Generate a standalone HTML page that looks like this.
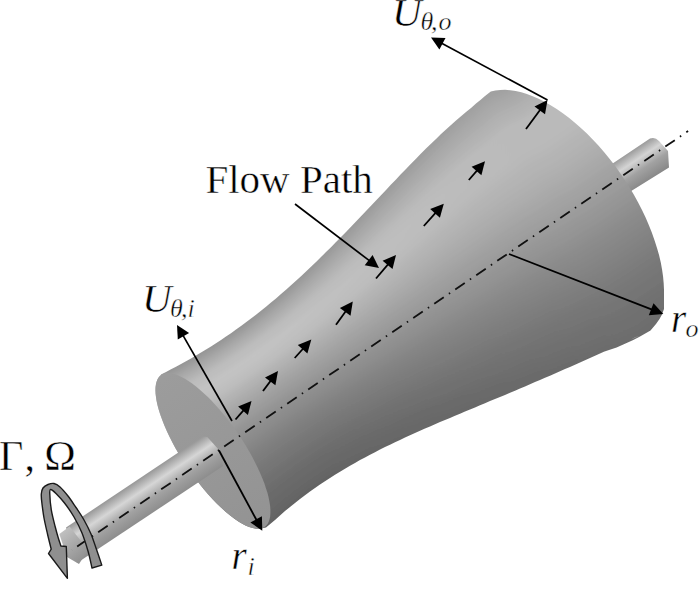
<!DOCTYPE html>
<html><head><meta charset="utf-8"><style>
html,body{margin:0;padding:0;background:#fff;}
body{width:700px;height:602px;overflow:hidden;position:relative;}
svg{position:absolute;left:0;top:0;}
text{font-family:"Liberation Serif",serif;fill:#000;stroke:#fff;stroke-width:0.45px;}
</style></head><body>
<svg width="700" height="602" viewBox="0 0 700 602">
<defs>
<linearGradient id="gShaft" gradientUnits="userSpaceOnUse" x1="138" y1="480" x2="158.6" y2="510.9">
<stop offset="0" stop-color="#9a9a9a"/>
<stop offset="0.3" stop-color="#d6d6d6"/>
<stop offset="0.62" stop-color="#a2a2a2"/>
<stop offset="1" stop-color="#8a8a8a"/>
</linearGradient>
<linearGradient id="gShaft2" gradientUnits="userSpaceOnUse" x1="636" y1="148" x2="654.9" y2="176.4">
<stop offset="0" stop-color="#9c9c9c"/>
<stop offset="0.3" stop-color="#d4d4d4"/>
<stop offset="0.62" stop-color="#a2a2a2"/>
<stop offset="1" stop-color="#888888"/>
</linearGradient>
<linearGradient id="gFace" gradientUnits="userSpaceOnUse" x1="160" y1="380" x2="260" y2="530">
<stop offset="0" stop-color="#9c9c9c"/>
<stop offset="1" stop-color="#939393"/>
</linearGradient>
<linearGradient id="gEnd" gradientUnits="userSpaceOnUse" x1="60" y1="530" x2="85" y2="560">
<stop offset="0" stop-color="#c4c4c4"/>
<stop offset="1" stop-color="#8e8e8e"/>
</linearGradient>
</defs>

<path d="M600,172 L650,138.5 Q655,136.5 659,141 L668,151 L669,167.5 L628,193 Z" fill="url(#gShaft2)"/>
<clipPath id="clipBody"><path d="M161.0,374.5 L166.0,371.9 L171.0,369.3 L176.0,366.7 L181.0,364.0 L186.0,361.2 L191.0,358.4 L196.0,355.5 L201.0,352.6 L206.0,349.5 L211.0,346.4 L216.0,343.2 L221.0,339.9 L226.0,336.6 L231.0,333.2 L236.0,329.6 L241.0,326.0 L246.0,322.3 L251.0,318.6 L256.0,314.7 L261.0,310.7 L266.0,306.7 L271.0,302.6 L276.0,298.4 L281.0,294.1 L286.0,289.7 L291.0,285.3 L296.0,280.8 L301.0,276.2 L306.0,271.5 L311.0,266.8 L316.0,262.0 L321.0,257.1 L326.0,252.1 L331.0,247.2 L336.0,242.1 L341.0,237.0 L346.0,231.9 L351.0,226.7 L356.0,221.5 L361.0,216.3 L366.0,211.0 L371.0,205.8 L376.0,200.5 L381.0,195.2 L386.0,189.9 L391.0,184.6 L396.0,179.4 L401.0,174.1 L406.0,168.9 L411.0,163.8 L416.0,158.7 L421.0,153.6 L426.0,148.6 L431.0,143.7 L436.0,138.9 L441.0,134.1 L446.0,129.5 L451.0,124.9 L456.0,120.5 L461.0,116.2 L466.0,112.1 L471.0,108.1 L476.0,103.4 L480.7,99.7 L485.0,95.9 L490.8,91.4 L495.4,90.4 L500.1,89.9 L505.1,89.8 L510.3,90.2 L515.7,91.0 L521.3,92.3 L526.9,94.0 L532.7,96.2 L538.6,98.8 L544.6,101.8 L550.6,105.2 L556.7,109.0 L562.8,113.2 L568.9,117.8 L574.9,122.7 L580.9,128.0 L586.9,133.6 L592.7,139.5 L598.4,145.6 L604.0,152.1 L609.5,158.7 L614.8,165.6 L619.9,172.7 L624.8,179.9 L629.4,187.2 L633.9,194.7 L638.0,202.3 L642.0,209.9 L645.6,217.5 L648.9,225.2 L651.9,232.8 L654.6,240.4 L657.0,247.9 L659.1,255.3 L660.8,262.6 L662.1,269.7 L663.1,276.7 L663.7,283.4 L664.0,289.9 L664.0,309.0 L662.0,314.5 L659.5,319.0 L656.0,324.0 L650.5,330.5 L640.0,336.5 L633.3,340.0 L616.6,347.5 L603.0,352.0 L640.0,335.4 L635.0,337.6 L630.0,339.9 L625.0,342.2 L620.0,344.4 L615.0,346.7 L610.0,348.9 L605.0,351.2 L600.0,353.5 L595.0,355.7 L590.0,358.0 L585.0,360.2 L580.0,362.4 L575.0,364.7 L570.0,366.9 L565.0,369.1 L560.0,371.3 L555.0,373.5 L550.0,375.7 L545.0,377.8 L540.0,380.0 L535.0,382.1 L530.0,384.3 L525.0,386.4 L520.0,388.5 L515.0,390.7 L510.0,392.8 L505.0,394.9 L500.0,397.0 L495.0,399.0 L490.0,401.1 L485.0,403.2 L480.0,405.3 L475.0,407.4 L470.0,409.5 L465.0,411.6 L460.0,413.7 L455.0,415.8 L450.0,417.9 L445.0,420.0 L440.0,422.1 L435.0,424.3 L430.0,426.4 L425.0,428.6 L420.0,430.8 L415.0,433.1 L410.0,435.3 L405.0,437.6 L400.0,439.9 L395.0,442.3 L390.0,444.7 L385.0,447.1 L380.0,449.6 L375.0,452.2 L370.0,454.8 L365.0,457.4 L360.0,460.1 L355.0,462.9 L350.0,465.8 L345.0,468.7 L340.0,471.7 L335.0,474.8 L330.0,477.9 L325.0,481.2 L320.0,484.6 L315.0,488.0 L310.0,491.6 L305.0,495.3 L300.0,499.0 L295.0,502.9 L290.0,507.0 L285.0,511.1 L280.0,515.4 L275.0,519.9 L266.0,527.6 L261.3,528.4 L258.7,528.8 L255.9,528.7 L252.8,528.1 L249.5,527.1 L246.0,525.7 L242.3,523.8 L238.4,521.5 L234.4,518.7 L230.2,515.6 L225.9,512.0 L221.6,508.1 L217.2,503.9 L212.8,499.4 L208.4,494.5 L204.0,489.5 L199.6,484.1 L195.4,478.6 L191.2,472.9 L187.2,467.1 L183.3,461.2 L179.6,455.3 L176.1,449.3 L172.8,443.3 L169.8,437.3 L167.0,431.5 L164.5,425.7 L162.3,420.1 L160.3,414.7 L158.7,409.5 L157.4,404.6 L156.4,399.9 L155.8,395.5 L155.5,391.5 L155.5,387.8 L155.9,384.5 L156.7,381.5 L157.7,379.0 L159.1,376.9 L160.8,375.3Z"/></clipPath>
<filter id="blurB" x="-5%" y="-5%" width="110%" height="110%"><feGaussianBlur stdDeviation="1.6"/></filter>
<g clip-path="url(#clipBody)"><g filter="url(#blurB)">
<linearGradient id="bg3" gradientUnits="userSpaceOnUse" x1="287.0" y1="403.8" x2="559.9" y2="218.2"><stop offset="0" stop-color="#949494"/><stop offset="1" stop-color="#a0a0a0"/></linearGradient>
<path d="M119.8,389.0 L126.4,384.6 L133.0,380.1 L139.6,375.6 L146.2,371.1 L152.8,366.6 L159.9,362.7 L167.1,359.1 L174.3,355.4 L181.3,351.6 L188.4,347.7 L195.3,343.6 L202.2,339.5 L208.9,335.2 L215.6,330.9 L222.3,326.4 L228.8,321.8 L235.3,317.1 L241.7,312.3 L248.0,307.4 L254.3,302.4 L260.5,297.2 L266.6,292.0 L272.7,286.7 L278.7,281.4 L284.7,275.9 L290.6,270.3 L296.4,264.7 L302.2,259.0 L308.0,253.3 L313.7,247.5 L319.4,241.6 L325.1,235.7 L330.7,229.8 L336.3,223.8 L341.9,217.7 L347.4,211.7 L353.0,205.6 L358.5,199.5 L364.0,193.4 L369.5,187.3 L375.1,181.2 L380.6,175.1 L386.1,169.0 L391.6,162.9 L397.2,156.8 L402.8,150.8 L408.4,144.8 L414.0,138.9 L419.7,133.0 L425.4,127.2 L431.2,121.5 L437.0,115.8 L442.9,110.3 L448.9,104.9 L455.0,99.6 L461.2,94.5 L467.1,88.8 L473.2,83.7 L480.3,79.8 L487.9,76.9 L495.4,73.6 L502.0,69.1 L508.6,64.6 L515.2,60.1 L521.8,55.6 L528.5,51.1 L535.1,46.6 L541.7,42.1 L548.3,37.6 L554.9,33.1 L561.5,28.6 L568.1,24.1 L574.8,19.6 L581.4,15.1 L834.5,387.4 L827.9,391.9 L821.3,396.4 L814.7,400.9 L808.1,405.4 L801.5,409.9 L794.8,414.4 L788.2,418.9 L781.6,423.4 L775.0,427.9 L768.4,432.4 L761.8,436.9 L755.1,441.4 L748.5,445.9 L742.2,450.8 L736.0,455.9 L729.6,460.6 L722.2,464.0 L714.2,466.5 L706.3,469.2 L698.4,471.8 L690.5,474.4 L682.6,476.9 L674.6,479.3 L666.5,481.8 L658.5,484.1 L650.4,486.4 L642.2,488.7 L634.1,491.0 L625.9,493.2 L617.7,495.3 L609.5,497.5 L601.2,499.6 L593.0,501.6 L584.7,503.7 L576.4,505.7 L568.1,507.8 L559.8,509.8 L551.5,511.8 L543.3,513.9 L535.0,515.9 L526.7,518.0 L518.5,520.2 L510.3,522.3 L502.1,524.5 L494.0,526.8 L485.9,529.2 L477.9,531.6 L470.0,534.1 L462.1,536.8 L454.3,539.5 L446.6,542.4 L438.9,545.4 L431.4,548.6 L424.0,551.9 L416.7,555.4 L409.5,559.0 L402.4,562.9 L395.5,566.9 L388.7,571.1 L382.0,575.5 L375.5,580.2 L369.1,585.0 L362.9,590.1 L356.8,595.4 L350.9,600.9 L345.1,606.6 L339.5,612.5 L333.8,618.4 L327.8,623.8 L321.1,628.3 L314.5,632.8 L307.9,637.3 L301.3,641.8 L294.7,646.3Z" fill="url(#bg3)"/>
<linearGradient id="bg5" gradientUnits="userSpaceOnUse" x1="287.0" y1="403.8" x2="559.9" y2="218.2"><stop offset="0" stop-color="#949494"/><stop offset="1" stop-color="#a0a0a0"/></linearGradient>
<path d="M121.7,392.0 L128.4,387.5 L135.0,383.0 L141.6,378.5 L148.2,374.0 L154.8,369.5 L161.9,365.6 L169.1,361.9 L176.2,358.2 L183.3,354.4 L190.2,350.4 L197.2,346.4 L204.0,342.2 L210.8,338.0 L217.5,333.6 L224.1,329.1 L230.7,324.5 L237.2,319.9 L243.6,315.1 L249.9,310.2 L256.2,305.2 L262.4,300.1 L268.6,294.9 L274.7,289.6 L280.7,284.3 L286.7,278.8 L292.6,273.3 L298.5,267.8 L304.3,262.1 L310.1,256.4 L315.9,250.7 L321.6,244.8 L327.3,239.0 L333.0,233.1 L338.6,227.1 L344.2,221.2 L349.8,215.2 L355.4,209.1 L360.9,203.1 L366.5,197.0 L372.0,191.0 L377.6,184.9 L383.1,178.8 L388.7,172.8 L394.3,166.8 L399.9,160.8 L405.5,154.8 L411.1,148.8 L416.8,143.0 L422.5,137.1 L428.2,131.4 L434.1,125.7 L439.9,120.1 L445.9,114.6 L451.9,109.2 L458.0,104.0 L464.2,98.9 L470.1,93.3 L476.3,88.1 L483.3,84.3 L491.0,81.3 L498.4,78.0 L505.0,73.5 L511.6,69.0 L518.2,64.5 L524.8,60.0 L531.4,55.5 L538.1,51.0 L544.7,46.5 L551.3,42.0 L557.9,37.5 L564.5,33.0 L571.1,28.5 L577.7,24.0 L584.4,19.5 L834.5,387.4 L827.9,391.9 L821.3,396.4 L814.7,400.9 L808.1,405.4 L801.5,409.9 L794.8,414.4 L788.2,418.9 L781.6,423.4 L775.0,427.9 L768.4,432.4 L761.8,436.9 L755.1,441.4 L748.5,445.9 L742.2,450.8 L736.0,455.9 L729.6,460.6 L722.2,464.0 L714.2,466.5 L706.3,469.2 L698.4,471.8 L690.5,474.4 L682.6,476.9 L674.6,479.3 L666.5,481.8 L658.5,484.1 L650.4,486.4 L642.2,488.7 L634.1,491.0 L625.9,493.2 L617.7,495.3 L609.5,497.5 L601.2,499.6 L593.0,501.6 L584.7,503.7 L576.4,505.7 L568.1,507.8 L559.8,509.8 L551.5,511.8 L543.3,513.9 L535.0,515.9 L526.7,518.0 L518.5,520.2 L510.3,522.3 L502.1,524.5 L494.0,526.8 L485.9,529.2 L477.9,531.6 L470.0,534.1 L462.1,536.8 L454.3,539.5 L446.6,542.4 L438.9,545.4 L431.4,548.6 L424.0,551.9 L416.7,555.4 L409.5,559.0 L402.4,562.9 L395.5,566.9 L388.7,571.1 L382.0,575.5 L375.5,580.2 L369.1,585.0 L362.9,590.1 L356.8,595.4 L350.9,600.9 L345.1,606.6 L339.5,612.5 L333.8,618.4 L327.8,623.8 L321.1,628.3 L314.5,632.8 L307.9,637.3 L301.3,641.8 L294.7,646.3Z" fill="url(#bg5)"/>
<linearGradient id="bg7" gradientUnits="userSpaceOnUse" x1="287.0" y1="403.8" x2="559.9" y2="218.2"><stop offset="0" stop-color="#949494"/><stop offset="1" stop-color="#a0a0a0"/></linearGradient>
<path d="M123.7,394.9 L130.3,390.4 L136.9,385.9 L143.6,381.4 L150.2,376.9 L156.8,372.4 L163.8,368.5 L171.0,364.8 L178.1,361.0 L185.2,357.2 L192.1,353.2 L199.1,349.2 L205.9,345.0 L212.7,340.7 L219.4,336.4 L226.0,331.9 L232.6,327.3 L239.1,322.6 L245.5,317.8 L251.8,312.9 L258.1,308.0 L264.3,302.9 L270.5,297.8 L276.6,292.5 L282.7,287.2 L288.7,281.8 L294.6,276.3 L300.6,270.8 L306.4,265.2 L312.2,259.5 L318.0,253.8 L323.8,248.1 L329.5,242.2 L335.2,236.4 L340.9,230.5 L346.5,224.6 L352.1,218.6 L357.8,212.6 L363.4,206.7 L369.0,200.7 L374.5,194.6 L380.1,188.6 L385.7,182.6 L391.3,176.6 L396.9,170.6 L402.5,164.7 L408.2,158.8 L413.9,152.9 L419.6,147.0 L425.3,141.2 L431.1,135.5 L436.9,129.9 L442.8,124.3 L448.8,118.9 L454.8,113.5 L461.0,108.3 L467.2,103.3 L473.1,97.7 L479.3,92.6 L486.3,88.7 L494.0,85.7 L501.4,82.4 L508.0,77.9 L514.6,73.4 L521.2,68.9 L527.8,64.4 L534.4,59.9 L541.0,55.4 L547.7,50.9 L554.3,46.4 L560.9,41.9 L567.5,37.4 L574.1,32.9 L580.7,28.4 L587.4,23.9 L834.5,387.4 L827.9,391.9 L821.3,396.4 L814.7,400.9 L808.1,405.4 L801.5,409.9 L794.8,414.4 L788.2,418.9 L781.6,423.4 L775.0,427.9 L768.4,432.4 L761.8,436.9 L755.1,441.4 L748.5,445.9 L742.2,450.8 L736.0,455.9 L729.6,460.6 L722.2,464.0 L714.2,466.5 L706.3,469.2 L698.4,471.8 L690.5,474.4 L682.6,476.9 L674.6,479.3 L666.5,481.8 L658.5,484.1 L650.4,486.4 L642.2,488.7 L634.1,491.0 L625.9,493.2 L617.7,495.3 L609.5,497.5 L601.2,499.6 L593.0,501.6 L584.7,503.7 L576.4,505.7 L568.1,507.8 L559.8,509.8 L551.5,511.8 L543.3,513.9 L535.0,515.9 L526.7,518.0 L518.5,520.2 L510.3,522.3 L502.1,524.5 L494.0,526.8 L485.9,529.2 L477.9,531.6 L470.0,534.1 L462.1,536.8 L454.3,539.5 L446.6,542.4 L438.9,545.4 L431.4,548.6 L424.0,551.9 L416.7,555.4 L409.5,559.0 L402.4,562.9 L395.5,566.9 L388.7,571.1 L382.0,575.5 L375.5,580.2 L369.1,585.0 L362.9,590.1 L356.8,595.4 L350.9,600.9 L345.1,606.6 L339.5,612.5 L333.8,618.4 L327.8,623.8 L321.1,628.3 L314.5,632.8 L307.9,637.3 L301.3,641.8 L294.7,646.3Z" fill="url(#bg7)"/>
<linearGradient id="bg9" gradientUnits="userSpaceOnUse" x1="287.0" y1="403.8" x2="559.9" y2="218.2"><stop offset="0" stop-color="#969696"/><stop offset="1" stop-color="#a1a1a1"/></linearGradient>
<path d="M125.7,397.8 L132.3,393.3 L138.9,388.8 L145.5,384.3 L152.2,379.8 L158.8,375.3 L165.8,371.4 L172.9,367.7 L180.0,363.9 L187.1,360.0 L194.0,356.0 L200.9,351.9 L207.8,347.7 L214.5,343.5 L221.2,339.1 L227.9,334.6 L234.4,330.0 L240.9,325.4 L247.4,320.6 L253.7,315.7 L260.0,310.8 L266.3,305.7 L272.5,300.6 L278.6,295.4 L284.7,290.1 L290.7,284.8 L296.7,279.3 L302.6,273.8 L308.5,268.3 L314.4,262.6 L320.2,257.0 L326.0,251.3 L331.7,245.5 L337.5,239.7 L343.2,233.9 L348.8,228.0 L354.5,222.1 L360.1,216.2 L365.8,210.2 L371.4,204.3 L377.0,198.3 L382.7,192.4 L388.3,186.4 L393.9,180.5 L399.6,174.5 L405.2,168.6 L410.9,162.7 L416.6,156.9 L422.3,151.1 L428.1,145.4 L433.9,139.7 L439.8,134.1 L445.7,128.6 L451.7,123.2 L457.8,117.9 L463.9,112.7 L470.2,107.6 L476.1,102.2 L482.3,97.1 L489.4,93.2 L497.0,90.1 L504.3,86.8 L511.0,82.3 L517.6,77.8 L524.2,73.3 L530.8,68.8 L537.4,64.3 L544.0,59.8 L550.7,55.3 L557.3,50.8 L563.9,46.3 L570.5,41.8 L577.1,37.3 L583.7,32.8 L590.3,28.3 L834.5,387.4 L827.9,391.9 L821.3,396.4 L814.7,400.9 L808.1,405.4 L801.5,409.9 L794.8,414.4 L788.2,418.9 L781.6,423.4 L775.0,427.9 L768.4,432.4 L761.8,436.9 L755.1,441.4 L748.5,445.9 L742.2,450.8 L736.0,455.9 L729.6,460.6 L722.2,464.0 L714.2,466.5 L706.3,469.2 L698.4,471.8 L690.5,474.4 L682.6,476.9 L674.6,479.3 L666.5,481.8 L658.5,484.1 L650.4,486.4 L642.2,488.7 L634.1,491.0 L625.9,493.2 L617.7,495.3 L609.5,497.5 L601.2,499.6 L593.0,501.6 L584.7,503.7 L576.4,505.7 L568.1,507.8 L559.8,509.8 L551.5,511.8 L543.3,513.9 L535.0,515.9 L526.7,518.0 L518.5,520.2 L510.3,522.3 L502.1,524.5 L494.0,526.8 L485.9,529.2 L477.9,531.6 L470.0,534.1 L462.1,536.8 L454.3,539.5 L446.6,542.4 L438.9,545.4 L431.4,548.6 L424.0,551.9 L416.7,555.4 L409.5,559.0 L402.4,562.9 L395.5,566.9 L388.7,571.1 L382.0,575.5 L375.5,580.2 L369.1,585.0 L362.9,590.1 L356.8,595.4 L350.9,600.9 L345.1,606.6 L339.5,612.5 L333.8,618.4 L327.8,623.8 L321.1,628.3 L314.5,632.8 L307.9,637.3 L301.3,641.8 L294.7,646.3Z" fill="url(#bg9)"/>
<linearGradient id="bg11" gradientUnits="userSpaceOnUse" x1="287.0" y1="403.8" x2="559.9" y2="218.2"><stop offset="0" stop-color="#9d9d9d"/><stop offset="1" stop-color="#a5a5a5"/></linearGradient>
<path d="M127.7,400.7 L134.3,396.2 L140.9,391.7 L147.5,387.2 L154.1,382.7 L160.7,378.2 L167.8,374.3 L174.9,370.5 L182.0,366.7 L189.0,362.8 L195.9,358.8 L202.8,354.7 L209.6,350.5 L216.4,346.2 L223.1,341.8 L229.7,337.4 L236.3,332.8 L242.8,328.1 L249.2,323.4 L255.6,318.5 L261.9,313.6 L268.2,308.6 L274.4,303.5 L280.6,298.3 L286.7,293.0 L292.7,287.7 L298.7,282.3 L304.7,276.9 L310.6,271.3 L316.5,265.8 L322.3,260.1 L328.2,254.5 L333.9,248.8 L339.7,243.0 L345.4,237.2 L351.2,231.4 L356.9,225.5 L362.5,219.7 L368.2,213.8 L373.9,207.9 L379.5,202.0 L385.2,196.1 L390.9,190.2 L396.5,184.3 L402.2,178.4 L407.9,172.6 L413.6,166.7 L419.3,160.9 L425.1,155.2 L430.9,149.5 L436.8,143.9 L442.6,138.3 L448.6,132.8 L454.6,127.4 L460.7,122.2 L466.9,117.0 L473.2,112.0 L479.1,106.6 L485.4,101.5 L492.4,97.6 L500.0,94.6 L507.3,91.2 L514.0,86.7 L520.6,82.2 L527.2,77.7 L533.8,73.2 L540.4,68.7 L547.0,64.2 L553.6,59.7 L560.3,55.2 L566.9,50.7 L573.5,46.2 L580.1,41.7 L586.7,37.2 L593.3,32.7 L834.5,387.4 L827.9,391.9 L821.3,396.4 L814.7,400.9 L808.1,405.4 L801.5,409.9 L794.8,414.4 L788.2,418.9 L781.6,423.4 L775.0,427.9 L768.4,432.4 L761.8,436.9 L755.1,441.4 L748.5,445.9 L742.2,450.8 L736.0,455.9 L729.6,460.6 L722.2,464.0 L714.2,466.5 L706.3,469.2 L698.4,471.8 L690.5,474.4 L682.6,476.9 L674.6,479.3 L666.5,481.8 L658.5,484.1 L650.4,486.4 L642.2,488.7 L634.1,491.0 L625.9,493.2 L617.7,495.3 L609.5,497.5 L601.2,499.6 L593.0,501.6 L584.7,503.7 L576.4,505.7 L568.1,507.8 L559.8,509.8 L551.5,511.8 L543.3,513.9 L535.0,515.9 L526.7,518.0 L518.5,520.2 L510.3,522.3 L502.1,524.5 L494.0,526.8 L485.9,529.2 L477.9,531.6 L470.0,534.1 L462.1,536.8 L454.3,539.5 L446.6,542.4 L438.9,545.4 L431.4,548.6 L424.0,551.9 L416.7,555.4 L409.5,559.0 L402.4,562.9 L395.5,566.9 L388.7,571.1 L382.0,575.5 L375.5,580.2 L369.1,585.0 L362.9,590.1 L356.8,595.4 L350.9,600.9 L345.1,606.6 L339.5,612.5 L333.8,618.4 L327.8,623.8 L321.1,628.3 L314.5,632.8 L307.9,637.3 L301.3,641.8 L294.7,646.3Z" fill="url(#bg11)"/>
<linearGradient id="bg13" gradientUnits="userSpaceOnUse" x1="287.0" y1="403.8" x2="559.9" y2="218.2"><stop offset="0" stop-color="#a4a4a4"/><stop offset="1" stop-color="#a9a9a9"/></linearGradient>
<path d="M129.6,403.6 L136.3,399.1 L142.9,394.6 L149.5,390.1 L156.1,385.6 L162.7,381.1 L169.7,377.2 L176.8,373.4 L183.9,369.5 L190.9,365.6 L197.8,361.6 L204.7,357.5 L211.5,353.3 L218.3,349.0 L225.0,344.6 L231.6,340.1 L238.2,335.5 L244.7,330.9 L251.1,326.1 L257.5,321.3 L263.8,316.4 L270.1,311.4 L276.3,306.3 L282.5,301.2 L288.6,295.9 L294.7,290.7 L300.7,285.3 L306.7,279.9 L312.7,274.4 L318.6,268.9 L324.5,263.3 L330.3,257.7 L336.2,252.0 L342.0,246.3 L347.7,240.6 L353.5,234.8 L359.2,229.0 L364.9,223.2 L370.6,217.4 L376.3,211.5 L382.0,205.7 L387.7,199.8 L393.4,194.0 L399.1,188.1 L404.8,182.3 L410.6,176.5 L416.3,170.7 L422.1,165.0 L427.9,159.3 L433.7,153.6 L439.6,148.0 L445.5,142.5 L451.5,137.1 L457.5,131.7 L463.7,126.5 L469.9,121.4 L476.2,116.4 L482.1,111.0 L488.4,106.0 L495.4,102.1 L503.0,99.0 L510.3,95.6 L516.9,91.1 L523.6,86.6 L530.2,82.1 L536.8,77.6 L543.4,73.1 L550.0,68.6 L556.6,64.1 L563.3,59.6 L569.9,55.1 L576.5,50.6 L583.1,46.1 L589.7,41.6 L596.3,37.1 L834.5,387.4 L827.9,391.9 L821.3,396.4 L814.7,400.9 L808.1,405.4 L801.5,409.9 L794.8,414.4 L788.2,418.9 L781.6,423.4 L775.0,427.9 L768.4,432.4 L761.8,436.9 L755.1,441.4 L748.5,445.9 L742.2,450.8 L736.0,455.9 L729.6,460.6 L722.2,464.0 L714.2,466.5 L706.3,469.2 L698.4,471.8 L690.5,474.4 L682.6,476.9 L674.6,479.3 L666.5,481.8 L658.5,484.1 L650.4,486.4 L642.2,488.7 L634.1,491.0 L625.9,493.2 L617.7,495.3 L609.5,497.5 L601.2,499.6 L593.0,501.6 L584.7,503.7 L576.4,505.7 L568.1,507.8 L559.8,509.8 L551.5,511.8 L543.3,513.9 L535.0,515.9 L526.7,518.0 L518.5,520.2 L510.3,522.3 L502.1,524.5 L494.0,526.8 L485.9,529.2 L477.9,531.6 L470.0,534.1 L462.1,536.8 L454.3,539.5 L446.6,542.4 L438.9,545.4 L431.4,548.6 L424.0,551.9 L416.7,555.4 L409.5,559.0 L402.4,562.9 L395.5,566.9 L388.7,571.1 L382.0,575.5 L375.5,580.2 L369.1,585.0 L362.9,590.1 L356.8,595.4 L350.9,600.9 L345.1,606.6 L339.5,612.5 L333.8,618.4 L327.8,623.8 L321.1,628.3 L314.5,632.8 L307.9,637.3 L301.3,641.8 L294.7,646.3Z" fill="url(#bg13)"/>
<linearGradient id="bg15" gradientUnits="userSpaceOnUse" x1="287.0" y1="403.8" x2="559.9" y2="218.2"><stop offset="0" stop-color="#aaaaaa"/><stop offset="1" stop-color="#acacac"/></linearGradient>
<path d="M131.6,406.5 L138.2,402.0 L144.8,397.5 L151.5,393.0 L158.1,388.5 L164.7,384.0 L171.7,380.0 L178.8,376.2 L185.8,372.4 L192.8,368.4 L199.7,364.3 L206.6,360.2 L213.4,356.0 L220.1,351.7 L226.8,347.3 L233.5,342.9 L240.0,338.3 L246.6,333.6 L253.0,328.9 L259.4,324.1 L265.8,319.2 L272.0,314.2 L278.3,309.2 L284.5,304.1 L290.6,298.9 L296.7,293.6 L302.8,288.3 L308.8,282.9 L314.8,277.5 L320.7,272.0 L326.6,266.5 L332.5,260.9 L338.4,255.3 L344.2,249.6 L350.0,243.9 L355.8,238.2 L361.6,232.5 L367.3,226.7 L373.1,220.9 L378.8,215.1 L384.5,209.3 L390.3,203.5 L396.0,197.7 L401.7,191.9 L407.5,186.2 L413.2,180.4 L419.0,174.7 L424.8,169.0 L430.7,163.3 L436.5,157.7 L442.4,152.2 L448.4,146.7 L454.4,141.3 L460.4,136.0 L466.6,130.8 L472.8,125.8 L479.1,120.8 L485.2,115.5 L491.4,110.4 L498.4,106.5 L506.0,103.4 L513.3,100.0 L519.9,95.5 L526.5,91.0 L533.2,86.5 L539.8,82.0 L546.4,77.5 L553.0,73.0 L559.6,68.5 L566.2,64.0 L572.9,59.5 L579.5,55.0 L586.1,50.5 L592.7,46.0 L599.3,41.5 L834.5,387.4 L827.9,391.9 L821.3,396.4 L814.7,400.9 L808.1,405.4 L801.5,409.9 L794.8,414.4 L788.2,418.9 L781.6,423.4 L775.0,427.9 L768.4,432.4 L761.8,436.9 L755.1,441.4 L748.5,445.9 L742.2,450.8 L736.0,455.9 L729.6,460.6 L722.2,464.0 L714.2,466.5 L706.3,469.2 L698.4,471.8 L690.5,474.4 L682.6,476.9 L674.6,479.3 L666.5,481.8 L658.5,484.1 L650.4,486.4 L642.2,488.7 L634.1,491.0 L625.9,493.2 L617.7,495.3 L609.5,497.5 L601.2,499.6 L593.0,501.6 L584.7,503.7 L576.4,505.7 L568.1,507.8 L559.8,509.8 L551.5,511.8 L543.3,513.9 L535.0,515.9 L526.7,518.0 L518.5,520.2 L510.3,522.3 L502.1,524.5 L494.0,526.8 L485.9,529.2 L477.9,531.6 L470.0,534.1 L462.1,536.8 L454.3,539.5 L446.6,542.4 L438.9,545.4 L431.4,548.6 L424.0,551.9 L416.7,555.4 L409.5,559.0 L402.4,562.9 L395.5,566.9 L388.7,571.1 L382.0,575.5 L375.5,580.2 L369.1,585.0 L362.9,590.1 L356.8,595.4 L350.9,600.9 L345.1,606.6 L339.5,612.5 L333.8,618.4 L327.8,623.8 L321.1,628.3 L314.5,632.8 L307.9,637.3 L301.3,641.8 L294.7,646.3Z" fill="url(#bg15)"/>
<path d="M133.6,409.4 L140.2,404.9 L146.8,400.4 L153.4,395.9 L160.1,391.4 L166.7,386.9 L173.6,382.9 L180.7,379.1 L187.7,375.2 L194.7,371.2 L201.6,367.1 L208.5,363.0 L215.3,358.8 L222.0,354.5 L228.7,350.1 L235.3,345.6 L241.9,341.0 L248.4,336.4 L254.9,331.7 L261.3,326.9 L267.7,322.0 L274.0,317.1 L280.2,312.0 L286.4,306.9 L292.6,301.8 L298.7,296.6 L304.8,291.3 L310.9,285.9 L316.9,280.6 L322.8,275.1 L328.8,269.6 L334.7,264.1 L340.6,258.5 L346.5,252.9 L352.3,247.3 L358.1,241.6 L363.9,235.9 L369.7,230.2 L375.5,224.5 L381.3,218.8 L387.0,213.0 L392.8,207.3 L398.6,201.5 L404.3,195.8 L410.1,190.1 L415.9,184.3 L421.7,178.7 L427.6,173.0 L433.4,167.4 L439.3,161.9 L445.3,156.4 L451.2,150.9 L457.3,145.6 L463.4,140.3 L469.5,135.2 L475.8,130.1 L482.1,125.2 L488.2,119.9 L494.4,114.9 L501.5,111.0 L509.0,107.8 L516.3,104.4 L522.9,99.9 L529.5,95.4 L536.2,90.9 L542.8,86.4 L549.4,81.9 L556.0,77.4 L562.6,72.9 L569.2,68.4 L575.8,63.9 L582.5,59.4 L589.1,54.9 L595.7,50.4 L602.3,45.9 L834.5,387.4 L827.9,391.9 L821.3,396.4 L814.7,400.9 L808.1,405.4 L801.5,409.9 L794.8,414.4 L788.2,418.9 L781.6,423.4 L775.0,427.9 L768.4,432.4 L761.8,436.9 L755.1,441.4 L748.5,445.9 L742.2,450.8 L736.0,455.9 L729.6,460.6 L722.2,464.0 L714.2,466.5 L706.3,469.2 L698.4,471.8 L690.5,474.4 L682.6,476.9 L674.6,479.3 L666.5,481.8 L658.5,484.1 L650.4,486.4 L642.2,488.7 L634.1,491.0 L625.9,493.2 L617.7,495.3 L609.5,497.5 L601.2,499.6 L593.0,501.6 L584.7,503.7 L576.4,505.7 L568.1,507.8 L559.8,509.8 L551.5,511.8 L543.3,513.9 L535.0,515.9 L526.7,518.0 L518.5,520.2 L510.3,522.3 L502.1,524.5 L494.0,526.8 L485.9,529.2 L477.9,531.6 L470.0,534.1 L462.1,536.8 L454.3,539.5 L446.6,542.4 L438.9,545.4 L431.4,548.6 L424.0,551.9 L416.7,555.4 L409.5,559.0 L402.4,562.9 L395.5,566.9 L388.7,571.1 L382.0,575.5 L375.5,580.2 L369.1,585.0 L362.9,590.1 L356.8,595.4 L350.9,600.9 L345.1,606.6 L339.5,612.5 L333.8,618.4 L327.8,623.8 L321.1,628.3 L314.5,632.8 L307.9,637.3 L301.3,641.8 L294.7,646.3Z" fill="#b0b0b0"/>
<linearGradient id="bg18" gradientUnits="userSpaceOnUse" x1="287.0" y1="403.8" x2="559.9" y2="218.2"><stop offset="0" stop-color="#b6b6b6"/><stop offset="1" stop-color="#b3b3b3"/></linearGradient>
<path d="M135.6,412.3 L142.2,407.8 L148.8,403.3 L155.4,398.8 L162.0,394.3 L168.6,389.8 L175.6,385.8 L182.7,381.9 L189.6,378.0 L196.6,374.0 L203.5,369.9 L210.3,365.8 L217.1,361.5 L223.9,357.2 L230.6,352.8 L237.2,348.3 L243.8,343.8 L250.3,339.2 L256.8,334.4 L263.2,329.7 L269.6,324.8 L275.9,319.9 L282.2,314.9 L288.4,309.8 L294.6,304.7 L300.7,299.5 L306.8,294.3 L312.9,289.0 L319.0,283.6 L325.0,278.2 L330.9,272.8 L336.9,267.3 L342.8,261.8 L348.7,256.2 L354.6,250.6 L360.4,245.0 L366.3,239.4 L372.1,233.7 L377.9,228.1 L383.7,222.4 L389.5,216.7 L395.3,211.0 L401.1,205.3 L406.9,199.6 L412.8,193.9 L418.6,188.3 L424.4,182.6 L430.3,177.1 L436.2,171.5 L442.1,166.0 L448.1,160.5 L454.1,155.1 L460.2,149.8 L466.3,144.6 L472.5,139.5 L478.8,134.5 L485.1,129.6 L491.2,124.3 L497.5,119.3 L504.5,115.4 L512.0,112.2 L519.3,108.8 L525.9,104.3 L532.5,99.8 L539.1,95.3 L545.8,90.8 L552.4,86.3 L559.0,81.8 L565.6,77.3 L572.2,72.8 L578.8,68.3 L585.5,63.8 L592.1,59.3 L598.7,54.8 L605.3,50.3 L834.5,387.4 L827.9,391.9 L821.3,396.4 L814.7,400.9 L808.1,405.4 L801.5,409.9 L794.8,414.4 L788.2,418.9 L781.6,423.4 L775.0,427.9 L768.4,432.4 L761.8,436.9 L755.1,441.4 L748.5,445.9 L742.2,450.8 L736.0,455.9 L729.6,460.6 L722.2,464.0 L714.2,466.5 L706.3,469.2 L698.4,471.8 L690.5,474.4 L682.6,476.9 L674.6,479.3 L666.5,481.8 L658.5,484.1 L650.4,486.4 L642.2,488.7 L634.1,491.0 L625.9,493.2 L617.7,495.3 L609.5,497.5 L601.2,499.6 L593.0,501.6 L584.7,503.7 L576.4,505.7 L568.1,507.8 L559.8,509.8 L551.5,511.8 L543.3,513.9 L535.0,515.9 L526.7,518.0 L518.5,520.2 L510.3,522.3 L502.1,524.5 L494.0,526.8 L485.9,529.2 L477.9,531.6 L470.0,534.1 L462.1,536.8 L454.3,539.5 L446.6,542.4 L438.9,545.4 L431.4,548.6 L424.0,551.9 L416.7,555.4 L409.5,559.0 L402.4,562.9 L395.5,566.9 L388.7,571.1 L382.0,575.5 L375.5,580.2 L369.1,585.0 L362.9,590.1 L356.8,595.4 L350.9,600.9 L345.1,606.6 L339.5,612.5 L333.8,618.4 L327.8,623.8 L321.1,628.3 L314.5,632.8 L307.9,637.3 L301.3,641.8 L294.7,646.3Z" fill="url(#bg18)"/>
<linearGradient id="bg20" gradientUnits="userSpaceOnUse" x1="287.0" y1="403.8" x2="559.9" y2="218.2"><stop offset="0" stop-color="#bcbcbc"/><stop offset="1" stop-color="#b6b6b6"/></linearGradient>
<path d="M137.5,415.2 L144.2,410.7 L150.8,406.2 L157.4,401.7 L164.0,397.2 L170.6,392.7 L177.6,388.7 L184.6,384.8 L191.6,380.8 L198.5,376.8 L205.4,372.7 L212.2,368.5 L219.0,364.3 L225.7,360.0 L232.4,355.6 L239.1,351.1 L245.6,346.5 L252.2,341.9 L258.7,337.2 L265.1,332.5 L271.5,327.6 L277.8,322.7 L284.1,317.7 L290.4,312.7 L296.6,307.6 L302.8,302.5 L308.9,297.3 L315.0,292.0 L321.0,286.7 L327.1,281.4 L333.1,276.0 L339.1,270.5 L345.0,265.0 L351.0,259.5 L356.9,254.0 L362.8,248.4 L368.6,242.9 L374.5,237.3 L380.3,231.6 L386.2,226.0 L392.0,220.4 L397.9,214.7 L403.7,209.1 L409.5,203.4 L415.4,197.8 L421.3,192.2 L427.1,186.6 L433.0,181.1 L439.0,175.6 L444.9,170.1 L450.9,164.7 L457.0,159.4 L463.1,154.1 L469.2,148.9 L475.4,143.8 L481.7,138.9 L488.1,134.0 L494.2,128.8 L500.5,123.8 L507.5,119.9 L515.0,116.6 L522.3,113.2 L528.9,108.7 L535.5,104.2 L542.1,99.7 L548.8,95.2 L555.4,90.7 L562.0,86.2 L568.6,81.7 L575.2,77.2 L581.8,72.7 L588.4,68.2 L595.1,63.7 L601.7,59.2 L608.3,54.7 L834.5,387.4 L827.9,391.9 L821.3,396.4 L814.7,400.9 L808.1,405.4 L801.5,409.9 L794.8,414.4 L788.2,418.9 L781.6,423.4 L775.0,427.9 L768.4,432.4 L761.8,436.9 L755.1,441.4 L748.5,445.9 L742.2,450.8 L736.0,455.9 L729.6,460.6 L722.2,464.0 L714.2,466.5 L706.3,469.2 L698.4,471.8 L690.5,474.4 L682.6,476.9 L674.6,479.3 L666.5,481.8 L658.5,484.1 L650.4,486.4 L642.2,488.7 L634.1,491.0 L625.9,493.2 L617.7,495.3 L609.5,497.5 L601.2,499.6 L593.0,501.6 L584.7,503.7 L576.4,505.7 L568.1,507.8 L559.8,509.8 L551.5,511.8 L543.3,513.9 L535.0,515.9 L526.7,518.0 L518.5,520.2 L510.3,522.3 L502.1,524.5 L494.0,526.8 L485.9,529.2 L477.9,531.6 L470.0,534.1 L462.1,536.8 L454.3,539.5 L446.6,542.4 L438.9,545.4 L431.4,548.6 L424.0,551.9 L416.7,555.4 L409.5,559.0 L402.4,562.9 L395.5,566.9 L388.7,571.1 L382.0,575.5 L375.5,580.2 L369.1,585.0 L362.9,590.1 L356.8,595.4 L350.9,600.9 L345.1,606.6 L339.5,612.5 L333.8,618.4 L327.8,623.8 L321.1,628.3 L314.5,632.8 L307.9,637.3 L301.3,641.8 L294.7,646.3Z" fill="url(#bg20)"/>
<linearGradient id="bg22" gradientUnits="userSpaceOnUse" x1="287.0" y1="403.8" x2="559.9" y2="218.2"><stop offset="0" stop-color="#bebebe"/><stop offset="1" stop-color="#bababa"/></linearGradient>
<path d="M139.5,418.1 L146.1,413.6 L152.8,409.1 L159.4,404.6 L166.0,400.1 L172.6,395.6 L179.5,391.6 L186.5,387.7 L193.5,383.7 L200.4,379.6 L207.3,375.5 L214.1,371.3 L220.9,367.0 L227.6,362.7 L234.3,358.3 L240.9,353.8 L247.5,349.3 L254.1,344.7 L260.5,340.0 L267.0,335.2 L273.4,330.4 L279.7,325.5 L286.1,320.6 L292.3,315.6 L298.6,310.5 L304.8,305.4 L310.9,300.3 L317.0,295.0 L323.1,289.8 L329.2,284.5 L335.2,279.1 L341.3,273.7 L347.2,268.3 L353.2,262.9 L359.1,257.4 L365.1,251.9 L371.0,246.3 L376.9,240.8 L382.8,235.2 L388.6,229.6 L394.5,224.0 L400.4,218.4 L406.3,212.8 L412.1,207.3 L418.0,201.7 L423.9,196.1 L429.8,190.6 L435.8,185.1 L441.7,179.7 L447.7,174.2 L453.8,168.9 L459.8,163.6 L465.9,158.3 L472.1,153.2 L478.4,148.2 L484.7,143.2 L491.1,138.4 L497.2,133.2 L503.5,128.3 L510.5,124.3 L518.0,121.1 L525.3,117.5 L531.9,113.1 L538.5,108.6 L545.1,104.1 L551.7,99.6 L558.4,95.1 L565.0,90.6 L571.6,86.1 L578.2,81.6 L584.8,77.1 L591.4,72.6 L598.0,68.1 L604.7,63.6 L611.3,59.1 L834.5,387.4 L827.9,391.9 L821.3,396.4 L814.7,400.9 L808.1,405.4 L801.5,409.9 L794.8,414.4 L788.2,418.9 L781.6,423.4 L775.0,427.9 L768.4,432.4 L761.8,436.9 L755.1,441.4 L748.5,445.9 L742.2,450.8 L736.0,455.9 L729.6,460.6 L722.2,464.0 L714.2,466.5 L706.3,469.2 L698.4,471.8 L690.5,474.4 L682.6,476.9 L674.6,479.3 L666.5,481.8 L658.5,484.1 L650.4,486.4 L642.2,488.7 L634.1,491.0 L625.9,493.2 L617.7,495.3 L609.5,497.5 L601.2,499.6 L593.0,501.6 L584.7,503.7 L576.4,505.7 L568.1,507.8 L559.8,509.8 L551.5,511.8 L543.3,513.9 L535.0,515.9 L526.7,518.0 L518.5,520.2 L510.3,522.3 L502.1,524.5 L494.0,526.8 L485.9,529.2 L477.9,531.6 L470.0,534.1 L462.1,536.8 L454.3,539.5 L446.6,542.4 L438.9,545.4 L431.4,548.6 L424.0,551.9 L416.7,555.4 L409.5,559.0 L402.4,562.9 L395.5,566.9 L388.7,571.1 L382.0,575.5 L375.5,580.2 L369.1,585.0 L362.9,590.1 L356.8,595.4 L350.9,600.9 L345.1,606.6 L339.5,612.5 L333.8,618.4 L327.8,623.8 L321.1,628.3 L314.5,632.8 L307.9,637.3 L301.3,641.8 L294.7,646.3Z" fill="url(#bg22)"/>
<linearGradient id="bg24" gradientUnits="userSpaceOnUse" x1="287.0" y1="403.8" x2="559.9" y2="218.2"><stop offset="0" stop-color="#c0c0c0"/><stop offset="1" stop-color="#bababa"/></linearGradient>
<path d="M141.5,421.0 L148.1,416.5 L154.7,412.0 L161.3,407.5 L168.0,403.0 L174.6,398.5 L181.5,394.5 L188.5,390.5 L195.4,386.5 L202.3,382.4 L209.2,378.3 L216.0,374.1 L222.8,369.8 L229.5,365.5 L236.2,361.0 L242.8,356.6 L249.4,352.0 L255.9,347.4 L262.4,342.8 L268.9,338.0 L275.3,333.2 L281.7,328.4 L288.0,323.5 L294.3,318.5 L300.5,313.5 L306.8,308.4 L313.0,303.2 L319.1,298.1 L325.2,292.8 L331.3,287.6 L337.4,282.3 L343.4,276.9 L349.5,271.6 L355.5,266.2 L361.4,260.7 L367.4,255.3 L373.3,249.8 L379.3,244.3 L385.2,238.8 L391.1,233.2 L397.0,227.7 L402.9,222.2 L408.8,216.6 L414.8,211.1 L420.7,205.6 L426.6,200.1 L432.6,194.6 L438.5,189.1 L444.5,183.7 L450.5,178.4 L456.6,173.0 L462.7,167.8 L468.8,162.6 L475.0,157.5 L481.3,152.5 L487.7,147.6 L494.1,142.8 L500.2,137.6 L506.6,132.7 L513.6,128.8 L521.0,125.5 L528.3,121.9 L534.9,117.4 L541.5,113.0 L548.1,108.5 L554.7,104.0 L561.3,99.5 L568.0,95.0 L574.6,90.5 L581.2,86.0 L587.8,81.5 L594.4,77.0 L601.0,72.5 L607.7,68.0 L614.3,63.5 L834.5,387.4 L827.9,391.9 L821.3,396.4 L814.7,400.9 L808.1,405.4 L801.5,409.9 L794.8,414.4 L788.2,418.9 L781.6,423.4 L775.0,427.9 L768.4,432.4 L761.8,436.9 L755.1,441.4 L748.5,445.9 L742.2,450.8 L736.0,455.9 L729.6,460.6 L722.2,464.0 L714.2,466.5 L706.3,469.2 L698.4,471.8 L690.5,474.4 L682.6,476.9 L674.6,479.3 L666.5,481.8 L658.5,484.1 L650.4,486.4 L642.2,488.7 L634.1,491.0 L625.9,493.2 L617.7,495.3 L609.5,497.5 L601.2,499.6 L593.0,501.6 L584.7,503.7 L576.4,505.7 L568.1,507.8 L559.8,509.8 L551.5,511.8 L543.3,513.9 L535.0,515.9 L526.7,518.0 L518.5,520.2 L510.3,522.3 L502.1,524.5 L494.0,526.8 L485.9,529.2 L477.9,531.6 L470.0,534.1 L462.1,536.8 L454.3,539.5 L446.6,542.4 L438.9,545.4 L431.4,548.6 L424.0,551.9 L416.7,555.4 L409.5,559.0 L402.4,562.9 L395.5,566.9 L388.7,571.1 L382.0,575.5 L375.5,580.2 L369.1,585.0 L362.9,590.1 L356.8,595.4 L350.9,600.9 L345.1,606.6 L339.5,612.5 L333.8,618.4 L327.8,623.8 L321.1,628.3 L314.5,632.8 L307.9,637.3 L301.3,641.8 L294.7,646.3Z" fill="url(#bg24)"/>
<linearGradient id="bg26" gradientUnits="userSpaceOnUse" x1="287.0" y1="403.8" x2="559.9" y2="218.2"><stop offset="0" stop-color="#c3c3c3"/><stop offset="1" stop-color="#bababa"/></linearGradient>
<path d="M143.5,423.9 L150.1,419.4 L156.7,414.9 L163.3,410.4 L169.9,405.9 L176.6,401.4 L183.5,397.4 L190.4,393.4 L197.3,389.3 L204.2,385.2 L211.1,381.0 L217.9,376.8 L224.6,372.5 L231.4,368.2 L238.0,363.8 L244.7,359.3 L251.3,354.8 L257.8,350.2 L264.3,345.5 L270.8,340.8 L277.2,336.0 L283.6,331.2 L289.9,326.3 L296.2,321.4 L302.5,316.4 L308.8,311.3 L315.0,306.2 L321.2,301.1 L327.3,295.9 L333.4,290.7 L339.5,285.4 L345.6,280.2 L351.7,274.8 L357.7,269.5 L363.7,264.1 L369.7,258.7 L375.7,253.2 L381.7,247.8 L387.6,242.3 L393.6,236.9 L399.5,231.4 L405.5,225.9 L411.4,220.4 L417.4,214.9 L423.3,209.5 L429.3,204.0 L435.3,198.6 L441.3,193.2 L447.3,187.8 L453.3,182.5 L459.4,177.2 L465.6,172.0 L471.7,166.8 L478.0,161.8 L484.3,156.8 L490.6,151.9 L497.1,147.2 L503.3,142.1 L509.6,137.2 L516.6,133.2 L524.0,129.9 L531.3,126.3 L537.9,121.8 L544.5,117.3 L551.1,112.9 L557.7,108.4 L564.3,103.9 L571.0,99.4 L577.6,94.9 L584.2,90.4 L590.8,85.9 L597.4,81.4 L604.0,76.9 L610.6,72.4 L617.3,67.9 L834.5,387.4 L827.9,391.9 L821.3,396.4 L814.7,400.9 L808.1,405.4 L801.5,409.9 L794.8,414.4 L788.2,418.9 L781.6,423.4 L775.0,427.9 L768.4,432.4 L761.8,436.9 L755.1,441.4 L748.5,445.9 L742.2,450.8 L736.0,455.9 L729.6,460.6 L722.2,464.0 L714.2,466.5 L706.3,469.2 L698.4,471.8 L690.5,474.4 L682.6,476.9 L674.6,479.3 L666.5,481.8 L658.5,484.1 L650.4,486.4 L642.2,488.7 L634.1,491.0 L625.9,493.2 L617.7,495.3 L609.5,497.5 L601.2,499.6 L593.0,501.6 L584.7,503.7 L576.4,505.7 L568.1,507.8 L559.8,509.8 L551.5,511.8 L543.3,513.9 L535.0,515.9 L526.7,518.0 L518.5,520.2 L510.3,522.3 L502.1,524.5 L494.0,526.8 L485.9,529.2 L477.9,531.6 L470.0,534.1 L462.1,536.8 L454.3,539.5 L446.6,542.4 L438.9,545.4 L431.4,548.6 L424.0,551.9 L416.7,555.4 L409.5,559.0 L402.4,562.9 L395.5,566.9 L388.7,571.1 L382.0,575.5 L375.5,580.2 L369.1,585.0 L362.9,590.1 L356.8,595.4 L350.9,600.9 L345.1,606.6 L339.5,612.5 L333.8,618.4 L327.8,623.8 L321.1,628.3 L314.5,632.8 L307.9,637.3 L301.3,641.8 L294.7,646.3Z" fill="url(#bg26)"/>
<linearGradient id="bg28" gradientUnits="userSpaceOnUse" x1="287.0" y1="403.8" x2="559.9" y2="218.2"><stop offset="0" stop-color="#c2c2c2"/><stop offset="1" stop-color="#bababa"/></linearGradient>
<path d="M145.5,426.8 L152.1,422.3 L158.7,417.8 L165.3,413.3 L171.9,408.8 L178.5,404.3 L185.4,400.2 L192.4,396.2 L199.3,392.1 L206.1,388.0 L213.0,383.8 L219.8,379.6 L226.5,375.3 L233.2,370.9 L239.9,366.5 L246.5,362.1 L253.1,357.5 L259.7,352.9 L266.2,348.3 L272.7,343.6 L279.1,338.8 L285.5,334.0 L291.9,329.2 L298.2,324.3 L304.5,319.3 L310.8,314.3 L317.0,309.2 L323.2,304.1 L329.4,299.0 L335.6,293.8 L341.7,288.6 L347.8,283.4 L353.9,278.1 L360.0,272.8 L366.0,267.4 L372.0,262.1 L378.0,256.7 L384.1,251.3 L390.0,245.9 L396.0,240.5 L402.0,235.0 L408.0,229.6 L414.0,224.2 L420.0,218.8 L426.0,213.3 L432.0,207.9 L438.0,202.6 L444.0,197.2 L450.1,191.9 L456.1,186.6 L462.3,181.4 L468.4,176.2 L474.6,171.1 L480.9,166.1 L487.2,161.1 L493.6,156.3 L500.1,151.6 L506.3,146.5 L512.6,141.6 L519.6,137.6 L527.0,134.3 L534.3,130.7 L540.9,126.2 L547.5,121.7 L554.1,117.2 L560.7,112.7 L567.3,108.3 L573.9,103.8 L580.6,99.3 L587.2,94.8 L593.8,90.3 L600.4,85.8 L607.0,81.3 L613.6,76.8 L620.3,72.3 L834.5,387.4 L827.9,391.9 L821.3,396.4 L814.7,400.9 L808.1,405.4 L801.5,409.9 L794.8,414.4 L788.2,418.9 L781.6,423.4 L775.0,427.9 L768.4,432.4 L761.8,436.9 L755.1,441.4 L748.5,445.9 L742.2,450.8 L736.0,455.9 L729.6,460.6 L722.2,464.0 L714.2,466.5 L706.3,469.2 L698.4,471.8 L690.5,474.4 L682.6,476.9 L674.6,479.3 L666.5,481.8 L658.5,484.1 L650.4,486.4 L642.2,488.7 L634.1,491.0 L625.9,493.2 L617.7,495.3 L609.5,497.5 L601.2,499.6 L593.0,501.6 L584.7,503.7 L576.4,505.7 L568.1,507.8 L559.8,509.8 L551.5,511.8 L543.3,513.9 L535.0,515.9 L526.7,518.0 L518.5,520.2 L510.3,522.3 L502.1,524.5 L494.0,526.8 L485.9,529.2 L477.9,531.6 L470.0,534.1 L462.1,536.8 L454.3,539.5 L446.6,542.4 L438.9,545.4 L431.4,548.6 L424.0,551.9 L416.7,555.4 L409.5,559.0 L402.4,562.9 L395.5,566.9 L388.7,571.1 L382.0,575.5 L375.5,580.2 L369.1,585.0 L362.9,590.1 L356.8,595.4 L350.9,600.9 L345.1,606.6 L339.5,612.5 L333.8,618.4 L327.8,623.8 L321.1,628.3 L314.5,632.8 L307.9,637.3 L301.3,641.8 L294.7,646.3Z" fill="url(#bg28)"/>
<linearGradient id="bg30" gradientUnits="userSpaceOnUse" x1="287.0" y1="403.8" x2="559.9" y2="218.2"><stop offset="0" stop-color="#c1c1c1"/><stop offset="1" stop-color="#bababa"/></linearGradient>
<path d="M147.4,429.7 L154.0,425.2 L160.7,420.7 L167.3,416.2 L173.9,411.7 L180.5,407.2 L187.4,403.1 L194.3,399.1 L201.2,395.0 L208.0,390.8 L214.8,386.6 L221.6,382.4 L228.4,378.1 L235.1,373.7 L241.8,369.3 L248.4,364.8 L255.0,360.3 L261.6,355.7 L268.1,351.1 L274.6,346.4 L281.0,341.6 L287.4,336.9 L293.8,332.0 L300.2,327.1 L306.5,322.2 L312.8,317.2 L319.1,312.2 L325.3,307.2 L331.5,302.1 L337.7,296.9 L343.8,291.8 L350.0,286.6 L356.1,281.3 L362.2,276.1 L368.3,270.8 L374.3,265.5 L380.4,260.2 L386.4,254.8 L392.5,249.5 L398.5,244.1 L404.5,238.7 L410.5,233.3 L416.5,228.0 L422.6,222.6 L428.6,217.2 L434.6,211.9 L440.7,206.5 L446.7,201.2 L452.8,196.0 L458.9,190.7 L465.1,185.5 L471.3,180.4 L477.5,175.3 L483.8,170.4 L490.1,165.5 L496.6,160.7 L503.0,156.0 L509.3,150.9 L515.7,146.1 L522.6,142.1 L530.0,138.7 L537.2,135.1 L543.9,130.6 L550.5,126.1 L557.1,121.6 L563.7,117.1 L570.3,112.6 L576.9,108.2 L583.5,103.7 L590.2,99.2 L596.8,94.7 L603.4,90.2 L610.0,85.7 L616.6,81.2 L623.2,76.7 L834.5,387.4 L827.9,391.9 L821.3,396.4 L814.7,400.9 L808.1,405.4 L801.5,409.9 L794.8,414.4 L788.2,418.9 L781.6,423.4 L775.0,427.9 L768.4,432.4 L761.8,436.9 L755.1,441.4 L748.5,445.9 L742.2,450.8 L736.0,455.9 L729.6,460.6 L722.2,464.0 L714.2,466.5 L706.3,469.2 L698.4,471.8 L690.5,474.4 L682.6,476.9 L674.6,479.3 L666.5,481.8 L658.5,484.1 L650.4,486.4 L642.2,488.7 L634.1,491.0 L625.9,493.2 L617.7,495.3 L609.5,497.5 L601.2,499.6 L593.0,501.6 L584.7,503.7 L576.4,505.7 L568.1,507.8 L559.8,509.8 L551.5,511.8 L543.3,513.9 L535.0,515.9 L526.7,518.0 L518.5,520.2 L510.3,522.3 L502.1,524.5 L494.0,526.8 L485.9,529.2 L477.9,531.6 L470.0,534.1 L462.1,536.8 L454.3,539.5 L446.6,542.4 L438.9,545.4 L431.4,548.6 L424.0,551.9 L416.7,555.4 L409.5,559.0 L402.4,562.9 L395.5,566.9 L388.7,571.1 L382.0,575.5 L375.5,580.2 L369.1,585.0 L362.9,590.1 L356.8,595.4 L350.9,600.9 L345.1,606.6 L339.5,612.5 L333.8,618.4 L327.8,623.8 L321.1,628.3 L314.5,632.8 L307.9,637.3 L301.3,641.8 L294.7,646.3Z" fill="url(#bg30)"/>
<linearGradient id="bg32" gradientUnits="userSpaceOnUse" x1="287.0" y1="403.8" x2="559.9" y2="218.2"><stop offset="0" stop-color="#bfbfbf"/><stop offset="1" stop-color="#bababa"/></linearGradient>
<path d="M149.4,432.6 L156.0,428.1 L162.6,423.6 L169.3,419.1 L175.9,414.6 L182.5,410.1 L189.3,406.0 L196.3,401.9 L203.1,397.8 L209.9,393.6 L216.7,389.4 L223.5,385.1 L230.2,380.8 L237.0,376.4 L243.6,372.0 L250.3,367.5 L256.9,363.0 L263.4,358.5 L270.0,353.8 L276.5,349.2 L282.9,344.5 L289.4,339.7 L295.8,334.9 L302.1,330.0 L308.5,325.1 L314.8,320.2 L321.1,315.2 L327.3,310.2 L333.6,305.1 L339.8,300.1 L346.0,294.9 L352.2,289.8 L358.3,284.6 L364.5,279.4 L370.6,274.2 L376.7,268.9 L382.8,263.6 L388.8,258.3 L394.9,253.0 L401.0,247.7 L407.0,242.4 L413.1,237.1 L419.1,231.7 L425.2,226.4 L431.2,221.1 L437.3,215.8 L443.4,210.5 L449.5,205.3 L455.6,200.0 L461.8,194.9 L467.9,189.7 L474.1,184.6 L480.4,179.6 L486.7,174.7 L493.1,169.8 L499.5,165.0 L506.0,160.4 L512.3,155.4 L518.7,150.6 L525.6,146.5 L533.0,143.2 L540.2,139.5 L546.8,135.0 L553.5,130.5 L560.1,126.0 L566.7,121.5 L573.3,117.0 L579.9,112.5 L586.5,108.0 L593.2,103.6 L599.8,99.1 L606.4,94.6 L613.0,90.1 L619.6,85.6 L626.2,81.1 L834.5,387.4 L827.9,391.9 L821.3,396.4 L814.7,400.9 L808.1,405.4 L801.5,409.9 L794.8,414.4 L788.2,418.9 L781.6,423.4 L775.0,427.9 L768.4,432.4 L761.8,436.9 L755.1,441.4 L748.5,445.9 L742.2,450.8 L736.0,455.9 L729.6,460.6 L722.2,464.0 L714.2,466.5 L706.3,469.2 L698.4,471.8 L690.5,474.4 L682.6,476.9 L674.6,479.3 L666.5,481.8 L658.5,484.1 L650.4,486.4 L642.2,488.7 L634.1,491.0 L625.9,493.2 L617.7,495.3 L609.5,497.5 L601.2,499.6 L593.0,501.6 L584.7,503.7 L576.4,505.7 L568.1,507.8 L559.8,509.8 L551.5,511.8 L543.3,513.9 L535.0,515.9 L526.7,518.0 L518.5,520.2 L510.3,522.3 L502.1,524.5 L494.0,526.8 L485.9,529.2 L477.9,531.6 L470.0,534.1 L462.1,536.8 L454.3,539.5 L446.6,542.4 L438.9,545.4 L431.4,548.6 L424.0,551.9 L416.7,555.4 L409.5,559.0 L402.4,562.9 L395.5,566.9 L388.7,571.1 L382.0,575.5 L375.5,580.2 L369.1,585.0 L362.9,590.1 L356.8,595.4 L350.9,600.9 L345.1,606.6 L339.5,612.5 L333.8,618.4 L327.8,623.8 L321.1,628.3 L314.5,632.8 L307.9,637.3 L301.3,641.8 L294.7,646.3Z" fill="url(#bg32)"/>
<linearGradient id="bg34" gradientUnits="userSpaceOnUse" x1="287.0" y1="403.8" x2="559.9" y2="218.2"><stop offset="0" stop-color="#bdbdbd"/><stop offset="1" stop-color="#b9b9b9"/></linearGradient>
<path d="M151.4,435.5 L158.0,431.0 L164.6,426.5 L171.2,422.1 L177.8,417.6 L184.5,413.1 L191.3,408.9 L198.2,404.8 L205.0,400.6 L211.8,396.4 L218.6,392.2 L225.4,387.9 L232.1,383.6 L238.8,379.2 L245.5,374.8 L252.1,370.3 L258.7,365.8 L265.3,361.2 L271.8,356.6 L278.4,352.0 L284.8,347.3 L291.3,342.5 L297.7,337.7 L304.1,332.9 L310.5,328.0 L316.8,323.1 L323.1,318.2 L329.4,313.2 L335.7,308.2 L341.9,303.2 L348.1,298.1 L354.4,293.0 L360.5,287.9 L366.7,282.7 L372.9,277.5 L379.0,272.3 L385.1,267.1 L391.2,261.9 L397.3,256.6 L403.4,251.3 L409.5,246.1 L415.6,240.8 L421.7,235.5 L427.8,230.2 L433.9,225.0 L440.0,219.7 L446.1,214.5 L452.2,209.3 L458.4,204.1 L464.6,199.0 L470.8,193.9 L477.0,188.8 L483.3,183.8 L489.6,178.9 L496.0,174.1 L502.5,169.4 L509.0,164.8 L515.3,159.8 L521.7,155.0 L528.7,151.0 L536.0,147.6 L543.2,143.9 L549.8,139.4 L556.5,134.9 L563.1,130.4 L569.7,125.9 L576.3,121.4 L582.9,116.9 L589.5,112.4 L596.1,107.9 L602.8,103.5 L609.4,99.0 L616.0,94.5 L622.6,90.0 L629.2,85.5 L834.5,387.4 L827.9,391.9 L821.3,396.4 L814.7,400.9 L808.1,405.4 L801.5,409.9 L794.8,414.4 L788.2,418.9 L781.6,423.4 L775.0,427.9 L768.4,432.4 L761.8,436.9 L755.1,441.4 L748.5,445.9 L742.2,450.8 L736.0,455.9 L729.6,460.6 L722.2,464.0 L714.2,466.5 L706.3,469.2 L698.4,471.8 L690.5,474.4 L682.6,476.9 L674.6,479.3 L666.5,481.8 L658.5,484.1 L650.4,486.4 L642.2,488.7 L634.1,491.0 L625.9,493.2 L617.7,495.3 L609.5,497.5 L601.2,499.6 L593.0,501.6 L584.7,503.7 L576.4,505.7 L568.1,507.8 L559.8,509.8 L551.5,511.8 L543.3,513.9 L535.0,515.9 L526.7,518.0 L518.5,520.2 L510.3,522.3 L502.1,524.5 L494.0,526.8 L485.9,529.2 L477.9,531.6 L470.0,534.1 L462.1,536.8 L454.3,539.5 L446.6,542.4 L438.9,545.4 L431.4,548.6 L424.0,551.9 L416.7,555.4 L409.5,559.0 L402.4,562.9 L395.5,566.9 L388.7,571.1 L382.0,575.5 L375.5,580.2 L369.1,585.0 L362.9,590.1 L356.8,595.4 L350.9,600.9 L345.1,606.6 L339.5,612.5 L333.8,618.4 L327.8,623.8 L321.1,628.3 L314.5,632.8 L307.9,637.3 L301.3,641.8 L294.7,646.3Z" fill="url(#bg34)"/>
<linearGradient id="bg36" gradientUnits="userSpaceOnUse" x1="287.0" y1="403.8" x2="559.9" y2="218.2"><stop offset="0" stop-color="#b9b9b9"/><stop offset="1" stop-color="#b7b7b7"/></linearGradient>
<path d="M153.4,438.5 L160.0,434.0 L166.6,429.5 L173.2,425.0 L179.8,420.5 L186.4,416.0 L193.3,411.8 L200.1,407.7 L207.0,403.5 L213.8,399.2 L220.5,395.0 L227.3,390.7 L234.0,386.3 L240.7,381.9 L247.4,377.5 L254.0,373.0 L260.6,368.5 L267.2,364.0 L273.7,359.4 L280.2,354.7 L286.7,350.1 L293.2,345.4 L299.6,340.6 L306.1,335.8 L312.5,331.0 L318.8,326.1 L325.2,321.2 L331.5,316.3 L337.8,311.3 L344.0,306.3 L350.3,301.3 L356.5,296.2 L362.7,291.1 L368.9,286.0 L375.1,280.9 L381.3,275.7 L387.5,270.6 L393.6,265.4 L399.8,260.2 L405.9,255.0 L412.0,249.7 L418.1,244.5 L424.3,239.3 L430.4,234.1 L436.5,228.9 L442.6,223.7 L448.8,218.5 L455.0,213.3 L461.1,208.2 L467.4,203.1 L473.6,198.0 L479.9,193.0 L486.2,188.1 L492.5,183.2 L499.0,178.4 L505.5,173.8 L512.0,169.2 L518.3,164.2 L524.8,159.5 L531.7,155.4 L539.0,152.0 L546.2,148.3 L552.8,143.8 L559.4,139.3 L566.1,134.8 L572.7,130.3 L579.3,125.8 L585.9,121.3 L592.5,116.8 L599.1,112.3 L605.8,107.8 L612.4,103.4 L619.0,98.9 L625.6,94.4 L632.2,89.9 L834.5,387.4 L827.9,391.9 L821.3,396.4 L814.7,400.9 L808.1,405.4 L801.5,409.9 L794.8,414.4 L788.2,418.9 L781.6,423.4 L775.0,427.9 L768.4,432.4 L761.8,436.9 L755.1,441.4 L748.5,445.9 L742.2,450.8 L736.0,455.9 L729.6,460.6 L722.2,464.0 L714.2,466.5 L706.3,469.2 L698.4,471.8 L690.5,474.4 L682.6,476.9 L674.6,479.3 L666.5,481.8 L658.5,484.1 L650.4,486.4 L642.2,488.7 L634.1,491.0 L625.9,493.2 L617.7,495.3 L609.5,497.5 L601.2,499.6 L593.0,501.6 L584.7,503.7 L576.4,505.7 L568.1,507.8 L559.8,509.8 L551.5,511.8 L543.3,513.9 L535.0,515.9 L526.7,518.0 L518.5,520.2 L510.3,522.3 L502.1,524.5 L494.0,526.8 L485.9,529.2 L477.9,531.6 L470.0,534.1 L462.1,536.8 L454.3,539.5 L446.6,542.4 L438.9,545.4 L431.4,548.6 L424.0,551.9 L416.7,555.4 L409.5,559.0 L402.4,562.9 L395.5,566.9 L388.7,571.1 L382.0,575.5 L375.5,580.2 L369.1,585.0 L362.9,590.1 L356.8,595.4 L350.9,600.9 L345.1,606.6 L339.5,612.5 L333.8,618.4 L327.8,623.8 L321.1,628.3 L314.5,632.8 L307.9,637.3 L301.3,641.8 L294.7,646.3Z" fill="url(#bg36)"/>
<path d="M155.3,441.4 L161.9,436.9 L168.6,432.4 L175.2,427.9 L181.8,423.4 L188.4,418.9 L195.2,414.7 L202.1,410.5 L208.9,406.3 L215.7,402.0 L222.4,397.7 L229.2,393.4 L235.9,389.1 L242.6,384.7 L249.2,380.3 L255.9,375.8 L262.5,371.3 L269.1,366.7 L275.6,362.2 L282.1,357.5 L288.7,352.9 L295.1,348.2 L301.6,343.4 L308.0,338.7 L314.4,333.9 L320.8,329.1 L327.2,324.2 L333.5,319.3 L339.9,314.4 L346.2,309.4 L352.4,304.4 L358.7,299.4 L365.0,294.4 L371.2,289.3 L377.4,284.2 L383.6,279.1 L389.8,274.0 L396.0,268.9 L402.2,263.7 L408.3,258.6 L414.5,253.4 L420.7,248.2 L426.8,243.1 L433.0,237.9 L439.1,232.7 L445.3,227.6 L451.5,222.5 L457.7,217.4 L463.9,212.3 L470.2,207.2 L476.4,202.2 L482.7,197.3 L489.1,192.4 L495.5,187.5 L501.9,182.8 L508.4,178.1 L515.0,173.6 L521.4,168.7 L527.8,163.9 L534.7,159.9 L542.0,156.4 L549.2,152.7 L555.8,148.2 L562.4,143.7 L569.1,139.2 L575.7,134.7 L582.3,130.2 L588.9,125.7 L595.5,121.2 L602.1,116.7 L608.7,112.2 L615.4,107.7 L622.0,103.2 L628.6,98.8 L635.2,94.3 L834.5,387.4 L827.9,391.9 L821.3,396.4 L814.7,400.9 L808.1,405.4 L801.5,409.9 L794.8,414.4 L788.2,418.9 L781.6,423.4 L775.0,427.9 L768.4,432.4 L761.8,436.9 L755.1,441.4 L748.5,445.9 L742.2,450.8 L736.0,455.9 L729.6,460.6 L722.2,464.0 L714.2,466.5 L706.3,469.2 L698.4,471.8 L690.5,474.4 L682.6,476.9 L674.6,479.3 L666.5,481.8 L658.5,484.1 L650.4,486.4 L642.2,488.7 L634.1,491.0 L625.9,493.2 L617.7,495.3 L609.5,497.5 L601.2,499.6 L593.0,501.6 L584.7,503.7 L576.4,505.7 L568.1,507.8 L559.8,509.8 L551.5,511.8 L543.3,513.9 L535.0,515.9 L526.7,518.0 L518.5,520.2 L510.3,522.3 L502.1,524.5 L494.0,526.8 L485.9,529.2 L477.9,531.6 L470.0,534.1 L462.1,536.8 L454.3,539.5 L446.6,542.4 L438.9,545.4 L431.4,548.6 L424.0,551.9 L416.7,555.4 L409.5,559.0 L402.4,562.9 L395.5,566.9 L388.7,571.1 L382.0,575.5 L375.5,580.2 L369.1,585.0 L362.9,590.1 L356.8,595.4 L350.9,600.9 L345.1,606.6 L339.5,612.5 L333.8,618.4 L327.8,623.8 L321.1,628.3 L314.5,632.8 L307.9,637.3 L301.3,641.8 L294.7,646.3Z" fill="#b5b5b5"/>
<linearGradient id="bg39" gradientUnits="userSpaceOnUse" x1="287.0" y1="403.8" x2="559.9" y2="218.2"><stop offset="0" stop-color="#b2b2b2"/><stop offset="1" stop-color="#b4b4b4"/></linearGradient>
<path d="M157.3,444.3 L163.9,439.8 L170.5,435.3 L177.2,430.8 L183.8,426.3 L190.4,421.8 L197.2,417.6 L204.0,413.4 L210.8,409.1 L217.6,404.8 L224.3,400.5 L231.0,396.2 L237.7,391.8 L244.4,387.4 L251.1,383.0 L257.7,378.5 L264.3,374.0 L270.9,369.5 L277.5,364.9 L284.0,360.3 L290.6,355.7 L297.1,351.0 L303.5,346.3 L310.0,341.6 L316.4,336.8 L322.8,332.0 L329.2,327.2 L335.6,322.3 L341.9,317.4 L348.3,312.5 L354.6,307.6 L360.9,302.6 L367.2,297.6 L373.4,292.6 L379.7,287.6 L385.9,282.5 L392.2,277.5 L398.4,272.4 L404.6,267.3 L410.8,262.2 L417.0,257.1 L423.2,252.0 L429.4,246.9 L435.6,241.7 L441.8,236.6 L448.0,231.5 L454.2,226.4 L460.4,221.4 L466.7,216.3 L473.0,211.3 L479.3,206.4 L485.6,201.5 L492.0,196.6 L498.4,191.8 L504.9,187.1 L511.4,182.5 L518.0,178.0 L524.4,173.1 L530.8,168.4 L537.7,164.3 L545.0,160.8 L552.2,157.1 L558.8,152.6 L565.4,148.1 L572.0,143.6 L578.7,139.1 L585.3,134.6 L591.9,130.1 L598.5,125.6 L605.1,121.1 L611.7,116.6 L618.3,112.1 L625.0,107.6 L631.6,103.1 L638.2,98.7 L834.5,387.4 L827.9,391.9 L821.3,396.4 L814.7,400.9 L808.1,405.4 L801.5,409.9 L794.8,414.4 L788.2,418.9 L781.6,423.4 L775.0,427.9 L768.4,432.4 L761.8,436.9 L755.1,441.4 L748.5,445.9 L742.2,450.8 L736.0,455.9 L729.6,460.6 L722.2,464.0 L714.2,466.5 L706.3,469.2 L698.4,471.8 L690.5,474.4 L682.6,476.9 L674.6,479.3 L666.5,481.8 L658.5,484.1 L650.4,486.4 L642.2,488.7 L634.1,491.0 L625.9,493.2 L617.7,495.3 L609.5,497.5 L601.2,499.6 L593.0,501.6 L584.7,503.7 L576.4,505.7 L568.1,507.8 L559.8,509.8 L551.5,511.8 L543.3,513.9 L535.0,515.9 L526.7,518.0 L518.5,520.2 L510.3,522.3 L502.1,524.5 L494.0,526.8 L485.9,529.2 L477.9,531.6 L470.0,534.1 L462.1,536.8 L454.3,539.5 L446.6,542.4 L438.9,545.4 L431.4,548.6 L424.0,551.9 L416.7,555.4 L409.5,559.0 L402.4,562.9 L395.5,566.9 L388.7,571.1 L382.0,575.5 L375.5,580.2 L369.1,585.0 L362.9,590.1 L356.8,595.4 L350.9,600.9 L345.1,606.6 L339.5,612.5 L333.8,618.4 L327.8,623.8 L321.1,628.3 L314.5,632.8 L307.9,637.3 L301.3,641.8 L294.7,646.3Z" fill="url(#bg39)"/>
<linearGradient id="bg41" gradientUnits="userSpaceOnUse" x1="287.0" y1="403.8" x2="559.9" y2="218.2"><stop offset="0" stop-color="#aeaeae"/><stop offset="1" stop-color="#b2b2b2"/></linearGradient>
<path d="M159.3,447.2 L165.9,442.7 L172.5,438.2 L179.1,433.7 L185.7,429.2 L192.4,424.7 L199.2,420.4 L206.0,416.2 L212.7,411.9 L219.5,407.6 L226.2,403.3 L232.9,399.0 L239.6,394.6 L246.3,390.2 L253.0,385.7 L259.6,381.3 L266.2,376.8 L272.8,372.2 L279.4,367.7 L285.9,363.1 L292.5,358.5 L299.0,353.8 L305.5,349.2 L311.9,344.5 L318.4,339.7 L324.8,335.0 L331.3,330.2 L337.7,325.4 L344.0,320.5 L350.4,315.6 L356.7,310.7 L363.1,305.8 L369.4,300.9 L375.7,295.9 L382.0,291.0 L388.3,286.0 L394.5,280.9 L400.8,275.9 L407.0,270.9 L413.3,265.8 L419.5,260.8 L425.7,255.7 L432.0,250.6 L438.2,245.6 L444.4,240.5 L450.7,235.5 L456.9,230.4 L463.2,225.4 L469.5,220.4 L475.8,215.5 L482.1,210.5 L488.5,205.7 L494.9,200.9 L501.3,196.1 L507.8,191.4 L514.4,186.8 L521.0,182.4 L527.4,177.5 L533.9,172.8 L540.8,168.8 L548.0,165.3 L555.2,161.5 L561.8,157.0 L568.4,152.5 L575.0,148.0 L581.6,143.5 L588.3,139.0 L594.9,134.5 L601.5,130.0 L608.1,125.5 L614.7,121.0 L621.3,116.5 L628.0,112.0 L634.6,107.5 L641.2,103.0 L834.5,387.4 L827.9,391.9 L821.3,396.4 L814.7,400.9 L808.1,405.4 L801.5,409.9 L794.8,414.4 L788.2,418.9 L781.6,423.4 L775.0,427.9 L768.4,432.4 L761.8,436.9 L755.1,441.4 L748.5,445.9 L742.2,450.8 L736.0,455.9 L729.6,460.6 L722.2,464.0 L714.2,466.5 L706.3,469.2 L698.4,471.8 L690.5,474.4 L682.6,476.9 L674.6,479.3 L666.5,481.8 L658.5,484.1 L650.4,486.4 L642.2,488.7 L634.1,491.0 L625.9,493.2 L617.7,495.3 L609.5,497.5 L601.2,499.6 L593.0,501.6 L584.7,503.7 L576.4,505.7 L568.1,507.8 L559.8,509.8 L551.5,511.8 L543.3,513.9 L535.0,515.9 L526.7,518.0 L518.5,520.2 L510.3,522.3 L502.1,524.5 L494.0,526.8 L485.9,529.2 L477.9,531.6 L470.0,534.1 L462.1,536.8 L454.3,539.5 L446.6,542.4 L438.9,545.4 L431.4,548.6 L424.0,551.9 L416.7,555.4 L409.5,559.0 L402.4,562.9 L395.5,566.9 L388.7,571.1 L382.0,575.5 L375.5,580.2 L369.1,585.0 L362.9,590.1 L356.8,595.4 L350.9,600.9 L345.1,606.6 L339.5,612.5 L333.8,618.4 L327.8,623.8 L321.1,628.3 L314.5,632.8 L307.9,637.3 L301.3,641.8 L294.7,646.3Z" fill="url(#bg41)"/>
<linearGradient id="bg43" gradientUnits="userSpaceOnUse" x1="287.0" y1="403.8" x2="559.9" y2="218.2"><stop offset="0" stop-color="#ababab"/><stop offset="1" stop-color="#b0b0b0"/></linearGradient>
<path d="M161.3,450.1 L167.9,445.6 L174.5,441.1 L181.1,436.6 L187.7,432.1 L194.3,427.6 L201.1,423.3 L207.9,419.1 L214.7,414.8 L221.4,410.4 L228.1,406.1 L234.8,401.7 L241.5,397.3 L248.2,392.9 L254.8,388.5 L261.5,384.0 L268.1,379.5 L274.7,375.0 L281.3,370.5 L287.8,365.9 L294.4,361.3 L300.9,356.7 L307.4,352.0 L313.9,347.3 L320.4,342.6 L326.8,337.9 L333.3,333.2 L339.7,328.4 L346.1,323.6 L352.5,318.8 L358.9,313.9 L365.3,309.0 L371.6,304.2 L377.9,299.2 L384.3,294.3 L390.6,289.4 L396.9,284.4 L403.2,279.4 L409.5,274.4 L415.7,269.4 L422.0,264.4 L428.3,259.4 L434.5,254.4 L440.8,249.4 L447.1,244.4 L453.3,239.4 L459.6,234.4 L465.9,229.4 L472.2,224.5 L478.6,219.6 L484.9,214.7 L491.3,209.9 L497.7,205.1 L504.2,200.4 L510.7,195.8 L517.3,191.2 L524.0,186.7 L530.4,182.0 L536.9,177.3 L543.8,173.2 L551.1,169.7 L558.2,165.9 L564.8,161.4 L571.4,156.9 L578.0,152.4 L584.6,147.9 L591.3,143.4 L597.9,138.9 L604.5,134.4 L611.1,129.9 L617.7,125.4 L624.3,120.9 L630.9,116.4 L637.6,111.9 L644.2,107.4 L834.5,387.4 L827.9,391.9 L821.3,396.4 L814.7,400.9 L808.1,405.4 L801.5,409.9 L794.8,414.4 L788.2,418.9 L781.6,423.4 L775.0,427.9 L768.4,432.4 L761.8,436.9 L755.1,441.4 L748.5,445.9 L742.2,450.8 L736.0,455.9 L729.6,460.6 L722.2,464.0 L714.2,466.5 L706.3,469.2 L698.4,471.8 L690.5,474.4 L682.6,476.9 L674.6,479.3 L666.5,481.8 L658.5,484.1 L650.4,486.4 L642.2,488.7 L634.1,491.0 L625.9,493.2 L617.7,495.3 L609.5,497.5 L601.2,499.6 L593.0,501.6 L584.7,503.7 L576.4,505.7 L568.1,507.8 L559.8,509.8 L551.5,511.8 L543.3,513.9 L535.0,515.9 L526.7,518.0 L518.5,520.2 L510.3,522.3 L502.1,524.5 L494.0,526.8 L485.9,529.2 L477.9,531.6 L470.0,534.1 L462.1,536.8 L454.3,539.5 L446.6,542.4 L438.9,545.4 L431.4,548.6 L424.0,551.9 L416.7,555.4 L409.5,559.0 L402.4,562.9 L395.5,566.9 L388.7,571.1 L382.0,575.5 L375.5,580.2 L369.1,585.0 L362.9,590.1 L356.8,595.4 L350.9,600.9 L345.1,606.6 L339.5,612.5 L333.8,618.4 L327.8,623.8 L321.1,628.3 L314.5,632.8 L307.9,637.3 L301.3,641.8 L294.7,646.3Z" fill="url(#bg43)"/>
<linearGradient id="bg45" gradientUnits="userSpaceOnUse" x1="287.0" y1="403.8" x2="559.9" y2="218.2"><stop offset="0" stop-color="#a7a7a7"/><stop offset="1" stop-color="#aeaeae"/></linearGradient>
<path d="M163.2,453.0 L169.9,448.5 L176.5,444.0 L183.1,439.5 L189.7,435.0 L196.3,430.5 L203.1,426.2 L209.9,421.9 L216.6,417.6 L223.3,413.2 L230.0,408.9 L236.7,404.5 L243.4,400.1 L250.0,395.7 L256.7,391.2 L263.3,386.8 L269.9,382.3 L276.6,377.8 L283.1,373.2 L289.7,368.7 L296.3,364.1 L302.8,359.5 L309.4,354.9 L315.9,350.2 L322.4,345.6 L328.9,340.9 L335.3,336.1 L341.8,331.4 L348.2,326.7 L354.6,321.9 L361.1,317.1 L367.4,312.3 L373.8,307.4 L380.2,302.6 L386.6,297.7 L392.9,292.8 L399.2,287.9 L405.6,282.9 L411.9,278.0 L418.2,273.1 L424.5,268.1 L430.8,263.1 L437.1,258.2 L443.4,253.2 L449.7,248.3 L456.0,243.3 L462.3,238.4 L468.7,233.5 L475.0,228.6 L481.4,223.7 L487.8,218.9 L494.2,214.1 L500.6,209.4 L507.1,204.7 L513.7,200.1 L520.3,195.6 L527.0,191.1 L533.4,186.4 L539.9,181.8 L546.8,177.7 L554.1,174.1 L561.2,170.3 L567.8,165.8 L574.4,161.3 L581.0,156.8 L587.6,152.3 L594.2,147.8 L600.9,143.3 L607.5,138.8 L614.1,134.3 L620.7,129.8 L627.3,125.3 L633.9,120.8 L640.6,116.3 L647.2,111.8 L834.5,387.4 L827.9,391.9 L821.3,396.4 L814.7,400.9 L808.1,405.4 L801.5,409.9 L794.8,414.4 L788.2,418.9 L781.6,423.4 L775.0,427.9 L768.4,432.4 L761.8,436.9 L755.1,441.4 L748.5,445.9 L742.2,450.8 L736.0,455.9 L729.6,460.6 L722.2,464.0 L714.2,466.5 L706.3,469.2 L698.4,471.8 L690.5,474.4 L682.6,476.9 L674.6,479.3 L666.5,481.8 L658.5,484.1 L650.4,486.4 L642.2,488.7 L634.1,491.0 L625.9,493.2 L617.7,495.3 L609.5,497.5 L601.2,499.6 L593.0,501.6 L584.7,503.7 L576.4,505.7 L568.1,507.8 L559.8,509.8 L551.5,511.8 L543.3,513.9 L535.0,515.9 L526.7,518.0 L518.5,520.2 L510.3,522.3 L502.1,524.5 L494.0,526.8 L485.9,529.2 L477.9,531.6 L470.0,534.1 L462.1,536.8 L454.3,539.5 L446.6,542.4 L438.9,545.4 L431.4,548.6 L424.0,551.9 L416.7,555.4 L409.5,559.0 L402.4,562.9 L395.5,566.9 L388.7,571.1 L382.0,575.5 L375.5,580.2 L369.1,585.0 L362.9,590.1 L356.8,595.4 L350.9,600.9 L345.1,606.6 L339.5,612.5 L333.8,618.4 L327.8,623.8 L321.1,628.3 L314.5,632.8 L307.9,637.3 L301.3,641.8 L294.7,646.3Z" fill="url(#bg45)"/>
<linearGradient id="bg47" gradientUnits="userSpaceOnUse" x1="287.0" y1="403.8" x2="559.9" y2="218.2"><stop offset="0" stop-color="#a4a4a4"/><stop offset="1" stop-color="#acacac"/></linearGradient>
<path d="M165.2,455.9 L171.8,451.4 L178.4,446.9 L185.1,442.4 L191.7,437.9 L198.3,433.4 L205.0,429.1 L211.8,424.8 L218.5,420.4 L225.2,416.0 L231.9,411.7 L238.6,407.3 L245.2,402.8 L251.9,398.4 L258.5,394.0 L265.2,389.5 L271.8,385.0 L278.4,380.5 L285.0,376.0 L291.6,371.5 L298.2,366.9 L304.8,362.3 L311.3,357.7 L317.8,353.1 L324.4,348.5 L330.9,343.8 L337.4,339.1 L343.8,334.4 L350.3,329.7 L356.8,325.0 L363.2,320.2 L369.6,315.5 L376.0,310.7 L382.4,305.9 L388.8,301.0 L395.2,296.2 L401.6,291.3 L408.0,286.5 L414.3,281.6 L420.7,276.7 L427.0,271.8 L433.3,266.9 L439.7,262.0 L446.0,257.1 L452.3,252.2 L458.7,247.3 L465.0,242.4 L471.4,237.5 L477.8,232.7 L484.2,227.8 L490.6,223.1 L497.1,218.3 L503.5,213.6 L510.1,209.0 L516.6,204.4 L523.3,199.9 L529.9,195.5 L536.4,190.9 L543.0,186.2 L549.8,182.1 L557.1,178.5 L564.2,174.7 L570.8,170.2 L577.4,165.7 L584.0,161.2 L590.6,156.7 L597.2,152.2 L603.8,147.7 L610.5,143.2 L617.1,138.7 L623.7,134.2 L630.3,129.7 L636.9,125.2 L643.5,120.7 L650.2,116.2 L834.5,387.4 L827.9,391.9 L821.3,396.4 L814.7,400.9 L808.1,405.4 L801.5,409.9 L794.8,414.4 L788.2,418.9 L781.6,423.4 L775.0,427.9 L768.4,432.4 L761.8,436.9 L755.1,441.4 L748.5,445.9 L742.2,450.8 L736.0,455.9 L729.6,460.6 L722.2,464.0 L714.2,466.5 L706.3,469.2 L698.4,471.8 L690.5,474.4 L682.6,476.9 L674.6,479.3 L666.5,481.8 L658.5,484.1 L650.4,486.4 L642.2,488.7 L634.1,491.0 L625.9,493.2 L617.7,495.3 L609.5,497.5 L601.2,499.6 L593.0,501.6 L584.7,503.7 L576.4,505.7 L568.1,507.8 L559.8,509.8 L551.5,511.8 L543.3,513.9 L535.0,515.9 L526.7,518.0 L518.5,520.2 L510.3,522.3 L502.1,524.5 L494.0,526.8 L485.9,529.2 L477.9,531.6 L470.0,534.1 L462.1,536.8 L454.3,539.5 L446.6,542.4 L438.9,545.4 L431.4,548.6 L424.0,551.9 L416.7,555.4 L409.5,559.0 L402.4,562.9 L395.5,566.9 L388.7,571.1 L382.0,575.5 L375.5,580.2 L369.1,585.0 L362.9,590.1 L356.8,595.4 L350.9,600.9 L345.1,606.6 L339.5,612.5 L333.8,618.4 L327.8,623.8 L321.1,628.3 L314.5,632.8 L307.9,637.3 L301.3,641.8 L294.7,646.3Z" fill="url(#bg47)"/>
<linearGradient id="bg49" gradientUnits="userSpaceOnUse" x1="287.0" y1="403.8" x2="559.9" y2="218.2"><stop offset="0" stop-color="#a1a1a1"/><stop offset="1" stop-color="#a9a9a9"/></linearGradient>
<path d="M167.2,458.8 L173.8,454.3 L180.4,449.8 L187.0,445.3 L193.7,440.8 L200.3,436.3 L207.0,432.0 L213.7,427.7 L220.4,423.3 L227.1,418.9 L233.8,414.4 L240.4,410.0 L247.1,405.6 L253.8,401.2 L260.4,396.7 L267.1,392.2 L273.7,387.8 L280.3,383.3 L286.9,378.8 L293.5,374.2 L300.1,369.7 L306.7,365.2 L313.2,360.6 L319.8,356.0 L326.3,351.4 L332.9,346.8 L339.4,342.1 L345.9,337.5 L352.4,332.8 L358.9,328.1 L365.4,323.4 L371.8,318.7 L378.3,313.9 L384.7,309.2 L391.1,304.4 L397.5,299.6 L403.9,294.8 L410.3,290.0 L416.7,285.1 L423.1,280.3 L429.5,275.5 L435.9,270.6 L442.2,265.7 L448.6,260.9 L455.0,256.0 L461.4,251.2 L467.7,246.3 L474.1,241.5 L480.6,236.7 L487.0,232.0 L493.4,227.2 L499.9,222.5 L506.4,217.9 L513.0,213.3 L519.6,208.7 L526.2,204.3 L532.9,199.9 L539.4,195.3 L546.0,190.7 L552.9,186.6 L560.1,182.9 L567.1,179.1 L573.8,174.6 L580.4,170.1 L587.0,165.6 L593.6,161.1 L600.2,156.6 L606.8,152.1 L613.5,147.6 L620.1,143.1 L626.7,138.6 L633.3,134.1 L639.9,129.6 L646.5,125.1 L653.1,120.6 L834.5,387.4 L827.9,391.9 L821.3,396.4 L814.7,400.9 L808.1,405.4 L801.5,409.9 L794.8,414.4 L788.2,418.9 L781.6,423.4 L775.0,427.9 L768.4,432.4 L761.8,436.9 L755.1,441.4 L748.5,445.9 L742.2,450.8 L736.0,455.9 L729.6,460.6 L722.2,464.0 L714.2,466.5 L706.3,469.2 L698.4,471.8 L690.5,474.4 L682.6,476.9 L674.6,479.3 L666.5,481.8 L658.5,484.1 L650.4,486.4 L642.2,488.7 L634.1,491.0 L625.9,493.2 L617.7,495.3 L609.5,497.5 L601.2,499.6 L593.0,501.6 L584.7,503.7 L576.4,505.7 L568.1,507.8 L559.8,509.8 L551.5,511.8 L543.3,513.9 L535.0,515.9 L526.7,518.0 L518.5,520.2 L510.3,522.3 L502.1,524.5 L494.0,526.8 L485.9,529.2 L477.9,531.6 L470.0,534.1 L462.1,536.8 L454.3,539.5 L446.6,542.4 L438.9,545.4 L431.4,548.6 L424.0,551.9 L416.7,555.4 L409.5,559.0 L402.4,562.9 L395.5,566.9 L388.7,571.1 L382.0,575.5 L375.5,580.2 L369.1,585.0 L362.9,590.1 L356.8,595.4 L350.9,600.9 L345.1,606.6 L339.5,612.5 L333.8,618.4 L327.8,623.8 L321.1,628.3 L314.5,632.8 L307.9,637.3 L301.3,641.8 L294.7,646.3Z" fill="url(#bg49)"/>
<linearGradient id="bg51" gradientUnits="userSpaceOnUse" x1="287.0" y1="403.8" x2="559.9" y2="218.2"><stop offset="0" stop-color="#9e9e9e"/><stop offset="1" stop-color="#a7a7a7"/></linearGradient>
<path d="M169.2,461.7 L175.8,457.2 L182.4,452.7 L189.0,448.2 L195.6,443.7 L202.2,439.2 L209.0,434.9 L215.7,430.5 L222.3,426.1 L229.0,421.7 L235.7,417.2 L242.3,412.8 L249.0,408.4 L255.6,403.9 L262.3,399.5 L268.9,395.0 L275.6,390.5 L282.2,386.0 L288.8,381.5 L295.4,377.0 L302.0,372.5 L308.6,368.0 L315.2,363.4 L321.8,358.9 L328.3,354.3 L334.9,349.7 L341.4,345.1 L348.0,340.5 L354.5,335.9 L361.0,331.2 L367.5,326.6 L374.0,321.9 L380.5,317.2 L386.9,312.5 L393.4,307.8 L399.9,303.0 L406.3,298.3 L412.7,293.5 L419.2,288.7 L425.6,283.9 L432.0,279.1 L438.4,274.3 L444.8,269.5 L451.2,264.7 L457.6,259.9 L464.0,255.1 L470.5,250.3 L476.9,245.6 L483.3,240.8 L489.8,236.1 L496.3,231.4 L502.8,226.7 L509.3,222.1 L515.9,217.6 L522.5,213.1 L529.2,208.7 L535.9,204.3 L542.5,199.7 L549.0,195.1 L555.9,191.0 L563.1,187.4 L570.1,183.5 L576.8,179.0 L583.4,174.5 L590.0,170.0 L596.6,165.5 L603.2,161.0 L609.8,156.5 L616.4,152.0 L623.1,147.5 L629.7,143.0 L636.3,138.5 L642.9,134.0 L649.5,129.5 L656.1,125.0 L834.5,387.4 L827.9,391.9 L821.3,396.4 L814.7,400.9 L808.1,405.4 L801.5,409.9 L794.8,414.4 L788.2,418.9 L781.6,423.4 L775.0,427.9 L768.4,432.4 L761.8,436.9 L755.1,441.4 L748.5,445.9 L742.2,450.8 L736.0,455.9 L729.6,460.6 L722.2,464.0 L714.2,466.5 L706.3,469.2 L698.4,471.8 L690.5,474.4 L682.6,476.9 L674.6,479.3 L666.5,481.8 L658.5,484.1 L650.4,486.4 L642.2,488.7 L634.1,491.0 L625.9,493.2 L617.7,495.3 L609.5,497.5 L601.2,499.6 L593.0,501.6 L584.7,503.7 L576.4,505.7 L568.1,507.8 L559.8,509.8 L551.5,511.8 L543.3,513.9 L535.0,515.9 L526.7,518.0 L518.5,520.2 L510.3,522.3 L502.1,524.5 L494.0,526.8 L485.9,529.2 L477.9,531.6 L470.0,534.1 L462.1,536.8 L454.3,539.5 L446.6,542.4 L438.9,545.4 L431.4,548.6 L424.0,551.9 L416.7,555.4 L409.5,559.0 L402.4,562.9 L395.5,566.9 L388.7,571.1 L382.0,575.5 L375.5,580.2 L369.1,585.0 L362.9,590.1 L356.8,595.4 L350.9,600.9 L345.1,606.6 L339.5,612.5 L333.8,618.4 L327.8,623.8 L321.1,628.3 L314.5,632.8 L307.9,637.3 L301.3,641.8 L294.7,646.3Z" fill="url(#bg51)"/>
<linearGradient id="bg53" gradientUnits="userSpaceOnUse" x1="287.0" y1="403.8" x2="559.9" y2="218.2"><stop offset="0" stop-color="#9b9b9b"/><stop offset="1" stop-color="#a4a4a4"/></linearGradient>
<path d="M171.1,464.6 L177.8,460.1 L184.4,455.6 L191.0,451.1 L197.6,446.6 L204.2,442.1 L210.9,437.8 L217.6,433.4 L224.3,428.9 L230.9,424.5 L237.6,420.0 L244.2,415.6 L250.9,411.1 L257.5,406.7 L264.1,402.2 L270.8,397.7 L277.4,393.3 L284.1,388.8 L290.7,384.3 L297.3,379.8 L303.9,375.3 L310.5,370.8 L317.1,366.3 L323.7,361.8 L330.3,357.2 L336.9,352.7 L343.5,348.1 L350.0,343.5 L356.6,338.9 L363.1,334.3 L369.7,329.7 L376.2,325.1 L382.7,320.4 L389.2,315.8 L395.7,311.1 L402.2,306.4 L408.7,301.7 L415.1,297.0 L421.6,292.3 L428.0,287.5 L434.5,282.8 L440.9,278.1 L447.4,273.3 L453.8,268.5 L460.3,263.8 L466.7,259.0 L473.2,254.3 L479.6,249.6 L486.1,244.9 L492.6,240.2 L499.1,235.6 L505.6,230.9 L512.2,226.4 L518.8,221.9 L525.5,217.4 L532.2,213.0 L538.9,208.7 L545.5,204.2 L552.0,199.6 L558.9,195.5 L566.1,191.8 L573.1,187.9 L579.7,183.4 L586.4,178.9 L593.0,174.4 L599.6,169.9 L606.2,165.4 L612.8,160.9 L619.4,156.4 L626.1,151.9 L632.7,147.4 L639.3,142.9 L645.9,138.4 L652.5,133.9 L659.1,129.4 L834.5,387.4 L827.9,391.9 L821.3,396.4 L814.7,400.9 L808.1,405.4 L801.5,409.9 L794.8,414.4 L788.2,418.9 L781.6,423.4 L775.0,427.9 L768.4,432.4 L761.8,436.9 L755.1,441.4 L748.5,445.9 L742.2,450.8 L736.0,455.9 L729.6,460.6 L722.2,464.0 L714.2,466.5 L706.3,469.2 L698.4,471.8 L690.5,474.4 L682.6,476.9 L674.6,479.3 L666.5,481.8 L658.5,484.1 L650.4,486.4 L642.2,488.7 L634.1,491.0 L625.9,493.2 L617.7,495.3 L609.5,497.5 L601.2,499.6 L593.0,501.6 L584.7,503.7 L576.4,505.7 L568.1,507.8 L559.8,509.8 L551.5,511.8 L543.3,513.9 L535.0,515.9 L526.7,518.0 L518.5,520.2 L510.3,522.3 L502.1,524.5 L494.0,526.8 L485.9,529.2 L477.9,531.6 L470.0,534.1 L462.1,536.8 L454.3,539.5 L446.6,542.4 L438.9,545.4 L431.4,548.6 L424.0,551.9 L416.7,555.4 L409.5,559.0 L402.4,562.9 L395.5,566.9 L388.7,571.1 L382.0,575.5 L375.5,580.2 L369.1,585.0 L362.9,590.1 L356.8,595.4 L350.9,600.9 L345.1,606.6 L339.5,612.5 L333.8,618.4 L327.8,623.8 L321.1,628.3 L314.5,632.8 L307.9,637.3 L301.3,641.8 L294.7,646.3Z" fill="url(#bg53)"/>
<linearGradient id="bg55" gradientUnits="userSpaceOnUse" x1="287.0" y1="403.8" x2="559.9" y2="218.2"><stop offset="0" stop-color="#989898"/><stop offset="1" stop-color="#a2a2a2"/></linearGradient>
<path d="M173.1,467.5 L179.7,463.0 L186.3,458.5 L193.0,454.0 L199.6,449.5 L206.2,445.0 L212.9,440.6 L219.6,436.2 L226.2,431.7 L232.8,427.3 L239.4,422.8 L246.1,418.3 L252.7,413.9 L259.4,409.4 L266.0,404.9 L272.6,400.5 L279.3,396.0 L285.9,391.6 L292.6,387.1 L299.2,382.6 L305.8,378.1 L312.4,373.6 L319.1,369.2 L325.7,364.7 L332.3,360.1 L338.9,355.6 L345.5,351.1 L352.1,346.6 L358.7,342.0 L365.2,337.5 L371.8,332.9 L378.4,328.3 L384.9,323.7 L391.4,319.1 L398.0,314.5 L404.5,309.8 L411.0,305.2 L417.5,300.5 L424.0,295.8 L430.5,291.2 L437.0,286.5 L443.5,281.8 L449.9,277.1 L456.4,272.4 L462.9,267.7 L469.4,263.0 L475.9,258.3 L482.4,253.6 L488.9,249.0 L495.4,244.3 L501.9,239.7 L508.5,235.2 L515.1,230.6 L521.7,226.1 L528.4,221.7 L535.1,217.4 L541.9,213.1 L548.5,208.6 L555.1,204.1 L561.9,199.9 L569.1,196.2 L576.1,192.3 L582.7,187.8 L589.3,183.3 L596.0,178.8 L602.6,174.3 L609.2,169.8 L615.8,165.3 L622.4,160.8 L629.0,156.3 L635.7,151.8 L642.3,147.3 L648.9,142.8 L655.5,138.3 L662.1,133.8 L834.5,387.4 L827.9,391.9 L821.3,396.4 L814.7,400.9 L808.1,405.4 L801.5,409.9 L794.8,414.4 L788.2,418.9 L781.6,423.4 L775.0,427.9 L768.4,432.4 L761.8,436.9 L755.1,441.4 L748.5,445.9 L742.2,450.8 L736.0,455.9 L729.6,460.6 L722.2,464.0 L714.2,466.5 L706.3,469.2 L698.4,471.8 L690.5,474.4 L682.6,476.9 L674.6,479.3 L666.5,481.8 L658.5,484.1 L650.4,486.4 L642.2,488.7 L634.1,491.0 L625.9,493.2 L617.7,495.3 L609.5,497.5 L601.2,499.6 L593.0,501.6 L584.7,503.7 L576.4,505.7 L568.1,507.8 L559.8,509.8 L551.5,511.8 L543.3,513.9 L535.0,515.9 L526.7,518.0 L518.5,520.2 L510.3,522.3 L502.1,524.5 L494.0,526.8 L485.9,529.2 L477.9,531.6 L470.0,534.1 L462.1,536.8 L454.3,539.5 L446.6,542.4 L438.9,545.4 L431.4,548.6 L424.0,551.9 L416.7,555.4 L409.5,559.0 L402.4,562.9 L395.5,566.9 L388.7,571.1 L382.0,575.5 L375.5,580.2 L369.1,585.0 L362.9,590.1 L356.8,595.4 L350.9,600.9 L345.1,606.6 L339.5,612.5 L333.8,618.4 L327.8,623.8 L321.1,628.3 L314.5,632.8 L307.9,637.3 L301.3,641.8 L294.7,646.3Z" fill="url(#bg55)"/>
<linearGradient id="bg57" gradientUnits="userSpaceOnUse" x1="287.0" y1="403.8" x2="559.9" y2="218.2"><stop offset="0" stop-color="#959595"/><stop offset="1" stop-color="#a0a0a0"/></linearGradient>
<path d="M175.1,470.4 L181.7,465.9 L188.3,461.4 L194.9,456.9 L201.6,452.4 L208.2,447.9 L214.9,443.5 L221.5,439.1 L228.1,434.6 L234.7,430.1 L241.3,425.6 L248.0,421.1 L254.6,416.6 L261.2,412.1 L267.9,407.7 L274.5,403.2 L281.2,398.8 L287.8,394.3 L294.4,389.9 L301.1,385.4 L307.7,380.9 L314.4,376.5 L321.0,372.0 L327.6,367.5 L334.3,363.1 L340.9,358.6 L347.5,354.1 L354.1,349.6 L360.8,345.1 L367.4,340.6 L374.0,336.1 L380.5,331.5 L387.1,327.0 L393.7,322.4 L400.3,317.8 L406.8,313.2 L413.4,308.6 L419.9,304.0 L426.4,299.4 L433.0,294.8 L439.5,290.1 L446.0,285.5 L452.5,280.9 L459.0,276.2 L465.5,271.6 L472.1,266.9 L478.6,262.3 L485.1,257.7 L491.6,253.0 L498.2,248.5 L504.8,243.9 L511.4,239.4 L518.0,234.9 L524.6,230.4 L531.3,226.1 L538.1,221.7 L544.9,217.5 L551.5,213.0 L558.1,208.5 L565.0,204.3 L572.1,200.6 L579.1,196.7 L585.7,192.2 L592.3,187.7 L599.0,183.2 L605.6,178.7 L612.2,174.2 L618.8,169.7 L625.4,165.2 L632.0,160.7 L638.6,156.2 L645.3,151.7 L651.9,147.2 L658.5,142.7 L665.1,138.2 L834.5,387.4 L827.9,391.9 L821.3,396.4 L814.7,400.9 L808.1,405.4 L801.5,409.9 L794.8,414.4 L788.2,418.9 L781.6,423.4 L775.0,427.9 L768.4,432.4 L761.8,436.9 L755.1,441.4 L748.5,445.9 L742.2,450.8 L736.0,455.9 L729.6,460.6 L722.2,464.0 L714.2,466.5 L706.3,469.2 L698.4,471.8 L690.5,474.4 L682.6,476.9 L674.6,479.3 L666.5,481.8 L658.5,484.1 L650.4,486.4 L642.2,488.7 L634.1,491.0 L625.9,493.2 L617.7,495.3 L609.5,497.5 L601.2,499.6 L593.0,501.6 L584.7,503.7 L576.4,505.7 L568.1,507.8 L559.8,509.8 L551.5,511.8 L543.3,513.9 L535.0,515.9 L526.7,518.0 L518.5,520.2 L510.3,522.3 L502.1,524.5 L494.0,526.8 L485.9,529.2 L477.9,531.6 L470.0,534.1 L462.1,536.8 L454.3,539.5 L446.6,542.4 L438.9,545.4 L431.4,548.6 L424.0,551.9 L416.7,555.4 L409.5,559.0 L402.4,562.9 L395.5,566.9 L388.7,571.1 L382.0,575.5 L375.5,580.2 L369.1,585.0 L362.9,590.1 L356.8,595.4 L350.9,600.9 L345.1,606.6 L339.5,612.5 L333.8,618.4 L327.8,623.8 L321.1,628.3 L314.5,632.8 L307.9,637.3 L301.3,641.8 L294.7,646.3Z" fill="url(#bg57)"/>
<linearGradient id="bg59" gradientUnits="userSpaceOnUse" x1="287.0" y1="403.8" x2="559.9" y2="218.2"><stop offset="0" stop-color="#929292"/><stop offset="1" stop-color="#9d9d9d"/></linearGradient>
<path d="M177.1,473.3 L183.7,468.8 L190.3,464.3 L196.9,459.8 L203.5,455.3 L210.1,450.8 L216.8,446.4 L223.5,441.9 L230.0,437.4 L236.6,432.9 L243.2,428.4 L249.8,423.9 L256.5,419.4 L263.1,414.9 L269.7,410.4 L276.4,406.0 L283.0,401.5 L289.7,397.1 L296.3,392.6 L303.0,388.2 L309.6,383.7 L316.3,379.3 L323.0,374.9 L329.6,370.4 L336.3,366.0 L342.9,361.5 L349.6,357.1 L356.2,352.6 L362.8,348.2 L369.5,343.7 L376.1,339.2 L382.7,334.7 L389.3,330.2 L395.9,325.7 L402.5,321.2 L409.1,316.7 L415.7,312.1 L422.3,307.6 L428.9,303.0 L435.4,298.4 L442.0,293.8 L448.5,289.2 L455.1,284.6 L461.6,280.0 L468.2,275.4 L474.7,270.8 L481.3,266.3 L487.8,261.7 L494.4,257.1 L501.0,252.6 L507.6,248.1 L514.2,243.6 L520.9,239.1 L527.6,234.7 L534.3,230.4 L541.1,226.1 L547.9,221.9 L554.5,217.5 L561.1,213.0 L568.0,208.8 L575.1,205.0 L582.1,201.1 L588.7,196.6 L595.3,192.1 L601.9,187.6 L608.6,183.1 L615.2,178.6 L621.8,174.1 L628.4,169.6 L635.0,165.1 L641.6,160.6 L648.3,156.1 L654.9,151.6 L661.5,147.1 L668.1,142.6 L834.5,387.4 L827.9,391.9 L821.3,396.4 L814.7,400.9 L808.1,405.4 L801.5,409.9 L794.8,414.4 L788.2,418.9 L781.6,423.4 L775.0,427.9 L768.4,432.4 L761.8,436.9 L755.1,441.4 L748.5,445.9 L742.2,450.8 L736.0,455.9 L729.6,460.6 L722.2,464.0 L714.2,466.5 L706.3,469.2 L698.4,471.8 L690.5,474.4 L682.6,476.9 L674.6,479.3 L666.5,481.8 L658.5,484.1 L650.4,486.4 L642.2,488.7 L634.1,491.0 L625.9,493.2 L617.7,495.3 L609.5,497.5 L601.2,499.6 L593.0,501.6 L584.7,503.7 L576.4,505.7 L568.1,507.8 L559.8,509.8 L551.5,511.8 L543.3,513.9 L535.0,515.9 L526.7,518.0 L518.5,520.2 L510.3,522.3 L502.1,524.5 L494.0,526.8 L485.9,529.2 L477.9,531.6 L470.0,534.1 L462.1,536.8 L454.3,539.5 L446.6,542.4 L438.9,545.4 L431.4,548.6 L424.0,551.9 L416.7,555.4 L409.5,559.0 L402.4,562.9 L395.5,566.9 L388.7,571.1 L382.0,575.5 L375.5,580.2 L369.1,585.0 L362.9,590.1 L356.8,595.4 L350.9,600.9 L345.1,606.6 L339.5,612.5 L333.8,618.4 L327.8,623.8 L321.1,628.3 L314.5,632.8 L307.9,637.3 L301.3,641.8 L294.7,646.3Z" fill="url(#bg59)"/>
<linearGradient id="bg61" gradientUnits="userSpaceOnUse" x1="287.0" y1="403.8" x2="559.9" y2="218.2"><stop offset="0" stop-color="#909090"/><stop offset="1" stop-color="#9b9b9b"/></linearGradient>
<path d="M179.0,476.2 L185.7,471.7 L192.3,467.2 L198.9,462.7 L205.5,458.2 L212.1,453.7 L218.8,449.3 L225.4,444.8 L232.0,440.2 L238.5,435.7 L245.1,431.1 L251.7,426.6 L258.3,422.1 L265.0,417.6 L271.6,413.2 L278.2,408.7 L284.9,404.3 L291.6,399.8 L298.2,395.4 L304.9,391.0 L311.5,386.5 L318.2,382.1 L324.9,377.7 L331.6,373.3 L338.2,368.9 L344.9,364.5 L351.6,360.1 L358.3,355.7 L364.9,351.2 L371.6,346.8 L378.3,342.4 L384.9,337.9 L391.6,333.5 L398.2,329.0 L404.8,324.5 L411.5,320.1 L418.1,315.6 L424.7,311.1 L431.3,306.6 L437.9,302.0 L444.5,297.5 L451.1,293.0 L457.7,288.4 L464.2,283.9 L470.8,279.3 L477.4,274.8 L484.0,270.2 L490.6,265.7 L497.2,261.2 L503.8,256.7 L510.4,252.2 L517.1,247.8 L523.8,243.4 L530.5,239.0 L537.2,234.7 L544.0,230.5 L550.9,226.3 L557.5,221.9 L564.2,217.4 L571.0,213.2 L578.1,209.5 L585.1,205.5 L591.7,201.0 L598.3,196.5 L604.9,192.0 L611.6,187.5 L618.2,183.0 L624.8,178.5 L631.4,174.0 L638.0,169.5 L644.6,165.0 L651.2,160.5 L657.9,156.0 L664.5,151.5 L671.1,147.0 L834.5,387.4 L827.9,391.9 L821.3,396.4 L814.7,400.9 L808.1,405.4 L801.5,409.9 L794.8,414.4 L788.2,418.9 L781.6,423.4 L775.0,427.9 L768.4,432.4 L761.8,436.9 L755.1,441.4 L748.5,445.9 L742.2,450.8 L736.0,455.9 L729.6,460.6 L722.2,464.0 L714.2,466.5 L706.3,469.2 L698.4,471.8 L690.5,474.4 L682.6,476.9 L674.6,479.3 L666.5,481.8 L658.5,484.1 L650.4,486.4 L642.2,488.7 L634.1,491.0 L625.9,493.2 L617.7,495.3 L609.5,497.5 L601.2,499.6 L593.0,501.6 L584.7,503.7 L576.4,505.7 L568.1,507.8 L559.8,509.8 L551.5,511.8 L543.3,513.9 L535.0,515.9 L526.7,518.0 L518.5,520.2 L510.3,522.3 L502.1,524.5 L494.0,526.8 L485.9,529.2 L477.9,531.6 L470.0,534.1 L462.1,536.8 L454.3,539.5 L446.6,542.4 L438.9,545.4 L431.4,548.6 L424.0,551.9 L416.7,555.4 L409.5,559.0 L402.4,562.9 L395.5,566.9 L388.7,571.1 L382.0,575.5 L375.5,580.2 L369.1,585.0 L362.9,590.1 L356.8,595.4 L350.9,600.9 L345.1,606.6 L339.5,612.5 L333.8,618.4 L327.8,623.8 L321.1,628.3 L314.5,632.8 L307.9,637.3 L301.3,641.8 L294.7,646.3Z" fill="url(#bg61)"/>
<linearGradient id="bg63" gradientUnits="userSpaceOnUse" x1="287.0" y1="403.8" x2="559.9" y2="218.2"><stop offset="0" stop-color="#8d8d8d"/><stop offset="1" stop-color="#989898"/></linearGradient>
<path d="M181.0,479.1 L187.6,474.6 L194.3,470.1 L200.9,465.6 L207.5,461.1 L214.1,456.6 L220.7,452.2 L227.3,447.7 L233.9,443.1 L240.4,438.5 L247.0,433.9 L253.6,429.4 L260.2,424.9 L266.8,420.4 L273.5,415.9 L280.1,411.5 L286.8,407.0 L293.4,402.6 L300.1,398.2 L306.8,393.8 L313.5,389.4 L320.1,385.0 L326.8,380.6 L333.5,376.2 L340.2,371.8 L346.9,367.4 L353.6,363.1 L360.3,358.7 L367.0,354.3 L373.7,349.9 L380.4,345.5 L387.1,341.1 L393.8,336.7 L400.4,332.3 L407.1,327.9 L413.8,323.5 L420.4,319.0 L427.1,314.6 L433.7,310.1 L440.3,305.6 L447.0,301.2 L453.6,296.7 L460.2,292.2 L466.8,287.7 L473.5,283.2 L480.1,278.7 L486.7,274.2 L493.3,269.7 L500.0,265.3 L506.6,260.8 L513.3,256.4 L520.0,252.0 L526.7,247.6 L533.4,243.3 L540.2,239.0 L547.0,234.8 L553.8,230.7 L560.6,226.3 L567.2,221.9 L574.0,217.7 L581.1,213.9 L588.1,209.9 L594.7,205.4 L601.3,200.9 L607.9,196.4 L614.5,191.9 L621.2,187.4 L627.8,182.9 L634.4,178.4 L641.0,173.9 L647.6,169.4 L654.2,164.9 L660.9,160.4 L667.5,155.9 L674.1,151.4 L834.5,387.4 L827.9,391.9 L821.3,396.4 L814.7,400.9 L808.1,405.4 L801.5,409.9 L794.8,414.4 L788.2,418.9 L781.6,423.4 L775.0,427.9 L768.4,432.4 L761.8,436.9 L755.1,441.4 L748.5,445.9 L742.2,450.8 L736.0,455.9 L729.6,460.6 L722.2,464.0 L714.2,466.5 L706.3,469.2 L698.4,471.8 L690.5,474.4 L682.6,476.9 L674.6,479.3 L666.5,481.8 L658.5,484.1 L650.4,486.4 L642.2,488.7 L634.1,491.0 L625.9,493.2 L617.7,495.3 L609.5,497.5 L601.2,499.6 L593.0,501.6 L584.7,503.7 L576.4,505.7 L568.1,507.8 L559.8,509.8 L551.5,511.8 L543.3,513.9 L535.0,515.9 L526.7,518.0 L518.5,520.2 L510.3,522.3 L502.1,524.5 L494.0,526.8 L485.9,529.2 L477.9,531.6 L470.0,534.1 L462.1,536.8 L454.3,539.5 L446.6,542.4 L438.9,545.4 L431.4,548.6 L424.0,551.9 L416.7,555.4 L409.5,559.0 L402.4,562.9 L395.5,566.9 L388.7,571.1 L382.0,575.5 L375.5,580.2 L369.1,585.0 L362.9,590.1 L356.8,595.4 L350.9,600.9 L345.1,606.6 L339.5,612.5 L333.8,618.4 L327.8,623.8 L321.1,628.3 L314.5,632.8 L307.9,637.3 L301.3,641.8 L294.7,646.3Z" fill="url(#bg63)"/>
<linearGradient id="bg65" gradientUnits="userSpaceOnUse" x1="287.0" y1="403.8" x2="559.9" y2="218.2"><stop offset="0" stop-color="#8b8b8b"/><stop offset="1" stop-color="#969696"/></linearGradient>
<path d="M183.0,482.0 L189.6,477.5 L196.2,473.0 L202.8,468.5 L209.5,464.0 L216.1,459.6 L222.7,455.1 L229.3,450.5 L235.8,445.9 L242.3,441.3 L248.9,436.7 L255.5,432.2 L262.1,427.6 L268.7,423.1 L275.3,418.7 L282.0,414.2 L288.6,409.8 L295.3,405.3 L302.0,400.9 L308.7,396.5 L315.4,392.2 L322.1,387.8 L328.8,383.4 L335.5,379.1 L342.2,374.7 L348.9,370.4 L355.7,366.1 L362.4,361.7 L369.1,357.4 L375.8,353.0 L382.6,348.7 L389.3,344.4 L396.0,340.0 L402.7,335.6 L409.4,331.3 L416.1,326.9 L422.8,322.5 L429.5,318.1 L436.1,313.7 L442.8,309.3 L449.5,304.8 L456.1,300.4 L462.8,296.0 L469.4,291.5 L476.1,287.1 L482.8,282.6 L489.4,278.2 L496.1,273.8 L502.7,269.4 L509.4,264.9 L516.1,260.6 L522.8,256.2 L529.6,251.9 L536.3,247.6 L543.1,243.4 L550.0,239.2 L556.8,235.1 L563.6,230.8 L570.2,226.3 L577.0,222.1 L584.1,218.3 L591.1,214.3 L597.7,209.8 L604.3,205.3 L610.9,200.8 L617.5,196.3 L624.1,191.8 L630.8,187.3 L637.4,182.8 L644.0,178.3 L650.6,173.8 L657.2,169.3 L663.8,164.8 L670.5,160.3 L677.1,155.8 L834.5,387.4 L827.9,391.9 L821.3,396.4 L814.7,400.9 L808.1,405.4 L801.5,409.9 L794.8,414.4 L788.2,418.9 L781.6,423.4 L775.0,427.9 L768.4,432.4 L761.8,436.9 L755.1,441.4 L748.5,445.9 L742.2,450.8 L736.0,455.9 L729.6,460.6 L722.2,464.0 L714.2,466.5 L706.3,469.2 L698.4,471.8 L690.5,474.4 L682.6,476.9 L674.6,479.3 L666.5,481.8 L658.5,484.1 L650.4,486.4 L642.2,488.7 L634.1,491.0 L625.9,493.2 L617.7,495.3 L609.5,497.5 L601.2,499.6 L593.0,501.6 L584.7,503.7 L576.4,505.7 L568.1,507.8 L559.8,509.8 L551.5,511.8 L543.3,513.9 L535.0,515.9 L526.7,518.0 L518.5,520.2 L510.3,522.3 L502.1,524.5 L494.0,526.8 L485.9,529.2 L477.9,531.6 L470.0,534.1 L462.1,536.8 L454.3,539.5 L446.6,542.4 L438.9,545.4 L431.4,548.6 L424.0,551.9 L416.7,555.4 L409.5,559.0 L402.4,562.9 L395.5,566.9 L388.7,571.1 L382.0,575.5 L375.5,580.2 L369.1,585.0 L362.9,590.1 L356.8,595.4 L350.9,600.9 L345.1,606.6 L339.5,612.5 L333.8,618.4 L327.8,623.8 L321.1,628.3 L314.5,632.8 L307.9,637.3 L301.3,641.8 L294.7,646.3Z" fill="url(#bg65)"/>
<linearGradient id="bg67" gradientUnits="userSpaceOnUse" x1="287.0" y1="403.8" x2="559.9" y2="218.2"><stop offset="0" stop-color="#898989"/><stop offset="1" stop-color="#949494"/></linearGradient>
<path d="M185.0,484.9 L191.6,480.5 L198.2,476.0 L204.8,471.5 L211.4,467.0 L218.1,462.5 L224.7,458.0 L231.2,453.4 L237.7,448.7 L244.3,444.1 L250.8,439.5 L257.4,434.9 L264.0,430.4 L270.6,425.9 L277.2,421.4 L283.8,416.9 L290.5,412.5 L297.2,408.1 L303.9,403.7 L310.6,399.3 L317.3,395.0 L324.0,390.6 L330.7,386.3 L337.5,382.0 L344.2,377.7 L350.9,373.4 L357.7,369.1 L364.5,364.8 L371.2,360.5 L378.0,356.2 L384.7,351.9 L391.5,347.6 L398.2,343.3 L404.9,338.9 L411.7,334.6 L418.4,330.3 L425.1,326.0 L431.9,321.6 L438.6,317.3 L445.3,312.9 L452.0,308.5 L458.7,304.1 L465.4,299.7 L472.0,295.4 L478.7,291.0 L485.4,286.6 L492.1,282.2 L498.8,277.8 L505.5,273.4 L512.2,269.1 L518.9,264.7 L525.7,260.4 L532.4,256.1 L539.2,251.9 L546.1,247.7 L552.9,243.6 L559.8,239.5 L566.6,235.2 L573.3,230.8 L580.1,226.6 L587.1,222.7 L594.1,218.7 L600.7,214.2 L607.3,209.7 L613.9,205.2 L620.5,200.7 L627.1,196.2 L633.8,191.7 L640.4,187.2 L647.0,182.7 L653.6,178.2 L660.2,173.7 L666.8,169.2 L673.4,164.7 L680.1,160.2 L834.5,387.4 L827.9,391.9 L821.3,396.4 L814.7,400.9 L808.1,405.4 L801.5,409.9 L794.8,414.4 L788.2,418.9 L781.6,423.4 L775.0,427.9 L768.4,432.4 L761.8,436.9 L755.1,441.4 L748.5,445.9 L742.2,450.8 L736.0,455.9 L729.6,460.6 L722.2,464.0 L714.2,466.5 L706.3,469.2 L698.4,471.8 L690.5,474.4 L682.6,476.9 L674.6,479.3 L666.5,481.8 L658.5,484.1 L650.4,486.4 L642.2,488.7 L634.1,491.0 L625.9,493.2 L617.7,495.3 L609.5,497.5 L601.2,499.6 L593.0,501.6 L584.7,503.7 L576.4,505.7 L568.1,507.8 L559.8,509.8 L551.5,511.8 L543.3,513.9 L535.0,515.9 L526.7,518.0 L518.5,520.2 L510.3,522.3 L502.1,524.5 L494.0,526.8 L485.9,529.2 L477.9,531.6 L470.0,534.1 L462.1,536.8 L454.3,539.5 L446.6,542.4 L438.9,545.4 L431.4,548.6 L424.0,551.9 L416.7,555.4 L409.5,559.0 L402.4,562.9 L395.5,566.9 L388.7,571.1 L382.0,575.5 L375.5,580.2 L369.1,585.0 L362.9,590.1 L356.8,595.4 L350.9,600.9 L345.1,606.6 L339.5,612.5 L333.8,618.4 L327.8,623.8 L321.1,628.3 L314.5,632.8 L307.9,637.3 L301.3,641.8 L294.7,646.3Z" fill="url(#bg67)"/>
<linearGradient id="bg69" gradientUnits="userSpaceOnUse" x1="287.0" y1="403.8" x2="559.9" y2="218.2"><stop offset="0" stop-color="#868686"/><stop offset="1" stop-color="#919191"/></linearGradient>
<path d="M187.0,487.9 L193.6,483.4 L200.2,478.9 L206.8,474.4 L213.4,469.9 L220.0,465.4 L226.6,460.8 L233.2,456.2 L239.7,451.5 L246.2,446.9 L252.7,442.3 L259.3,437.7 L265.8,433.1 L272.4,428.6 L279.1,424.1 L285.7,419.7 L292.4,415.3 L299.1,410.9 L305.7,406.5 L312.5,402.1 L319.2,397.8 L325.9,393.5 L332.7,389.1 L339.4,384.9 L346.2,380.6 L353.0,376.3 L359.7,372.0 L366.5,367.8 L373.3,363.5 L380.1,359.3 L386.9,355.0 L393.6,350.8 L400.4,346.5 L407.2,342.3 L414.0,338.0 L420.7,333.7 L427.5,329.4 L434.2,325.1 L441.0,320.8 L447.7,316.5 L454.5,312.2 L461.2,307.9 L467.9,303.5 L474.7,299.2 L481.4,294.8 L488.1,290.5 L494.8,286.2 L501.5,281.8 L508.3,277.5 L515.0,273.2 L521.8,268.9 L528.5,264.6 L535.3,260.4 L542.2,256.2 L549.0,252.0 L555.9,247.9 L562.8,243.9 L569.6,239.6 L576.3,235.3 L583.1,231.0 L590.1,227.1 L597.1,223.1 L603.7,218.6 L610.3,214.1 L616.9,209.6 L623.5,205.1 L630.1,200.6 L636.7,196.1 L643.4,191.6 L650.0,187.1 L656.6,182.6 L663.2,178.1 L669.8,173.6 L676.4,169.1 L683.1,164.6 L834.5,387.4 L827.9,391.9 L821.3,396.4 L814.7,400.9 L808.1,405.4 L801.5,409.9 L794.8,414.4 L788.2,418.9 L781.6,423.4 L775.0,427.9 L768.4,432.4 L761.8,436.9 L755.1,441.4 L748.5,445.9 L742.2,450.8 L736.0,455.9 L729.6,460.6 L722.2,464.0 L714.2,466.5 L706.3,469.2 L698.4,471.8 L690.5,474.4 L682.6,476.9 L674.6,479.3 L666.5,481.8 L658.5,484.1 L650.4,486.4 L642.2,488.7 L634.1,491.0 L625.9,493.2 L617.7,495.3 L609.5,497.5 L601.2,499.6 L593.0,501.6 L584.7,503.7 L576.4,505.7 L568.1,507.8 L559.8,509.8 L551.5,511.8 L543.3,513.9 L535.0,515.9 L526.7,518.0 L518.5,520.2 L510.3,522.3 L502.1,524.5 L494.0,526.8 L485.9,529.2 L477.9,531.6 L470.0,534.1 L462.1,536.8 L454.3,539.5 L446.6,542.4 L438.9,545.4 L431.4,548.6 L424.0,551.9 L416.7,555.4 L409.5,559.0 L402.4,562.9 L395.5,566.9 L388.7,571.1 L382.0,575.5 L375.5,580.2 L369.1,585.0 L362.9,590.1 L356.8,595.4 L350.9,600.9 L345.1,606.6 L339.5,612.5 L333.8,618.4 L327.8,623.8 L321.1,628.3 L314.5,632.8 L307.9,637.3 L301.3,641.8 L294.7,646.3Z" fill="url(#bg69)"/>
<linearGradient id="bg71" gradientUnits="userSpaceOnUse" x1="287.0" y1="403.8" x2="559.9" y2="218.2"><stop offset="0" stop-color="#848484"/><stop offset="1" stop-color="#8f8f8f"/></linearGradient>
<path d="M188.9,490.8 L195.5,486.3 L202.2,481.8 L208.8,477.3 L215.4,472.8 L222.0,468.3 L228.6,463.7 L235.1,459.1 L241.6,454.4 L248.1,449.7 L254.6,445.1 L261.1,440.5 L267.7,435.9 L274.3,431.4 L280.9,426.9 L287.6,422.4 L294.2,418.0 L300.9,413.6 L307.6,409.2 L314.4,404.9 L321.1,400.6 L327.8,396.3 L334.6,392.0 L341.4,387.7 L348.2,383.5 L355.0,379.3 L361.8,375.0 L368.6,370.8 L375.4,366.6 L382.2,362.4 L389.0,358.2 L395.8,354.0 L402.6,349.8 L409.4,345.6 L416.3,341.3 L423.1,337.1 L429.8,332.9 L436.6,328.6 L443.4,324.4 L450.2,320.1 L457.0,315.9 L463.7,311.6 L470.5,307.3 L477.3,303.0 L484.0,298.7 L490.8,294.4 L497.5,290.1 L504.3,285.9 L511.1,281.6 L517.8,277.3 L524.6,273.1 L531.4,268.8 L538.2,264.6 L545.1,260.5 L551.9,256.4 L558.9,252.3 L565.8,248.3 L572.6,244.1 L579.3,239.7 L586.1,235.5 L593.1,231.5 L600.0,227.5 L606.7,223.0 L613.3,218.5 L619.9,214.0 L626.5,209.5 L633.1,205.0 L639.7,200.5 L646.4,196.0 L653.0,191.5 L659.6,187.0 L666.2,182.5 L672.8,178.0 L679.4,173.5 L686.0,169.0 L834.5,387.4 L827.9,391.9 L821.3,396.4 L814.7,400.9 L808.1,405.4 L801.5,409.9 L794.8,414.4 L788.2,418.9 L781.6,423.4 L775.0,427.9 L768.4,432.4 L761.8,436.9 L755.1,441.4 L748.5,445.9 L742.2,450.8 L736.0,455.9 L729.6,460.6 L722.2,464.0 L714.2,466.5 L706.3,469.2 L698.4,471.8 L690.5,474.4 L682.6,476.9 L674.6,479.3 L666.5,481.8 L658.5,484.1 L650.4,486.4 L642.2,488.7 L634.1,491.0 L625.9,493.2 L617.7,495.3 L609.5,497.5 L601.2,499.6 L593.0,501.6 L584.7,503.7 L576.4,505.7 L568.1,507.8 L559.8,509.8 L551.5,511.8 L543.3,513.9 L535.0,515.9 L526.7,518.0 L518.5,520.2 L510.3,522.3 L502.1,524.5 L494.0,526.8 L485.9,529.2 L477.9,531.6 L470.0,534.1 L462.1,536.8 L454.3,539.5 L446.6,542.4 L438.9,545.4 L431.4,548.6 L424.0,551.9 L416.7,555.4 L409.5,559.0 L402.4,562.9 L395.5,566.9 L388.7,571.1 L382.0,575.5 L375.5,580.2 L369.1,585.0 L362.9,590.1 L356.8,595.4 L350.9,600.9 L345.1,606.6 L339.5,612.5 L333.8,618.4 L327.8,623.8 L321.1,628.3 L314.5,632.8 L307.9,637.3 L301.3,641.8 L294.7,646.3Z" fill="url(#bg71)"/>
<linearGradient id="bg73" gradientUnits="userSpaceOnUse" x1="287.0" y1="403.8" x2="559.9" y2="218.2"><stop offset="0" stop-color="#818181"/><stop offset="1" stop-color="#8c8c8c"/></linearGradient>
<path d="M190.9,493.7 L197.5,489.2 L204.1,484.7 L210.7,480.2 L217.4,475.7 L224.0,471.2 L230.6,466.6 L237.0,461.9 L243.5,457.2 L250.0,452.5 L256.5,447.8 L263.0,443.2 L269.6,438.7 L276.2,434.1 L282.8,429.6 L289.4,425.2 L296.1,420.8 L302.8,416.4 L309.5,412.0 L316.2,407.7 L323.0,403.4 L329.8,399.1 L336.5,394.9 L343.3,390.6 L350.2,386.4 L357.0,382.2 L363.8,378.0 L370.6,373.8 L377.5,369.7 L384.3,365.5 L391.2,361.4 L398.0,357.2 L404.9,353.0 L411.7,348.9 L418.5,344.7 L425.4,340.5 L432.2,336.3 L439.0,332.2 L445.8,328.0 L452.7,323.8 L459.5,319.5 L466.3,315.3 L473.1,311.1 L479.9,306.8 L486.7,302.6 L493.4,298.4 L500.2,294.1 L507.0,289.9 L513.8,285.7 L520.6,281.4 L527.4,277.2 L534.3,273.1 L541.1,268.9 L548.0,264.8 L554.9,260.7 L561.8,256.6 L568.8,252.7 L575.6,248.5 L582.4,244.2 L589.1,239.9 L596.1,236.0 L603.0,231.9 L609.6,227.4 L616.3,222.9 L622.9,218.4 L629.5,213.9 L636.1,209.4 L642.7,204.9 L649.3,200.4 L656.0,195.9 L662.6,191.4 L669.2,186.9 L675.8,182.4 L682.4,177.9 L689.0,173.4 L834.5,387.4 L827.9,391.9 L821.3,396.4 L814.7,400.9 L808.1,405.4 L801.5,409.9 L794.8,414.4 L788.2,418.9 L781.6,423.4 L775.0,427.9 L768.4,432.4 L761.8,436.9 L755.1,441.4 L748.5,445.9 L742.2,450.8 L736.0,455.9 L729.6,460.6 L722.2,464.0 L714.2,466.5 L706.3,469.2 L698.4,471.8 L690.5,474.4 L682.6,476.9 L674.6,479.3 L666.5,481.8 L658.5,484.1 L650.4,486.4 L642.2,488.7 L634.1,491.0 L625.9,493.2 L617.7,495.3 L609.5,497.5 L601.2,499.6 L593.0,501.6 L584.7,503.7 L576.4,505.7 L568.1,507.8 L559.8,509.8 L551.5,511.8 L543.3,513.9 L535.0,515.9 L526.7,518.0 L518.5,520.2 L510.3,522.3 L502.1,524.5 L494.0,526.8 L485.9,529.2 L477.9,531.6 L470.0,534.1 L462.1,536.8 L454.3,539.5 L446.6,542.4 L438.9,545.4 L431.4,548.6 L424.0,551.9 L416.7,555.4 L409.5,559.0 L402.4,562.9 L395.5,566.9 L388.7,571.1 L382.0,575.5 L375.5,580.2 L369.1,585.0 L362.9,590.1 L356.8,595.4 L350.9,600.9 L345.1,606.6 L339.5,612.5 L333.8,618.4 L327.8,623.8 L321.1,628.3 L314.5,632.8 L307.9,637.3 L301.3,641.8 L294.7,646.3Z" fill="url(#bg73)"/>
<linearGradient id="bg75" gradientUnits="userSpaceOnUse" x1="287.0" y1="403.8" x2="559.9" y2="218.2"><stop offset="0" stop-color="#7f7f7f"/><stop offset="1" stop-color="#8a8a8a"/></linearGradient>
<path d="M192.9,496.6 L199.5,492.1 L206.1,487.6 L212.7,483.1 L219.3,478.6 L226.0,474.1 L232.5,469.5 L239.0,464.8 L245.4,460.0 L251.9,455.3 L258.4,450.6 L264.9,446.0 L271.5,441.4 L278.0,436.9 L284.7,432.4 L291.3,427.9 L298.0,423.5 L304.7,419.1 L311.4,414.8 L318.1,410.5 L324.9,406.2 L331.7,401.9 L338.5,397.7 L345.3,393.5 L352.1,389.3 L359.0,385.2 L365.8,381.0 L372.7,376.9 L379.6,372.8 L386.4,368.6 L393.3,364.5 L400.2,360.4 L407.1,356.3 L413.9,352.2 L420.8,348.1 L427.7,343.9 L434.6,339.8 L441.4,335.7 L448.3,331.5 L455.1,327.4 L462.0,323.2 L468.8,319.0 L475.6,314.9 L482.5,310.7 L489.3,306.5 L496.1,302.3 L502.9,298.1 L509.8,293.9 L516.6,289.7 L523.4,285.6 L530.3,281.4 L537.1,277.3 L544.0,273.1 L550.9,269.1 L557.8,265.0 L564.8,261.0 L571.8,257.1 L578.7,252.9 L585.4,248.6 L592.2,244.4 L599.1,240.4 L606.0,236.3 L612.6,231.8 L619.3,227.3 L625.9,222.8 L632.5,218.3 L639.1,213.8 L645.7,209.3 L652.3,204.8 L658.9,200.3 L665.6,195.8 L672.2,191.3 L678.8,186.8 L685.4,182.3 L692.0,177.8 L834.5,387.4 L827.9,391.9 L821.3,396.4 L814.7,400.9 L808.1,405.4 L801.5,409.9 L794.8,414.4 L788.2,418.9 L781.6,423.4 L775.0,427.9 L768.4,432.4 L761.8,436.9 L755.1,441.4 L748.5,445.9 L742.2,450.8 L736.0,455.9 L729.6,460.6 L722.2,464.0 L714.2,466.5 L706.3,469.2 L698.4,471.8 L690.5,474.4 L682.6,476.9 L674.6,479.3 L666.5,481.8 L658.5,484.1 L650.4,486.4 L642.2,488.7 L634.1,491.0 L625.9,493.2 L617.7,495.3 L609.5,497.5 L601.2,499.6 L593.0,501.6 L584.7,503.7 L576.4,505.7 L568.1,507.8 L559.8,509.8 L551.5,511.8 L543.3,513.9 L535.0,515.9 L526.7,518.0 L518.5,520.2 L510.3,522.3 L502.1,524.5 L494.0,526.8 L485.9,529.2 L477.9,531.6 L470.0,534.1 L462.1,536.8 L454.3,539.5 L446.6,542.4 L438.9,545.4 L431.4,548.6 L424.0,551.9 L416.7,555.4 L409.5,559.0 L402.4,562.9 L395.5,566.9 L388.7,571.1 L382.0,575.5 L375.5,580.2 L369.1,585.0 L362.9,590.1 L356.8,595.4 L350.9,600.9 L345.1,606.6 L339.5,612.5 L333.8,618.4 L327.8,623.8 L321.1,628.3 L314.5,632.8 L307.9,637.3 L301.3,641.8 L294.7,646.3Z" fill="url(#bg75)"/>
<linearGradient id="bg77" gradientUnits="userSpaceOnUse" x1="287.0" y1="403.8" x2="559.9" y2="218.2"><stop offset="0" stop-color="#7d7d7d"/><stop offset="1" stop-color="#888888"/></linearGradient>
<path d="M194.9,499.5 L201.5,495.0 L208.1,490.5 L214.7,486.0 L221.3,481.5 L227.9,477.0 L234.5,472.4 L240.9,467.7 L247.3,462.9 L253.8,458.1 L260.3,453.4 L266.8,448.8 L273.3,444.2 L279.9,439.6 L286.5,435.1 L293.2,430.7 L299.9,426.3 L306.6,421.9 L313.3,417.6 L320.0,413.3 L326.8,409.0 L333.6,404.8 L340.4,400.6 L347.3,396.4 L354.1,392.2 L361.0,388.1 L367.9,384.0 L374.8,379.9 L381.7,375.8 L388.6,371.8 L395.5,367.7 L402.4,363.6 L409.3,359.6 L416.2,355.5 L423.1,351.4 L430.0,347.3 L436.9,343.3 L443.8,339.2 L450.7,335.1 L457.6,331.0 L464.5,326.9 L471.3,322.8 L478.2,318.6 L485.1,314.5 L491.9,310.4 L498.8,306.2 L505.7,302.1 L512.5,297.9 L519.4,293.8 L526.2,289.7 L533.1,285.6 L540.0,281.5 L546.9,277.4 L553.8,273.4 L560.8,269.3 L567.8,265.4 L574.8,261.5 L581.7,257.4 L588.4,253.1 L595.2,248.8 L602.1,244.8 L609.0,240.7 L615.6,236.2 L622.2,231.7 L628.9,227.2 L635.5,222.7 L642.1,218.2 L648.7,213.7 L655.3,209.2 L661.9,204.7 L668.6,200.2 L675.2,195.7 L681.8,191.2 L688.4,186.7 L695.0,182.2 L834.5,387.4 L827.9,391.9 L821.3,396.4 L814.7,400.9 L808.1,405.4 L801.5,409.9 L794.8,414.4 L788.2,418.9 L781.6,423.4 L775.0,427.9 L768.4,432.4 L761.8,436.9 L755.1,441.4 L748.5,445.9 L742.2,450.8 L736.0,455.9 L729.6,460.6 L722.2,464.0 L714.2,466.5 L706.3,469.2 L698.4,471.8 L690.5,474.4 L682.6,476.9 L674.6,479.3 L666.5,481.8 L658.5,484.1 L650.4,486.4 L642.2,488.7 L634.1,491.0 L625.9,493.2 L617.7,495.3 L609.5,497.5 L601.2,499.6 L593.0,501.6 L584.7,503.7 L576.4,505.7 L568.1,507.8 L559.8,509.8 L551.5,511.8 L543.3,513.9 L535.0,515.9 L526.7,518.0 L518.5,520.2 L510.3,522.3 L502.1,524.5 L494.0,526.8 L485.9,529.2 L477.9,531.6 L470.0,534.1 L462.1,536.8 L454.3,539.5 L446.6,542.4 L438.9,545.4 L431.4,548.6 L424.0,551.9 L416.7,555.4 L409.5,559.0 L402.4,562.9 L395.5,566.9 L388.7,571.1 L382.0,575.5 L375.5,580.2 L369.1,585.0 L362.9,590.1 L356.8,595.4 L350.9,600.9 L345.1,606.6 L339.5,612.5 L333.8,618.4 L327.8,623.8 L321.1,628.3 L314.5,632.8 L307.9,637.3 L301.3,641.8 L294.7,646.3Z" fill="url(#bg77)"/>
<linearGradient id="bg79" gradientUnits="userSpaceOnUse" x1="287.0" y1="403.8" x2="559.9" y2="218.2"><stop offset="0" stop-color="#7b7b7b"/><stop offset="1" stop-color="#868686"/></linearGradient>
<path d="M196.8,502.4 L203.4,497.9 L210.1,493.4 L216.7,488.9 L223.3,484.4 L229.9,479.9 L236.4,475.3 L242.9,470.5 L249.3,465.7 L255.7,460.9 L262.2,456.2 L268.7,451.5 L275.2,446.9 L281.8,442.4 L288.4,437.9 L295.0,433.4 L301.7,429.0 L308.4,424.6 L315.2,420.3 L321.9,416.0 L328.7,411.8 L335.5,407.6 L342.4,403.4 L349.2,399.3 L356.1,395.2 L363.0,391.1 L369.9,387.0 L376.8,382.9 L383.7,378.9 L390.7,374.9 L397.6,370.8 L404.6,366.8 L411.5,362.8 L418.4,358.8 L425.4,354.8 L432.3,350.8 L439.3,346.7 L446.2,342.7 L453.1,338.7 L460.0,334.6 L467.0,330.6 L473.9,326.5 L480.8,322.4 L487.7,318.3 L494.6,314.3 L501.5,310.2 L508.4,306.1 L515.2,302.0 L522.1,297.9 L529.0,293.8 L536.0,289.7 L542.9,285.7 L549.8,281.6 L556.7,277.6 L563.7,273.7 L570.7,269.7 L577.7,265.8 L584.7,261.8 L591.5,257.6 L598.2,253.3 L605.1,249.2 L612.0,245.1 L618.6,240.6 L625.2,236.1 L631.9,231.6 L638.5,227.1 L645.1,222.6 L651.7,218.1 L658.3,213.6 L664.9,209.1 L671.5,204.6 L678.2,200.1 L684.8,195.6 L691.4,191.1 L698.0,186.6 L834.5,387.4 L827.9,391.9 L821.3,396.4 L814.7,400.9 L808.1,405.4 L801.5,409.9 L794.8,414.4 L788.2,418.9 L781.6,423.4 L775.0,427.9 L768.4,432.4 L761.8,436.9 L755.1,441.4 L748.5,445.9 L742.2,450.8 L736.0,455.9 L729.6,460.6 L722.2,464.0 L714.2,466.5 L706.3,469.2 L698.4,471.8 L690.5,474.4 L682.6,476.9 L674.6,479.3 L666.5,481.8 L658.5,484.1 L650.4,486.4 L642.2,488.7 L634.1,491.0 L625.9,493.2 L617.7,495.3 L609.5,497.5 L601.2,499.6 L593.0,501.6 L584.7,503.7 L576.4,505.7 L568.1,507.8 L559.8,509.8 L551.5,511.8 L543.3,513.9 L535.0,515.9 L526.7,518.0 L518.5,520.2 L510.3,522.3 L502.1,524.5 L494.0,526.8 L485.9,529.2 L477.9,531.6 L470.0,534.1 L462.1,536.8 L454.3,539.5 L446.6,542.4 L438.9,545.4 L431.4,548.6 L424.0,551.9 L416.7,555.4 L409.5,559.0 L402.4,562.9 L395.5,566.9 L388.7,571.1 L382.0,575.5 L375.5,580.2 L369.1,585.0 L362.9,590.1 L356.8,595.4 L350.9,600.9 L345.1,606.6 L339.5,612.5 L333.8,618.4 L327.8,623.8 L321.1,628.3 L314.5,632.8 L307.9,637.3 L301.3,641.8 L294.7,646.3Z" fill="url(#bg79)"/>
<linearGradient id="bg81" gradientUnits="userSpaceOnUse" x1="287.0" y1="403.8" x2="559.9" y2="218.2"><stop offset="0" stop-color="#797979"/><stop offset="1" stop-color="#848484"/></linearGradient>
<path d="M198.8,505.3 L205.4,500.8 L212.0,496.3 L218.7,491.8 L225.3,487.3 L231.9,482.8 L238.4,478.2 L244.8,473.4 L251.2,468.5 L257.6,463.7 L264.0,459.0 L270.5,454.3 L277.1,449.7 L283.7,445.1 L290.3,440.6 L296.9,436.2 L303.6,431.7 L310.3,427.4 L317.0,423.1 L323.8,418.8 L330.6,414.6 L337.5,410.4 L344.3,406.3 L351.2,402.2 L358.1,398.1 L365.0,394.0 L371.9,390.0 L378.9,386.0 L385.8,382.0 L392.8,378.0 L399.8,374.0 L406.7,370.0 L413.7,366.1 L420.7,362.1 L427.7,358.1 L434.6,354.2 L441.6,350.2 L448.6,346.2 L455.6,342.2 L462.5,338.2 L469.5,334.2 L476.4,330.2 L483.3,326.2 L490.3,322.2 L497.2,318.1 L504.1,314.1 L511.1,310.1 L518.0,306.0 L524.9,302.0 L531.8,297.9 L538.8,293.9 L545.7,289.9 L552.7,285.9 L559.7,281.9 L566.7,278.0 L573.7,274.1 L580.7,270.2 L587.7,266.2 L594.5,262.0 L601.2,257.7 L608.1,253.6 L615.0,249.5 L621.6,245.0 L628.2,240.5 L634.8,236.0 L641.5,231.5 L648.1,227.0 L654.7,222.5 L661.3,218.0 L667.9,213.5 L674.5,209.0 L681.2,204.5 L687.8,200.0 L694.4,195.5 L701.0,191.0 L834.5,387.4 L827.9,391.9 L821.3,396.4 L814.7,400.9 L808.1,405.4 L801.5,409.9 L794.8,414.4 L788.2,418.9 L781.6,423.4 L775.0,427.9 L768.4,432.4 L761.8,436.9 L755.1,441.4 L748.5,445.9 L742.2,450.8 L736.0,455.9 L729.6,460.6 L722.2,464.0 L714.2,466.5 L706.3,469.2 L698.4,471.8 L690.5,474.4 L682.6,476.9 L674.6,479.3 L666.5,481.8 L658.5,484.1 L650.4,486.4 L642.2,488.7 L634.1,491.0 L625.9,493.2 L617.7,495.3 L609.5,497.5 L601.2,499.6 L593.0,501.6 L584.7,503.7 L576.4,505.7 L568.1,507.8 L559.8,509.8 L551.5,511.8 L543.3,513.9 L535.0,515.9 L526.7,518.0 L518.5,520.2 L510.3,522.3 L502.1,524.5 L494.0,526.8 L485.9,529.2 L477.9,531.6 L470.0,534.1 L462.1,536.8 L454.3,539.5 L446.6,542.4 L438.9,545.4 L431.4,548.6 L424.0,551.9 L416.7,555.4 L409.5,559.0 L402.4,562.9 L395.5,566.9 L388.7,571.1 L382.0,575.5 L375.5,580.2 L369.1,585.0 L362.9,590.1 L356.8,595.4 L350.9,600.9 L345.1,606.6 L339.5,612.5 L333.8,618.4 L327.8,623.8 L321.1,628.3 L314.5,632.8 L307.9,637.3 L301.3,641.8 L294.7,646.3Z" fill="url(#bg81)"/>
<linearGradient id="bg83" gradientUnits="userSpaceOnUse" x1="287.0" y1="403.8" x2="559.9" y2="218.2"><stop offset="0" stop-color="#777777"/><stop offset="1" stop-color="#828282"/></linearGradient>
<path d="M200.8,508.2 L207.4,503.7 L214.0,499.2 L220.6,494.7 L227.2,490.2 L233.9,485.7 L240.4,481.0 L246.8,476.2 L253.1,471.3 L259.5,466.5 L265.9,461.7 L272.4,457.1 L279.0,452.4 L285.5,447.9 L292.1,443.3 L298.8,438.9 L305.5,434.5 L312.2,430.2 L318.9,425.9 L325.7,421.6 L332.5,417.4 L339.4,413.3 L346.3,409.1 L353.2,405.1 L360.1,401.0 L367.0,397.0 L374.0,393.0 L380.9,389.0 L387.9,385.0 L394.9,381.1 L401.9,377.2 L408.9,373.2 L415.9,369.3 L422.9,365.4 L430.0,361.5 L437.0,357.6 L444.0,353.7 L451.0,349.7 L458.0,345.8 L465.0,341.9 L472.0,337.9 L478.9,333.9 L485.9,330.0 L492.9,326.0 L499.9,322.0 L506.8,318.0 L513.8,314.0 L520.7,310.0 L527.7,306.0 L534.7,302.1 L541.6,298.1 L548.6,294.1 L555.6,290.2 L562.6,286.2 L569.6,282.3 L576.7,278.5 L583.7,274.6 L590.7,270.7 L597.5,266.5 L604.3,262.2 L611.2,258.1 L618.0,253.9 L624.6,249.4 L631.2,244.9 L637.8,240.4 L644.4,235.9 L651.1,231.4 L657.7,226.9 L664.3,222.4 L670.9,217.9 L677.5,213.4 L684.1,208.9 L690.8,204.4 L697.4,199.9 L704.0,195.4 L834.5,387.4 L827.9,391.9 L821.3,396.4 L814.7,400.9 L808.1,405.4 L801.5,409.9 L794.8,414.4 L788.2,418.9 L781.6,423.4 L775.0,427.9 L768.4,432.4 L761.8,436.9 L755.1,441.4 L748.5,445.9 L742.2,450.8 L736.0,455.9 L729.6,460.6 L722.2,464.0 L714.2,466.5 L706.3,469.2 L698.4,471.8 L690.5,474.4 L682.6,476.9 L674.6,479.3 L666.5,481.8 L658.5,484.1 L650.4,486.4 L642.2,488.7 L634.1,491.0 L625.9,493.2 L617.7,495.3 L609.5,497.5 L601.2,499.6 L593.0,501.6 L584.7,503.7 L576.4,505.7 L568.1,507.8 L559.8,509.8 L551.5,511.8 L543.3,513.9 L535.0,515.9 L526.7,518.0 L518.5,520.2 L510.3,522.3 L502.1,524.5 L494.0,526.8 L485.9,529.2 L477.9,531.6 L470.0,534.1 L462.1,536.8 L454.3,539.5 L446.6,542.4 L438.9,545.4 L431.4,548.6 L424.0,551.9 L416.7,555.4 L409.5,559.0 L402.4,562.9 L395.5,566.9 L388.7,571.1 L382.0,575.5 L375.5,580.2 L369.1,585.0 L362.9,590.1 L356.8,595.4 L350.9,600.9 L345.1,606.6 L339.5,612.5 L333.8,618.4 L327.8,623.8 L321.1,628.3 L314.5,632.8 L307.9,637.3 L301.3,641.8 L294.7,646.3Z" fill="url(#bg83)"/>
<linearGradient id="bg85" gradientUnits="userSpaceOnUse" x1="287.0" y1="403.8" x2="559.9" y2="218.2"><stop offset="0" stop-color="#767676"/><stop offset="1" stop-color="#808080"/></linearGradient>
<path d="M202.8,511.1 L209.4,506.6 L216.0,502.1 L222.6,497.6 L229.2,493.1 L235.8,488.6 L242.3,483.9 L248.7,479.1 L255.0,474.2 L261.4,469.3 L267.8,464.5 L274.3,459.8 L280.8,455.2 L287.4,450.6 L294.0,446.1 L300.6,441.6 L307.3,437.2 L314.1,432.9 L320.8,428.6 L327.6,424.4 L334.4,420.2 L341.3,416.1 L348.2,412.0 L355.1,407.9 L362.1,403.9 L369.0,399.9 L376.0,396.0 L383.0,392.0 L390.0,388.1 L397.0,384.2 L404.1,380.3 L411.1,376.5 L418.1,372.6 L425.2,368.7 L432.2,364.9 L439.3,361.0 L446.3,357.1 L453.4,353.2 L460.4,349.4 L467.4,345.5 L474.5,341.6 L481.5,337.7 L488.5,333.8 L495.5,329.8 L502.5,325.9 L509.5,322.0 L516.5,318.0 L523.5,314.1 L530.5,310.1 L537.5,306.2 L544.5,302.2 L551.5,298.3 L558.5,294.4 L565.5,290.5 L572.5,286.7 L579.6,282.8 L586.7,279.0 L593.7,275.1 L600.6,270.9 L607.3,266.6 L614.2,262.5 L621.0,258.3 L627.6,253.8 L634.2,249.3 L640.8,244.8 L647.4,240.3 L654.1,235.8 L660.7,231.3 L667.3,226.8 L673.9,222.3 L680.5,217.8 L687.1,213.3 L693.7,208.8 L700.4,204.3 L707.0,199.8 L834.5,387.4 L827.9,391.9 L821.3,396.4 L814.7,400.9 L808.1,405.4 L801.5,409.9 L794.8,414.4 L788.2,418.9 L781.6,423.4 L775.0,427.9 L768.4,432.4 L761.8,436.9 L755.1,441.4 L748.5,445.9 L742.2,450.8 L736.0,455.9 L729.6,460.6 L722.2,464.0 L714.2,466.5 L706.3,469.2 L698.4,471.8 L690.5,474.4 L682.6,476.9 L674.6,479.3 L666.5,481.8 L658.5,484.1 L650.4,486.4 L642.2,488.7 L634.1,491.0 L625.9,493.2 L617.7,495.3 L609.5,497.5 L601.2,499.6 L593.0,501.6 L584.7,503.7 L576.4,505.7 L568.1,507.8 L559.8,509.8 L551.5,511.8 L543.3,513.9 L535.0,515.9 L526.7,518.0 L518.5,520.2 L510.3,522.3 L502.1,524.5 L494.0,526.8 L485.9,529.2 L477.9,531.6 L470.0,534.1 L462.1,536.8 L454.3,539.5 L446.6,542.4 L438.9,545.4 L431.4,548.6 L424.0,551.9 L416.7,555.4 L409.5,559.0 L402.4,562.9 L395.5,566.9 L388.7,571.1 L382.0,575.5 L375.5,580.2 L369.1,585.0 L362.9,590.1 L356.8,595.4 L350.9,600.9 L345.1,606.6 L339.5,612.5 L333.8,618.4 L327.8,623.8 L321.1,628.3 L314.5,632.8 L307.9,637.3 L301.3,641.8 L294.7,646.3Z" fill="url(#bg85)"/>
<linearGradient id="bg87" gradientUnits="userSpaceOnUse" x1="287.0" y1="403.8" x2="559.9" y2="218.2"><stop offset="0" stop-color="#747474"/><stop offset="1" stop-color="#7e7e7e"/></linearGradient>
<path d="M204.7,514.0 L211.4,509.5 L218.0,505.0 L224.6,500.5 L231.2,496.0 L237.8,491.5 L244.3,486.8 L250.6,481.9 L257.0,477.0 L263.3,472.1 L269.7,467.3 L276.2,462.6 L282.7,457.9 L289.3,453.4 L295.9,448.8 L302.5,444.4 L309.2,440.0 L315.9,435.7 L322.7,431.4 L329.5,427.2 L336.4,423.0 L343.2,418.9 L350.1,414.8 L357.1,410.8 L364.0,406.8 L371.0,402.9 L378.0,399.0 L385.1,395.1 L392.1,391.2 L399.2,387.3 L406.2,383.5 L413.3,379.7 L420.4,375.8 L427.4,372.0 L434.5,368.2 L441.6,364.4 L448.7,360.6 L455.8,356.8 L462.8,352.9 L469.9,349.1 L477.0,345.2 L484.0,341.4 L491.1,337.5 L498.1,333.7 L505.1,329.8 L512.2,325.9 L519.2,322.0 L526.2,318.1 L533.2,314.2 L540.3,310.3 L547.3,306.4 L554.3,302.5 L561.4,298.7 L568.4,294.8 L575.5,291.0 L582.6,287.2 L589.7,283.4 L596.7,279.6 L603.6,275.4 L610.3,271.0 L617.2,266.9 L624.0,262.7 L630.6,258.2 L637.2,253.7 L643.8,249.2 L650.4,244.7 L657.0,240.2 L663.7,235.7 L670.3,231.2 L676.9,226.7 L683.5,222.2 L690.1,217.7 L696.7,213.2 L703.4,208.7 L710.0,204.2 L834.5,387.4 L827.9,391.9 L821.3,396.4 L814.7,400.9 L808.1,405.4 L801.5,409.9 L794.8,414.4 L788.2,418.9 L781.6,423.4 L775.0,427.9 L768.4,432.4 L761.8,436.9 L755.1,441.4 L748.5,445.9 L742.2,450.8 L736.0,455.9 L729.6,460.6 L722.2,464.0 L714.2,466.5 L706.3,469.2 L698.4,471.8 L690.5,474.4 L682.6,476.9 L674.6,479.3 L666.5,481.8 L658.5,484.1 L650.4,486.4 L642.2,488.7 L634.1,491.0 L625.9,493.2 L617.7,495.3 L609.5,497.5 L601.2,499.6 L593.0,501.6 L584.7,503.7 L576.4,505.7 L568.1,507.8 L559.8,509.8 L551.5,511.8 L543.3,513.9 L535.0,515.9 L526.7,518.0 L518.5,520.2 L510.3,522.3 L502.1,524.5 L494.0,526.8 L485.9,529.2 L477.9,531.6 L470.0,534.1 L462.1,536.8 L454.3,539.5 L446.6,542.4 L438.9,545.4 L431.4,548.6 L424.0,551.9 L416.7,555.4 L409.5,559.0 L402.4,562.9 L395.5,566.9 L388.7,571.1 L382.0,575.5 L375.5,580.2 L369.1,585.0 L362.9,590.1 L356.8,595.4 L350.9,600.9 L345.1,606.6 L339.5,612.5 L333.8,618.4 L327.8,623.8 L321.1,628.3 L314.5,632.8 L307.9,637.3 L301.3,641.8 L294.7,646.3Z" fill="url(#bg87)"/>
<linearGradient id="bg89" gradientUnits="userSpaceOnUse" x1="287.0" y1="403.8" x2="559.9" y2="218.2"><stop offset="0" stop-color="#727272"/><stop offset="1" stop-color="#7c7c7c"/></linearGradient>
<path d="M206.7,516.9 L213.3,512.4 L219.9,507.9 L226.6,503.4 L233.2,498.9 L239.8,494.4 L246.3,489.7 L252.6,484.8 L258.9,479.8 L265.2,474.9 L271.6,470.1 L278.1,465.4 L284.6,460.7 L291.1,456.1 L297.7,451.6 L304.4,447.1 L311.1,442.7 L317.8,438.4 L324.6,434.2 L331.4,430.0 L338.3,425.8 L345.2,421.7 L352.1,417.7 L359.0,413.7 L366.0,409.8 L373.0,405.8 L380.1,402.0 L387.1,398.1 L394.2,394.3 L401.3,390.5 L408.4,386.7 L415.5,382.9 L422.6,379.1 L429.7,375.3 L436.8,371.6 L443.9,367.8 L451.0,364.0 L458.1,360.3 L465.3,356.5 L472.4,352.7 L479.5,348.9 L486.5,345.1 L493.6,341.3 L500.7,337.5 L507.8,333.7 L514.8,329.8 L521.9,326.0 L529.0,322.1 L536.0,318.3 L543.1,314.4 L550.1,310.6 L557.2,306.7 L564.3,302.9 L571.3,299.1 L578.4,295.3 L585.6,291.5 L592.7,287.8 L599.8,284.0 L606.6,279.8 L613.3,275.5 L620.2,271.3 L627.0,267.1 L633.6,262.6 L640.2,258.1 L646.8,253.6 L653.4,249.1 L660.0,244.6 L666.7,240.1 L673.3,235.6 L679.9,231.1 L686.5,226.6 L693.1,222.1 L699.7,217.6 L706.3,213.1 L713.0,208.6 L834.5,387.4 L827.9,391.9 L821.3,396.4 L814.7,400.9 L808.1,405.4 L801.5,409.9 L794.8,414.4 L788.2,418.9 L781.6,423.4 L775.0,427.9 L768.4,432.4 L761.8,436.9 L755.1,441.4 L748.5,445.9 L742.2,450.8 L736.0,455.9 L729.6,460.6 L722.2,464.0 L714.2,466.5 L706.3,469.2 L698.4,471.8 L690.5,474.4 L682.6,476.9 L674.6,479.3 L666.5,481.8 L658.5,484.1 L650.4,486.4 L642.2,488.7 L634.1,491.0 L625.9,493.2 L617.7,495.3 L609.5,497.5 L601.2,499.6 L593.0,501.6 L584.7,503.7 L576.4,505.7 L568.1,507.8 L559.8,509.8 L551.5,511.8 L543.3,513.9 L535.0,515.9 L526.7,518.0 L518.5,520.2 L510.3,522.3 L502.1,524.5 L494.0,526.8 L485.9,529.2 L477.9,531.6 L470.0,534.1 L462.1,536.8 L454.3,539.5 L446.6,542.4 L438.9,545.4 L431.4,548.6 L424.0,551.9 L416.7,555.4 L409.5,559.0 L402.4,562.9 L395.5,566.9 L388.7,571.1 L382.0,575.5 L375.5,580.2 L369.1,585.0 L362.9,590.1 L356.8,595.4 L350.9,600.9 L345.1,606.6 L339.5,612.5 L333.8,618.4 L327.8,623.8 L321.1,628.3 L314.5,632.8 L307.9,637.3 L301.3,641.8 L294.7,646.3Z" fill="url(#bg89)"/>
<linearGradient id="bg91" gradientUnits="userSpaceOnUse" x1="287.0" y1="403.8" x2="559.9" y2="218.2"><stop offset="0" stop-color="#707070"/><stop offset="1" stop-color="#7a7a7a"/></linearGradient>
<path d="M208.7,519.8 L215.3,515.3 L221.9,510.8 L228.5,506.3 L235.2,501.8 L241.8,497.3 L248.2,492.6 L254.5,487.7 L260.8,482.6 L267.1,477.7 L273.5,472.9 L279.9,468.1 L286.4,463.4 L293.0,458.8 L299.6,454.3 L306.2,449.9 L312.9,445.5 L319.7,441.2 L326.5,436.9 L333.3,432.8 L340.2,428.6 L347.1,424.6 L354.0,420.6 L361.0,416.6 L368.0,412.7 L375.0,408.8 L382.1,404.9 L389.2,401.1 L396.3,397.3 L403.4,393.6 L410.5,389.8 L417.7,386.1 L424.8,382.4 L431.9,378.6 L439.1,374.9 L446.2,371.2 L453.4,367.5 L460.5,363.8 L467.7,360.1 L474.8,356.3 L481.9,352.6 L489.1,348.8 L496.2,345.1 L503.3,341.3 L510.4,337.5 L517.5,333.8 L524.6,330.0 L531.7,326.2 L538.8,322.4 L545.9,318.6 L553.0,314.7 L560.0,311.0 L567.1,307.2 L574.3,303.4 L581.4,299.6 L588.5,295.9 L595.7,292.2 L602.8,288.4 L609.7,284.3 L616.4,279.9 L623.2,275.7 L629.9,271.5 L636.6,267.0 L643.2,262.5 L649.8,258.0 L656.4,253.5 L663.0,249.0 L669.6,244.5 L676.3,240.0 L682.9,235.5 L689.5,231.0 L696.1,226.5 L702.7,222.0 L709.3,217.5 L715.9,213.0 L834.5,387.4 L827.9,391.9 L821.3,396.4 L814.7,400.9 L808.1,405.4 L801.5,409.9 L794.8,414.4 L788.2,418.9 L781.6,423.4 L775.0,427.9 L768.4,432.4 L761.8,436.9 L755.1,441.4 L748.5,445.9 L742.2,450.8 L736.0,455.9 L729.6,460.6 L722.2,464.0 L714.2,466.5 L706.3,469.2 L698.4,471.8 L690.5,474.4 L682.6,476.9 L674.6,479.3 L666.5,481.8 L658.5,484.1 L650.4,486.4 L642.2,488.7 L634.1,491.0 L625.9,493.2 L617.7,495.3 L609.5,497.5 L601.2,499.6 L593.0,501.6 L584.7,503.7 L576.4,505.7 L568.1,507.8 L559.8,509.8 L551.5,511.8 L543.3,513.9 L535.0,515.9 L526.7,518.0 L518.5,520.2 L510.3,522.3 L502.1,524.5 L494.0,526.8 L485.9,529.2 L477.9,531.6 L470.0,534.1 L462.1,536.8 L454.3,539.5 L446.6,542.4 L438.9,545.4 L431.4,548.6 L424.0,551.9 L416.7,555.4 L409.5,559.0 L402.4,562.9 L395.5,566.9 L388.7,571.1 L382.0,575.5 L375.5,580.2 L369.1,585.0 L362.9,590.1 L356.8,595.4 L350.9,600.9 L345.1,606.6 L339.5,612.5 L333.8,618.4 L327.8,623.8 L321.1,628.3 L314.5,632.8 L307.9,637.3 L301.3,641.8 L294.7,646.3Z" fill="url(#bg91)"/>
<linearGradient id="bg93" gradientUnits="userSpaceOnUse" x1="287.0" y1="403.8" x2="559.9" y2="218.2"><stop offset="0" stop-color="#6f6f6f"/><stop offset="1" stop-color="#787878"/></linearGradient>
<path d="M210.7,522.7 L217.3,518.2 L223.9,513.7 L230.5,509.2 L237.1,504.7 L243.7,500.2 L250.2,495.5 L256.5,490.5 L262.7,485.5 L269.0,480.5 L275.4,475.7 L281.8,470.9 L288.3,466.2 L294.9,461.6 L301.5,457.1 L308.1,452.6 L314.8,448.2 L321.6,443.9 L328.4,439.7 L335.2,435.5 L342.1,431.4 L349.0,427.4 L356.0,423.4 L363.0,419.5 L370.0,415.6 L377.1,411.7 L384.1,407.9 L391.2,404.2 L398.4,400.4 L405.5,396.7 L412.7,393.0 L419.8,389.3 L427.0,385.6 L434.2,382.0 L441.4,378.3 L448.6,374.6 L455.7,371.0 L462.9,367.3 L470.1,363.6 L477.3,360.0 L484.4,356.3 L491.6,352.6 L498.8,348.9 L505.9,345.1 L513.0,341.4 L520.2,337.7 L527.3,333.9 L534.4,330.2 L541.6,326.4 L548.7,322.7 L555.8,318.9 L562.9,315.2 L570.0,311.4 L577.2,307.7 L584.3,304.0 L591.5,300.3 L598.7,296.6 L605.8,292.9 L612.7,288.8 L619.4,284.4 L626.2,280.2 L632.9,275.9 L639.6,271.4 L646.2,266.9 L652.8,262.4 L659.4,257.9 L666.0,253.4 L672.6,248.9 L679.2,244.4 L685.9,239.9 L692.5,235.4 L699.1,230.9 L705.7,226.4 L712.3,221.9 L718.9,217.4 L834.5,387.4 L827.9,391.9 L821.3,396.4 L814.7,400.9 L808.1,405.4 L801.5,409.9 L794.8,414.4 L788.2,418.9 L781.6,423.4 L775.0,427.9 L768.4,432.4 L761.8,436.9 L755.1,441.4 L748.5,445.9 L742.2,450.8 L736.0,455.9 L729.6,460.6 L722.2,464.0 L714.2,466.5 L706.3,469.2 L698.4,471.8 L690.5,474.4 L682.6,476.9 L674.6,479.3 L666.5,481.8 L658.5,484.1 L650.4,486.4 L642.2,488.7 L634.1,491.0 L625.9,493.2 L617.7,495.3 L609.5,497.5 L601.2,499.6 L593.0,501.6 L584.7,503.7 L576.4,505.7 L568.1,507.8 L559.8,509.8 L551.5,511.8 L543.3,513.9 L535.0,515.9 L526.7,518.0 L518.5,520.2 L510.3,522.3 L502.1,524.5 L494.0,526.8 L485.9,529.2 L477.9,531.6 L470.0,534.1 L462.1,536.8 L454.3,539.5 L446.6,542.4 L438.9,545.4 L431.4,548.6 L424.0,551.9 L416.7,555.4 L409.5,559.0 L402.4,562.9 L395.5,566.9 L388.7,571.1 L382.0,575.5 L375.5,580.2 L369.1,585.0 L362.9,590.1 L356.8,595.4 L350.9,600.9 L345.1,606.6 L339.5,612.5 L333.8,618.4 L327.8,623.8 L321.1,628.3 L314.5,632.8 L307.9,637.3 L301.3,641.8 L294.7,646.3Z" fill="url(#bg93)"/>
<linearGradient id="bg95" gradientUnits="userSpaceOnUse" x1="287.0" y1="403.8" x2="559.9" y2="218.2"><stop offset="0" stop-color="#6d6d6d"/><stop offset="1" stop-color="#777777"/></linearGradient>
<path d="M212.6,525.6 L219.3,521.1 L225.9,516.6 L232.5,512.1 L239.1,507.6 L245.7,503.1 L252.1,498.4 L258.4,493.4 L264.7,488.3 L270.9,483.3 L277.3,478.4 L283.7,473.7 L290.2,469.0 L296.7,464.3 L303.3,459.8 L310.0,455.4 L316.7,451.0 L323.4,446.7 L330.2,442.5 L337.1,438.3 L344.0,434.3 L350.9,430.2 L357.9,426.3 L364.9,422.4 L372.0,418.5 L379.1,414.7 L386.2,410.9 L393.3,407.2 L400.5,403.5 L407.6,399.8 L414.8,396.1 L422.0,392.5 L429.2,388.9 L436.4,385.3 L443.7,381.7 L450.9,378.0 L458.1,374.4 L465.3,370.8 L472.5,367.2 L479.7,363.6 L486.9,359.9 L494.1,356.3 L501.3,352.6 L508.5,349.0 L515.7,345.3 L522.9,341.6 L530.0,337.9 L537.2,334.2 L544.3,330.5 L551.5,326.8 L558.6,323.1 L565.8,319.4 L572.9,315.7 L580.1,312.0 L587.3,308.3 L594.5,304.6 L601.7,301.0 L608.8,297.3 L615.7,293.2 L622.4,288.8 L629.2,284.6 L635.9,280.3 L642.5,275.8 L649.2,271.3 L655.8,266.8 L662.4,262.3 L669.0,257.8 L675.6,253.3 L682.2,248.8 L688.9,244.3 L695.5,239.8 L702.1,235.3 L708.7,230.8 L715.3,226.3 L721.9,221.8 L834.5,387.4 L827.9,391.9 L821.3,396.4 L814.7,400.9 L808.1,405.4 L801.5,409.9 L794.8,414.4 L788.2,418.9 L781.6,423.4 L775.0,427.9 L768.4,432.4 L761.8,436.9 L755.1,441.4 L748.5,445.9 L742.2,450.8 L736.0,455.9 L729.6,460.6 L722.2,464.0 L714.2,466.5 L706.3,469.2 L698.4,471.8 L690.5,474.4 L682.6,476.9 L674.6,479.3 L666.5,481.8 L658.5,484.1 L650.4,486.4 L642.2,488.7 L634.1,491.0 L625.9,493.2 L617.7,495.3 L609.5,497.5 L601.2,499.6 L593.0,501.6 L584.7,503.7 L576.4,505.7 L568.1,507.8 L559.8,509.8 L551.5,511.8 L543.3,513.9 L535.0,515.9 L526.7,518.0 L518.5,520.2 L510.3,522.3 L502.1,524.5 L494.0,526.8 L485.9,529.2 L477.9,531.6 L470.0,534.1 L462.1,536.8 L454.3,539.5 L446.6,542.4 L438.9,545.4 L431.4,548.6 L424.0,551.9 L416.7,555.4 L409.5,559.0 L402.4,562.9 L395.5,566.9 L388.7,571.1 L382.0,575.5 L375.5,580.2 L369.1,585.0 L362.9,590.1 L356.8,595.4 L350.9,600.9 L345.1,606.6 L339.5,612.5 L333.8,618.4 L327.8,623.8 L321.1,628.3 L314.5,632.8 L307.9,637.3 L301.3,641.8 L294.7,646.3Z" fill="url(#bg95)"/>
<linearGradient id="bg97" gradientUnits="userSpaceOnUse" x1="287.0" y1="403.8" x2="559.9" y2="218.2"><stop offset="0" stop-color="#6c6c6c"/><stop offset="1" stop-color="#757575"/></linearGradient>
<path d="M214.6,528.5 L221.2,524.0 L227.8,519.5 L234.5,515.0 L241.1,510.5 L247.7,506.0 L254.1,501.3 L260.4,496.2 L266.6,491.1 L272.8,486.1 L279.2,481.2 L285.6,476.4 L292.1,471.7 L298.6,467.1 L305.2,462.5 L311.8,458.1 L318.5,453.7 L325.3,449.5 L332.1,445.3 L339.0,441.1 L345.9,437.1 L352.9,433.1 L359.9,429.1 L366.9,425.3 L374.0,421.4 L381.1,417.7 L388.2,413.9 L395.4,410.2 L402.6,406.6 L409.8,402.9 L417.0,399.3 L424.2,395.7 L431.4,392.1 L438.7,388.6 L445.9,385.0 L453.2,381.5 L460.5,377.9 L467.7,374.3 L475.0,370.8 L482.2,367.2 L489.4,363.6 L496.7,360.0 L503.9,356.4 L511.1,352.8 L518.3,349.2 L525.5,345.5 L532.7,341.9 L539.9,338.2 L547.1,334.6 L554.3,330.9 L561.5,327.3 L568.6,323.6 L575.8,319.9 L583.0,316.3 L590.2,312.6 L597.4,309.0 L604.6,305.4 L611.8,301.7 L618.7,297.7 L625.4,293.3 L632.2,289.0 L638.9,284.7 L645.5,280.2 L652.2,275.7 L658.8,271.2 L665.4,266.7 L672.0,262.2 L678.6,257.7 L685.2,253.2 L691.8,248.7 L698.5,244.2 L705.1,239.7 L711.7,235.2 L718.3,230.7 L724.9,226.2 L834.5,387.4 L827.9,391.9 L821.3,396.4 L814.7,400.9 L808.1,405.4 L801.5,409.9 L794.8,414.4 L788.2,418.9 L781.6,423.4 L775.0,427.9 L768.4,432.4 L761.8,436.9 L755.1,441.4 L748.5,445.9 L742.2,450.8 L736.0,455.9 L729.6,460.6 L722.2,464.0 L714.2,466.5 L706.3,469.2 L698.4,471.8 L690.5,474.4 L682.6,476.9 L674.6,479.3 L666.5,481.8 L658.5,484.1 L650.4,486.4 L642.2,488.7 L634.1,491.0 L625.9,493.2 L617.7,495.3 L609.5,497.5 L601.2,499.6 L593.0,501.6 L584.7,503.7 L576.4,505.7 L568.1,507.8 L559.8,509.8 L551.5,511.8 L543.3,513.9 L535.0,515.9 L526.7,518.0 L518.5,520.2 L510.3,522.3 L502.1,524.5 L494.0,526.8 L485.9,529.2 L477.9,531.6 L470.0,534.1 L462.1,536.8 L454.3,539.5 L446.6,542.4 L438.9,545.4 L431.4,548.6 L424.0,551.9 L416.7,555.4 L409.5,559.0 L402.4,562.9 L395.5,566.9 L388.7,571.1 L382.0,575.5 L375.5,580.2 L369.1,585.0 L362.9,590.1 L356.8,595.4 L350.9,600.9 L345.1,606.6 L339.5,612.5 L333.8,618.4 L327.8,623.8 L321.1,628.3 L314.5,632.8 L307.9,637.3 L301.3,641.8 L294.7,646.3Z" fill="url(#bg97)"/>
<linearGradient id="bg99" gradientUnits="userSpaceOnUse" x1="287.0" y1="403.8" x2="559.9" y2="218.2"><stop offset="0" stop-color="#6b6b6b"/><stop offset="1" stop-color="#747474"/></linearGradient>
<path d="M216.6,531.4 L223.2,526.9 L229.8,522.5 L236.4,518.0 L243.1,513.5 L249.7,509.0 L256.1,504.1 L262.3,499.1 L268.5,494.0 L274.8,488.9 L281.1,484.0 L287.5,479.2 L293.9,474.5 L300.5,469.8 L307.0,465.3 L313.7,460.8 L320.4,456.5 L327.2,452.2 L334.0,448.0 L340.9,443.9 L347.8,439.9 L354.8,435.9 L361.8,432.0 L368.9,428.1 L375.9,424.3 L383.1,420.6 L390.2,416.9 L397.4,413.3 L404.6,409.6 L411.9,406.0 L419.1,402.5 L426.4,398.9 L433.7,395.4 L440.9,391.9 L448.2,388.4 L455.5,384.9 L462.8,381.4 L470.1,377.9 L477.4,374.3 L484.7,370.8 L491.9,367.3 L499.2,363.7 L506.5,360.2 L513.7,356.6 L521.0,353.1 L528.2,349.5 L535.4,345.9 L542.7,342.3 L549.9,338.7 L557.1,335.0 L564.3,331.4 L571.5,327.8 L578.7,324.2 L585.9,320.6 L593.2,317.0 L600.4,313.4 L607.6,309.8 L614.8,306.2 L621.8,302.1 L628.4,297.7 L635.2,293.4 L641.9,289.1 L648.5,284.6 L655.1,280.1 L661.8,275.6 L668.4,271.1 L675.0,266.6 L681.6,262.1 L688.2,257.6 L694.8,253.1 L701.4,248.6 L708.1,244.1 L714.7,239.6 L721.3,235.1 L727.9,230.6 L834.5,387.4 L827.9,391.9 L821.3,396.4 L814.7,400.9 L808.1,405.4 L801.5,409.9 L794.8,414.4 L788.2,418.9 L781.6,423.4 L775.0,427.9 L768.4,432.4 L761.8,436.9 L755.1,441.4 L748.5,445.9 L742.2,450.8 L736.0,455.9 L729.6,460.6 L722.2,464.0 L714.2,466.5 L706.3,469.2 L698.4,471.8 L690.5,474.4 L682.6,476.9 L674.6,479.3 L666.5,481.8 L658.5,484.1 L650.4,486.4 L642.2,488.7 L634.1,491.0 L625.9,493.2 L617.7,495.3 L609.5,497.5 L601.2,499.6 L593.0,501.6 L584.7,503.7 L576.4,505.7 L568.1,507.8 L559.8,509.8 L551.5,511.8 L543.3,513.9 L535.0,515.9 L526.7,518.0 L518.5,520.2 L510.3,522.3 L502.1,524.5 L494.0,526.8 L485.9,529.2 L477.9,531.6 L470.0,534.1 L462.1,536.8 L454.3,539.5 L446.6,542.4 L438.9,545.4 L431.4,548.6 L424.0,551.9 L416.7,555.4 L409.5,559.0 L402.4,562.9 L395.5,566.9 L388.7,571.1 L382.0,575.5 L375.5,580.2 L369.1,585.0 L362.9,590.1 L356.8,595.4 L350.9,600.9 L345.1,606.6 L339.5,612.5 L333.8,618.4 L327.8,623.8 L321.1,628.3 L314.5,632.8 L307.9,637.3 L301.3,641.8 L294.7,646.3Z" fill="url(#bg99)"/>
<linearGradient id="bg101" gradientUnits="userSpaceOnUse" x1="287.0" y1="403.8" x2="559.9" y2="218.2"><stop offset="0" stop-color="#6a6a6a"/><stop offset="1" stop-color="#727272"/></linearGradient>
<path d="M218.6,534.4 L225.2,529.9 L231.8,525.4 L238.4,520.9 L245.0,516.4 L251.6,511.9 L258.0,507.0 L264.2,501.9 L270.4,496.8 L276.7,491.7 L283.0,486.8 L289.4,482.0 L295.8,477.2 L302.3,472.6 L308.9,468.0 L315.6,463.6 L322.3,459.2 L329.1,455.0 L335.9,450.8 L342.8,446.7 L349.7,442.7 L356.7,438.7 L363.7,434.8 L370.8,431.0 L377.9,427.3 L385.1,423.6 L392.3,419.9 L399.5,416.3 L406.7,412.7 L414.0,409.2 L421.3,405.6 L428.6,402.1 L435.9,398.7 L443.2,395.2 L450.5,391.7 L457.8,388.3 L465.2,384.8 L472.5,381.4 L479.8,377.9 L487.1,374.4 L494.4,371.0 L501.7,367.5 L509.0,364.0 L516.3,360.5 L523.6,356.9 L530.9,353.4 L538.1,349.9 L545.4,346.3 L552.6,342.7 L559.9,339.2 L567.1,335.6 L574.4,332.0 L581.6,328.4 L588.8,324.8 L596.1,321.3 L603.4,317.7 L610.6,314.2 L617.9,310.6 L624.8,306.6 L631.5,302.2 L638.2,297.8 L644.9,293.5 L651.5,289.0 L658.1,284.5 L664.7,280.0 L671.4,275.5 L678.0,271.0 L684.6,266.5 L691.2,262.0 L697.8,257.5 L704.4,253.0 L711.1,248.5 L717.7,244.0 L724.3,239.5 L730.9,235.0 L834.5,387.4 L827.9,391.9 L821.3,396.4 L814.7,400.9 L808.1,405.4 L801.5,409.9 L794.8,414.4 L788.2,418.9 L781.6,423.4 L775.0,427.9 L768.4,432.4 L761.8,436.9 L755.1,441.4 L748.5,445.9 L742.2,450.8 L736.0,455.9 L729.6,460.6 L722.2,464.0 L714.2,466.5 L706.3,469.2 L698.4,471.8 L690.5,474.4 L682.6,476.9 L674.6,479.3 L666.5,481.8 L658.5,484.1 L650.4,486.4 L642.2,488.7 L634.1,491.0 L625.9,493.2 L617.7,495.3 L609.5,497.5 L601.2,499.6 L593.0,501.6 L584.7,503.7 L576.4,505.7 L568.1,507.8 L559.8,509.8 L551.5,511.8 L543.3,513.9 L535.0,515.9 L526.7,518.0 L518.5,520.2 L510.3,522.3 L502.1,524.5 L494.0,526.8 L485.9,529.2 L477.9,531.6 L470.0,534.1 L462.1,536.8 L454.3,539.5 L446.6,542.4 L438.9,545.4 L431.4,548.6 L424.0,551.9 L416.7,555.4 L409.5,559.0 L402.4,562.9 L395.5,566.9 L388.7,571.1 L382.0,575.5 L375.5,580.2 L369.1,585.0 L362.9,590.1 L356.8,595.4 L350.9,600.9 L345.1,606.6 L339.5,612.5 L333.8,618.4 L327.8,623.8 L321.1,628.3 L314.5,632.8 L307.9,637.3 L301.3,641.8 L294.7,646.3Z" fill="url(#bg101)"/>
<linearGradient id="bg103" gradientUnits="userSpaceOnUse" x1="287.0" y1="403.8" x2="559.9" y2="218.2"><stop offset="0" stop-color="#686868"/><stop offset="1" stop-color="#717171"/></linearGradient>
<path d="M220.5,537.3 L227.2,532.8 L233.8,528.3 L240.4,523.8 L247.0,519.3 L253.6,514.8 L260.0,509.9 L266.2,504.8 L272.3,499.6 L278.6,494.5 L284.9,489.6 L291.2,484.7 L297.7,480.0 L304.2,475.3 L310.8,470.8 L317.4,466.3 L324.1,462.0 L330.9,457.7 L337.8,453.6 L344.7,449.5 L351.6,445.5 L358.6,441.6 L365.7,437.7 L372.8,433.9 L379.9,430.2 L387.1,426.5 L394.3,422.9 L401.6,419.3 L408.8,415.8 L416.1,412.3 L423.4,408.8 L430.8,405.4 L438.1,401.9 L445.4,398.5 L452.8,395.1 L460.2,391.7 L467.5,388.3 L474.9,384.9 L482.2,381.5 L489.6,378.1 L496.9,374.6 L504.3,371.2 L511.6,367.8 L518.9,364.3 L526.2,360.8 L533.5,357.3 L540.8,353.8 L548.1,350.3 L555.4,346.8 L562.7,343.3 L570.0,339.8 L577.2,336.2 L584.5,332.7 L591.8,329.1 L599.0,325.6 L606.3,322.1 L613.6,318.6 L620.9,315.0 L627.8,311.1 L634.5,306.6 L641.2,302.3 L647.9,297.9 L654.5,293.4 L661.1,288.9 L667.7,284.4 L674.4,279.9 L681.0,275.4 L687.6,270.9 L694.2,266.4 L700.8,261.9 L707.4,257.4 L714.0,252.9 L720.7,248.4 L727.3,243.9 L733.9,239.4 L834.5,387.4 L827.9,391.9 L821.3,396.4 L814.7,400.9 L808.1,405.4 L801.5,409.9 L794.8,414.4 L788.2,418.9 L781.6,423.4 L775.0,427.9 L768.4,432.4 L761.8,436.9 L755.1,441.4 L748.5,445.9 L742.2,450.8 L736.0,455.9 L729.6,460.6 L722.2,464.0 L714.2,466.5 L706.3,469.2 L698.4,471.8 L690.5,474.4 L682.6,476.9 L674.6,479.3 L666.5,481.8 L658.5,484.1 L650.4,486.4 L642.2,488.7 L634.1,491.0 L625.9,493.2 L617.7,495.3 L609.5,497.5 L601.2,499.6 L593.0,501.6 L584.7,503.7 L576.4,505.7 L568.1,507.8 L559.8,509.8 L551.5,511.8 L543.3,513.9 L535.0,515.9 L526.7,518.0 L518.5,520.2 L510.3,522.3 L502.1,524.5 L494.0,526.8 L485.9,529.2 L477.9,531.6 L470.0,534.1 L462.1,536.8 L454.3,539.5 L446.6,542.4 L438.9,545.4 L431.4,548.6 L424.0,551.9 L416.7,555.4 L409.5,559.0 L402.4,562.9 L395.5,566.9 L388.7,571.1 L382.0,575.5 L375.5,580.2 L369.1,585.0 L362.9,590.1 L356.8,595.4 L350.9,600.9 L345.1,606.6 L339.5,612.5 L333.8,618.4 L327.8,623.8 L321.1,628.3 L314.5,632.8 L307.9,637.3 L301.3,641.8 L294.7,646.3Z" fill="url(#bg103)"/>
<linearGradient id="bg105" gradientUnits="userSpaceOnUse" x1="287.0" y1="403.8" x2="559.9" y2="218.2"><stop offset="0" stop-color="#676767"/><stop offset="1" stop-color="#707070"/></linearGradient>
<path d="M222.5,540.2 L229.1,535.7 L235.8,531.2 L242.4,526.7 L249.0,522.2 L255.6,517.7 L262.0,512.8 L268.1,507.7 L274.3,502.4 L280.5,497.3 L286.8,492.4 L293.1,487.5 L299.6,482.7 L306.1,478.1 L312.6,473.5 L319.3,469.1 L326.0,464.7 L332.8,460.5 L339.7,456.3 L346.6,452.3 L353.5,448.3 L360.6,444.4 L367.6,440.6 L374.7,436.8 L381.9,433.1 L389.1,429.5 L396.3,425.9 L403.6,422.3 L410.9,418.9 L418.2,415.4 L425.6,412.0 L432.9,408.6 L440.3,405.2 L447.7,401.8 L455.1,398.4 L462.5,395.1 L469.9,391.7 L477.3,388.4 L484.7,385.0 L492.1,381.7 L499.4,378.3 L506.8,374.9 L514.2,371.5 L521.5,368.1 L528.9,364.7 L536.2,361.3 L543.6,357.8 L550.9,354.4 L558.2,350.9 L565.5,347.4 L572.8,343.9 L580.1,340.4 L587.4,336.9 L594.7,333.4 L602.0,329.9 L609.3,326.4 L616.6,323.0 L623.9,319.5 L630.9,315.5 L637.5,311.1 L644.2,306.7 L650.9,302.3 L657.5,297.8 L664.1,293.3 L670.7,288.8 L677.3,284.3 L684.0,279.8 L690.6,275.3 L697.2,270.8 L703.8,266.3 L710.4,261.8 L717.0,257.3 L723.7,252.8 L730.3,248.3 L736.9,243.8 L834.5,387.4 L827.9,391.9 L821.3,396.4 L814.7,400.9 L808.1,405.4 L801.5,409.9 L794.8,414.4 L788.2,418.9 L781.6,423.4 L775.0,427.9 L768.4,432.4 L761.8,436.9 L755.1,441.4 L748.5,445.9 L742.2,450.8 L736.0,455.9 L729.6,460.6 L722.2,464.0 L714.2,466.5 L706.3,469.2 L698.4,471.8 L690.5,474.4 L682.6,476.9 L674.6,479.3 L666.5,481.8 L658.5,484.1 L650.4,486.4 L642.2,488.7 L634.1,491.0 L625.9,493.2 L617.7,495.3 L609.5,497.5 L601.2,499.6 L593.0,501.6 L584.7,503.7 L576.4,505.7 L568.1,507.8 L559.8,509.8 L551.5,511.8 L543.3,513.9 L535.0,515.9 L526.7,518.0 L518.5,520.2 L510.3,522.3 L502.1,524.5 L494.0,526.8 L485.9,529.2 L477.9,531.6 L470.0,534.1 L462.1,536.8 L454.3,539.5 L446.6,542.4 L438.9,545.4 L431.4,548.6 L424.0,551.9 L416.7,555.4 L409.5,559.0 L402.4,562.9 L395.5,566.9 L388.7,571.1 L382.0,575.5 L375.5,580.2 L369.1,585.0 L362.9,590.1 L356.8,595.4 L350.9,600.9 L345.1,606.6 L339.5,612.5 L333.8,618.4 L327.8,623.8 L321.1,628.3 L314.5,632.8 L307.9,637.3 L301.3,641.8 L294.7,646.3Z" fill="url(#bg105)"/>
<linearGradient id="bg107" gradientUnits="userSpaceOnUse" x1="287.0" y1="403.8" x2="559.9" y2="218.2"><stop offset="0" stop-color="#666666"/><stop offset="1" stop-color="#6f6f6f"/></linearGradient>
<path d="M224.5,543.1 L231.1,538.6 L237.7,534.1 L244.3,529.6 L251.0,525.1 L257.6,520.6 L263.9,515.7 L270.1,510.5 L276.2,505.3 L282.4,500.1 L288.6,495.1 L295.0,490.3 L301.4,485.5 L307.9,480.8 L314.5,476.3 L321.2,471.8 L327.9,467.5 L334.7,463.2 L341.5,459.1 L348.5,455.1 L355.4,451.1 L362.5,447.2 L369.6,443.4 L376.7,439.7 L383.9,436.0 L391.1,432.4 L398.4,428.9 L405.7,425.4 L413.0,421.9 L420.4,418.5 L427.7,415.1 L435.1,411.8 L442.5,408.4 L449.9,405.1 L457.4,401.8 L464.8,398.5 L472.2,395.2 L479.7,391.9 L487.1,388.6 L494.5,385.3 L501.9,382.0 L509.3,378.7 L516.7,375.3 L524.1,372.0 L531.5,368.6 L538.9,365.2 L546.3,361.8 L553.6,358.4 L561.0,355.0 L568.3,351.5 L575.6,348.1 L583.0,344.6 L590.3,341.2 L597.6,337.7 L604.9,334.3 L612.3,330.8 L619.6,327.4 L626.9,323.9 L633.9,320.0 L640.5,315.5 L647.2,311.1 L653.9,306.7 L660.5,302.2 L667.1,297.7 L673.7,293.2 L680.3,288.7 L687.0,284.2 L693.6,279.7 L700.2,275.2 L706.8,270.7 L713.4,266.2 L720.0,261.7 L726.6,257.2 L733.3,252.7 L739.9,248.2 L834.5,387.4 L827.9,391.9 L821.3,396.4 L814.7,400.9 L808.1,405.4 L801.5,409.9 L794.8,414.4 L788.2,418.9 L781.6,423.4 L775.0,427.9 L768.4,432.4 L761.8,436.9 L755.1,441.4 L748.5,445.9 L742.2,450.8 L736.0,455.9 L729.6,460.6 L722.2,464.0 L714.2,466.5 L706.3,469.2 L698.4,471.8 L690.5,474.4 L682.6,476.9 L674.6,479.3 L666.5,481.8 L658.5,484.1 L650.4,486.4 L642.2,488.7 L634.1,491.0 L625.9,493.2 L617.7,495.3 L609.5,497.5 L601.2,499.6 L593.0,501.6 L584.7,503.7 L576.4,505.7 L568.1,507.8 L559.8,509.8 L551.5,511.8 L543.3,513.9 L535.0,515.9 L526.7,518.0 L518.5,520.2 L510.3,522.3 L502.1,524.5 L494.0,526.8 L485.9,529.2 L477.9,531.6 L470.0,534.1 L462.1,536.8 L454.3,539.5 L446.6,542.4 L438.9,545.4 L431.4,548.6 L424.0,551.9 L416.7,555.4 L409.5,559.0 L402.4,562.9 L395.5,566.9 L388.7,571.1 L382.0,575.5 L375.5,580.2 L369.1,585.0 L362.9,590.1 L356.8,595.4 L350.9,600.9 L345.1,606.6 L339.5,612.5 L333.8,618.4 L327.8,623.8 L321.1,628.3 L314.5,632.8 L307.9,637.3 L301.3,641.8 L294.7,646.3Z" fill="url(#bg107)"/>
<linearGradient id="bg109" gradientUnits="userSpaceOnUse" x1="287.0" y1="403.8" x2="559.9" y2="218.2"><stop offset="0" stop-color="#656565"/><stop offset="1" stop-color="#6e6e6e"/></linearGradient>
<path d="M226.5,546.0 L233.1,541.5 L239.7,537.0 L246.3,532.5 L252.9,528.0 L259.6,523.5 L265.9,518.6 L272.0,513.4 L278.1,508.1 L284.3,503.0 L290.5,497.9 L296.9,493.0 L303.3,488.2 L309.8,483.6 L316.4,479.0 L323.0,474.6 L329.8,470.2 L336.6,466.0 L343.4,461.9 L350.4,457.8 L357.3,453.9 L364.4,450.0 L371.5,446.3 L378.7,442.6 L385.9,438.9 L393.1,435.4 L400.4,431.9 L407.7,428.4 L415.1,425.0 L422.5,421.6 L429.9,418.3 L437.3,415.0 L444.7,411.7 L452.2,408.4 L459.7,405.2 L467.1,401.9 L474.6,398.7 L482.1,395.4 L489.5,392.2 L497.0,388.9 L504.4,385.7 L511.9,382.4 L519.3,379.1 L526.7,375.8 L534.2,372.5 L541.6,369.1 L549.0,365.8 L556.4,362.4 L563.7,359.1 L571.1,355.7 L578.5,352.3 L585.8,348.8 L593.2,345.4 L600.5,342.0 L607.9,338.6 L615.2,335.2 L622.6,331.8 L629.9,328.3 L636.9,324.4 L643.6,320.0 L650.2,315.5 L656.9,311.1 L663.5,306.6 L670.1,302.1 L676.7,297.6 L683.3,293.1 L689.9,288.6 L696.6,284.1 L703.2,279.6 L709.8,275.1 L716.4,270.6 L723.0,266.1 L729.6,261.6 L736.2,257.1 L742.9,252.6 L834.5,387.4 L827.9,391.9 L821.3,396.4 L814.7,400.9 L808.1,405.4 L801.5,409.9 L794.8,414.4 L788.2,418.9 L781.6,423.4 L775.0,427.9 L768.4,432.4 L761.8,436.9 L755.1,441.4 L748.5,445.9 L742.2,450.8 L736.0,455.9 L729.6,460.6 L722.2,464.0 L714.2,466.5 L706.3,469.2 L698.4,471.8 L690.5,474.4 L682.6,476.9 L674.6,479.3 L666.5,481.8 L658.5,484.1 L650.4,486.4 L642.2,488.7 L634.1,491.0 L625.9,493.2 L617.7,495.3 L609.5,497.5 L601.2,499.6 L593.0,501.6 L584.7,503.7 L576.4,505.7 L568.1,507.8 L559.8,509.8 L551.5,511.8 L543.3,513.9 L535.0,515.9 L526.7,518.0 L518.5,520.2 L510.3,522.3 L502.1,524.5 L494.0,526.8 L485.9,529.2 L477.9,531.6 L470.0,534.1 L462.1,536.8 L454.3,539.5 L446.6,542.4 L438.9,545.4 L431.4,548.6 L424.0,551.9 L416.7,555.4 L409.5,559.0 L402.4,562.9 L395.5,566.9 L388.7,571.1 L382.0,575.5 L375.5,580.2 L369.1,585.0 L362.9,590.1 L356.8,595.4 L350.9,600.9 L345.1,606.6 L339.5,612.5 L333.8,618.4 L327.8,623.8 L321.1,628.3 L314.5,632.8 L307.9,637.3 L301.3,641.8 L294.7,646.3Z" fill="url(#bg109)"/>
<linearGradient id="bg111" gradientUnits="userSpaceOnUse" x1="287.0" y1="403.8" x2="559.9" y2="218.2"><stop offset="0" stop-color="#646464"/><stop offset="1" stop-color="#6d6d6d"/></linearGradient>
<path d="M228.4,548.9 L235.1,544.4 L241.7,539.9 L248.3,535.4 L254.9,530.9 L261.5,526.4 L267.8,521.5 L274.0,516.2 L280.0,510.9 L286.2,505.8 L292.4,500.7 L298.8,495.8 L305.2,491.0 L311.7,486.3 L318.2,481.7 L324.9,477.3 L331.6,473.0 L338.4,468.8 L345.3,464.6 L352.2,460.6 L359.3,456.7 L366.3,452.9 L373.4,449.1 L380.6,445.5 L387.9,441.9 L395.1,438.3 L402.4,434.9 L409.8,431.4 L417.2,428.1 L424.6,424.7 L432.0,421.5 L439.5,418.2 L447.0,415.0 L454.4,411.7 L461.9,408.5 L469.4,405.3 L476.9,402.1 L484.4,398.9 L491.9,395.7 L499.4,392.5 L506.9,389.3 L514.4,386.1 L521.9,382.9 L529.3,379.6 L536.8,376.4 L544.2,373.1 L551.7,369.8 L559.1,366.5 L566.5,363.1 L573.9,359.8 L581.3,356.4 L588.7,353.1 L596.1,349.7 L603.4,346.3 L610.8,342.9 L618.2,339.5 L625.6,336.2 L632.9,332.8 L640.0,328.9 L646.6,324.4 L653.2,319.9 L659.9,315.5 L666.5,311.0 L673.1,306.5 L679.7,302.0 L686.3,297.5 L692.9,293.0 L699.5,288.5 L706.2,284.0 L712.8,279.5 L719.4,275.0 L726.0,270.5 L732.6,266.0 L739.2,261.5 L745.9,257.0 L834.5,387.4 L827.9,391.9 L821.3,396.4 L814.7,400.9 L808.1,405.4 L801.5,409.9 L794.8,414.4 L788.2,418.9 L781.6,423.4 L775.0,427.9 L768.4,432.4 L761.8,436.9 L755.1,441.4 L748.5,445.9 L742.2,450.8 L736.0,455.9 L729.6,460.6 L722.2,464.0 L714.2,466.5 L706.3,469.2 L698.4,471.8 L690.5,474.4 L682.6,476.9 L674.6,479.3 L666.5,481.8 L658.5,484.1 L650.4,486.4 L642.2,488.7 L634.1,491.0 L625.9,493.2 L617.7,495.3 L609.5,497.5 L601.2,499.6 L593.0,501.6 L584.7,503.7 L576.4,505.7 L568.1,507.8 L559.8,509.8 L551.5,511.8 L543.3,513.9 L535.0,515.9 L526.7,518.0 L518.5,520.2 L510.3,522.3 L502.1,524.5 L494.0,526.8 L485.9,529.2 L477.9,531.6 L470.0,534.1 L462.1,536.8 L454.3,539.5 L446.6,542.4 L438.9,545.4 L431.4,548.6 L424.0,551.9 L416.7,555.4 L409.5,559.0 L402.4,562.9 L395.5,566.9 L388.7,571.1 L382.0,575.5 L375.5,580.2 L369.1,585.0 L362.9,590.1 L356.8,595.4 L350.9,600.9 L345.1,606.6 L339.5,612.5 L333.8,618.4 L327.8,623.8 L321.1,628.3 L314.5,632.8 L307.9,637.3 L301.3,641.8 L294.7,646.3Z" fill="url(#bg111)"/>
<linearGradient id="bg113" gradientUnits="userSpaceOnUse" x1="287.0" y1="403.8" x2="559.9" y2="218.2"><stop offset="0" stop-color="#646464"/><stop offset="1" stop-color="#6c6c6c"/></linearGradient>
<path d="M230.4,551.8 L237.0,547.3 L243.7,542.8 L250.3,538.3 L256.9,533.8 L263.5,529.3 L269.8,524.3 L275.9,519.1 L282.0,513.8 L288.1,508.6 L294.3,503.5 L300.6,498.6 L307.0,493.7 L313.5,489.1 L320.1,484.5 L326.8,480.1 L333.5,475.7 L340.3,471.5 L347.2,467.4 L354.1,463.4 L361.2,459.5 L368.2,455.7 L375.4,452.0 L382.6,448.3 L389.8,444.8 L397.1,441.3 L404.5,437.8 L411.9,434.5 L419.3,431.1 L426.7,427.9 L434.2,424.6 L441.7,421.4 L449.2,418.2 L456.7,415.0 L464.2,411.9 L471.8,408.7 L479.3,405.6 L486.8,402.5 L494.4,399.3 L501.9,396.2 L509.4,393.0 L516.9,389.8 L524.5,386.6 L532.0,383.4 L539.4,380.2 L546.9,377.0 L554.4,373.8 L561.8,370.5 L569.3,367.2 L576.7,363.9 L584.1,360.6 L591.5,357.3 L599.0,353.9 L606.4,350.6 L613.8,347.2 L621.2,343.9 L628.5,340.6 L636.0,337.2 L643.0,333.3 L649.6,328.8 L656.2,324.4 L662.8,319.9 L669.5,315.4 L676.1,310.9 L682.7,306.4 L689.3,301.9 L695.9,297.4 L702.5,292.9 L709.2,288.4 L715.8,283.9 L722.4,279.4 L729.0,274.9 L735.6,270.4 L742.2,265.9 L748.8,261.4 L834.5,387.4 L827.9,391.9 L821.3,396.4 L814.7,400.9 L808.1,405.4 L801.5,409.9 L794.8,414.4 L788.2,418.9 L781.6,423.4 L775.0,427.9 L768.4,432.4 L761.8,436.9 L755.1,441.4 L748.5,445.9 L742.2,450.8 L736.0,455.9 L729.6,460.6 L722.2,464.0 L714.2,466.5 L706.3,469.2 L698.4,471.8 L690.5,474.4 L682.6,476.9 L674.6,479.3 L666.5,481.8 L658.5,484.1 L650.4,486.4 L642.2,488.7 L634.1,491.0 L625.9,493.2 L617.7,495.3 L609.5,497.5 L601.2,499.6 L593.0,501.6 L584.7,503.7 L576.4,505.7 L568.1,507.8 L559.8,509.8 L551.5,511.8 L543.3,513.9 L535.0,515.9 L526.7,518.0 L518.5,520.2 L510.3,522.3 L502.1,524.5 L494.0,526.8 L485.9,529.2 L477.9,531.6 L470.0,534.1 L462.1,536.8 L454.3,539.5 L446.6,542.4 L438.9,545.4 L431.4,548.6 L424.0,551.9 L416.7,555.4 L409.5,559.0 L402.4,562.9 L395.5,566.9 L388.7,571.1 L382.0,575.5 L375.5,580.2 L369.1,585.0 L362.9,590.1 L356.8,595.4 L350.9,600.9 L345.1,606.6 L339.5,612.5 L333.8,618.4 L327.8,623.8 L321.1,628.3 L314.5,632.8 L307.9,637.3 L301.3,641.8 L294.7,646.3Z" fill="url(#bg113)"/>
</g></g>
<path d="M264.6,526.9 L266.3,525.5 L267.7,523.7 L268.8,521.6 L269.6,519.1 L270.2,516.3 L270.4,513.1 L270.4,509.7 L270.1,505.9 L269.5,501.9 L268.6,497.6 L267.5,493.1 L266.0,488.4 L264.4,483.5 L262.4,478.4 L260.2,473.2 L257.8,467.9 L255.1,462.5 L252.3,457.0 L249.2,451.5 L246.0,446.0 L242.6,440.5 L239.0,435.1 L235.4,429.8 L231.6,424.5 L227.7,419.4 L223.7,414.5 L219.7,409.7 L215.7,405.2 L211.6,400.8 L207.6,396.7 L203.5,392.9 L199.6,389.4 L195.7,386.2 L191.8,383.3 L188.1,380.7 L184.5,378.5 L181.1,376.7 L177.8,375.2 L174.7,374.1 L171.7,373.4 L169.0,373.0 L166.5,373.1 L164.2,373.5 L162.2,374.3 L160.4,375.5 L158.9,377.1 L157.7,379.1 L156.7,381.4 L156.0,384.0 L155.6,387.0 L155.5,390.3 L155.6,393.9 L156.1,397.8 L156.8,402.0 L157.8,406.4 L159.1,411.0 L160.7,415.8 L162.5,420.8 L164.6,426.0 L166.9,431.2 L169.4,436.6 L172.2,442.0 L175.1,447.5 L178.3,453.0 L181.6,458.5 L185.1,464.0 L188.7,469.3 L192.4,474.6 L196.3,479.8 L200.2,484.8 L204.2,489.7 L208.2,494.4 L212.3,498.8 L216.3,503.0 L220.4,507.0 L224.4,510.7 L228.3,514.0 L232.2,517.1 L236.0,519.8 L239.6,522.2 L243.1,524.2 L246.5,525.9 L249.7,527.2 L252.7,528.1 L255.6,528.6 L258.2,528.8 L260.6,528.5 L262.7,527.9 L264.6,526.9Z" fill="url(#gFace)"/>
<path d="M66,527.5 L202.7,436.3 L207.3,436.9 L219,450 L223,466 L77,563 Z" fill="url(#gShaft)"/>
<path d="M59.3,534 L69.6,526.5 L88,550 L79,564 L67,557 Z" fill="url(#gEnd)"/>
<line x1="72.0" y1="550.0" x2="688.1" y2="131.1" stroke="#111" stroke-width="1.8" stroke-dasharray="11.5,6.2,1.5,6.2" stroke-dashoffset="19.15"/>
<line x1="235.5" y1="419.5" x2="245.0" y2="408.6" stroke="#000" stroke-width="1.8"/><polygon points="251.5,401.0 247.9,415.1 238.1,406.6" fill="#000"/>
<line x1="263.0" y1="391.0" x2="272.0" y2="379.0" stroke="#000" stroke-width="1.8"/><polygon points="278.0,371.0 275.4,385.3 265.0,377.5" fill="#000"/>
<line x1="294.7" y1="358.0" x2="304.6" y2="347.0" stroke="#000" stroke-width="1.8"/><polygon points="311.3,339.6 307.4,353.6 297.8,344.9" fill="#000"/>
<line x1="336.0" y1="324.7" x2="347.0" y2="309.5" stroke="#000" stroke-width="1.8"/><polygon points="352.8,301.4 350.5,315.7 339.9,308.1" fill="#000"/>
<line x1="376.0" y1="278.5" x2="389.5" y2="262.6" stroke="#000" stroke-width="1.8"/><polygon points="396.0,255.0 392.5,269.1 382.6,260.7" fill="#000"/>
<line x1="423.8" y1="226.0" x2="437.1" y2="211.2" stroke="#000" stroke-width="1.8"/><polygon points="443.8,203.8 439.9,217.8 430.2,209.1" fill="#000"/>
<line x1="468.8" y1="180.0" x2="478.5" y2="168.8" stroke="#000" stroke-width="1.8"/><polygon points="485.0,161.2 481.4,175.3 471.6,166.8" fill="#000"/>
<line x1="526.0" y1="129.0" x2="541.5" y2="108.0" stroke="#000" stroke-width="1.8"/><polygon points="547.5,100.0 545.0,114.3 534.5,106.6" fill="#000"/>
<line x1="547.5" y1="100.0" x2="439.8" y2="42.2" stroke="#000" stroke-width="1.7"/><polygon points="431.0,37.5 445.5,37.9 439.4,49.4" fill="#000"/>
<line x1="232.0" y1="421.0" x2="182.0" y2="333.7" stroke="#000" stroke-width="1.7"/><polygon points="177.0,325.0 189.1,333.0 177.8,339.5" fill="#000"/>
<line x1="219.0" y1="450.5" x2="257.6" y2="522.0" stroke="#000" stroke-width="1.8"/><polygon points="262.3,530.8 250.4,522.4 261.9,516.3" fill="#000"/>
<line x1="509.0" y1="254.0" x2="654.0" y2="310.4" stroke="#000" stroke-width="1.7"/><polygon points="663.3,314.0 648.8,315.3 653.5,303.2" fill="#000"/>
<line x1="295.0" y1="204.0" x2="371.0" y2="261.9" stroke="#000" stroke-width="1.7"/><polygon points="379.0,268.0 364.7,265.3 372.6,255.0" fill="#000"/>
<path d="M48.5,553.5 L51.2,549.2 C50.6,546.7 48.7,539.2 47.5,534.0 C46.3,528.8 44.9,523.0 44.0,518.0 C43.1,513.0 42.5,508.0 42.0,504.0 C41.5,500.0 41.1,496.7 41.3,494.0 C41.5,491.3 41.9,489.6 43.0,488.0 C44.1,486.4 46.2,485.2 48.0,484.5 C49.8,483.8 52.0,483.1 54.0,483.5 C56.0,483.9 57.7,484.9 60.0,487.0 C62.3,489.1 65.3,492.6 68.0,496.0 C70.7,499.4 73.3,503.5 76.0,507.5 C78.7,511.5 81.5,515.6 84.0,520.0 C86.5,524.4 89.0,529.3 91.0,534.0 C93.0,538.7 94.2,542.8 96.0,548.0 C97.8,553.2 100.8,562.2 101.8,565.1 L92,568 C91.3,565.2 89.7,556.8 88.0,551.0 C86.3,545.2 84.3,538.7 82.0,533.0 C79.7,527.3 76.9,522.0 74.0,517.0 C71.1,512.0 67.5,506.9 64.5,503.0 C61.5,499.1 58.3,495.8 56.0,493.5 C53.7,491.2 51.5,489.4 50.5,489.5 C49.5,489.6 49.7,490.6 49.8,494.0 C49.9,497.4 50.4,504.6 51.3,509.9 C52.2,515.2 53.8,521.3 55.0,526.0 C56.2,530.7 57.3,534.7 58.3,538.0 C59.3,541.3 60.5,544.7 60.9,546.0 L66.3,546.5 L67.4,578.3 Z" fill="#8f8f8f" stroke="#1a1a1a" stroke-width="1.4" stroke-linejoin="round"/>
<text x="392.0" y="25.7" font-size="41.0" font-style="italic">U</text>
<text x="420.5" y="30.3" font-size="26.0" font-style="italic">θ</text>
<text x="431.0" y="30.3" font-size="26.0" font-style="italic">,</text>
<text x="438.5" y="30.3" font-size="26.0" font-style="italic">o</text>
<text x="142.0" y="312.4" font-size="41.0" font-style="italic">U</text>
<text x="170.0" y="317.0" font-size="26.0" font-style="italic">θ</text>
<text x="181.0" y="317.0" font-size="26.0" font-style="italic">,</text>
<text x="187.5" y="317.0" font-size="26.0" font-style="italic">i</text>
<text x="205.4" y="192.7" font-size="41.0">Flow Path</text>
<text x="-1.0" y="469.9" font-size="42.0">Γ</text>
<text x="24.5" y="469.9" font-size="42.0">,</text>
<text x="44.3" y="469.9" font-size="42.5">Ω</text>
<text x="231.5" y="569.0" font-size="39.0" font-style="italic">r</text>
<text x="247.5" y="574.5" font-size="26.0" font-style="italic">i</text>
<text x="671.0" y="331.9" font-size="39.0" font-style="italic">r</text>
<text x="685.5" y="336.9" font-size="26.0" font-style="italic">o</text>
</svg></body></html>
